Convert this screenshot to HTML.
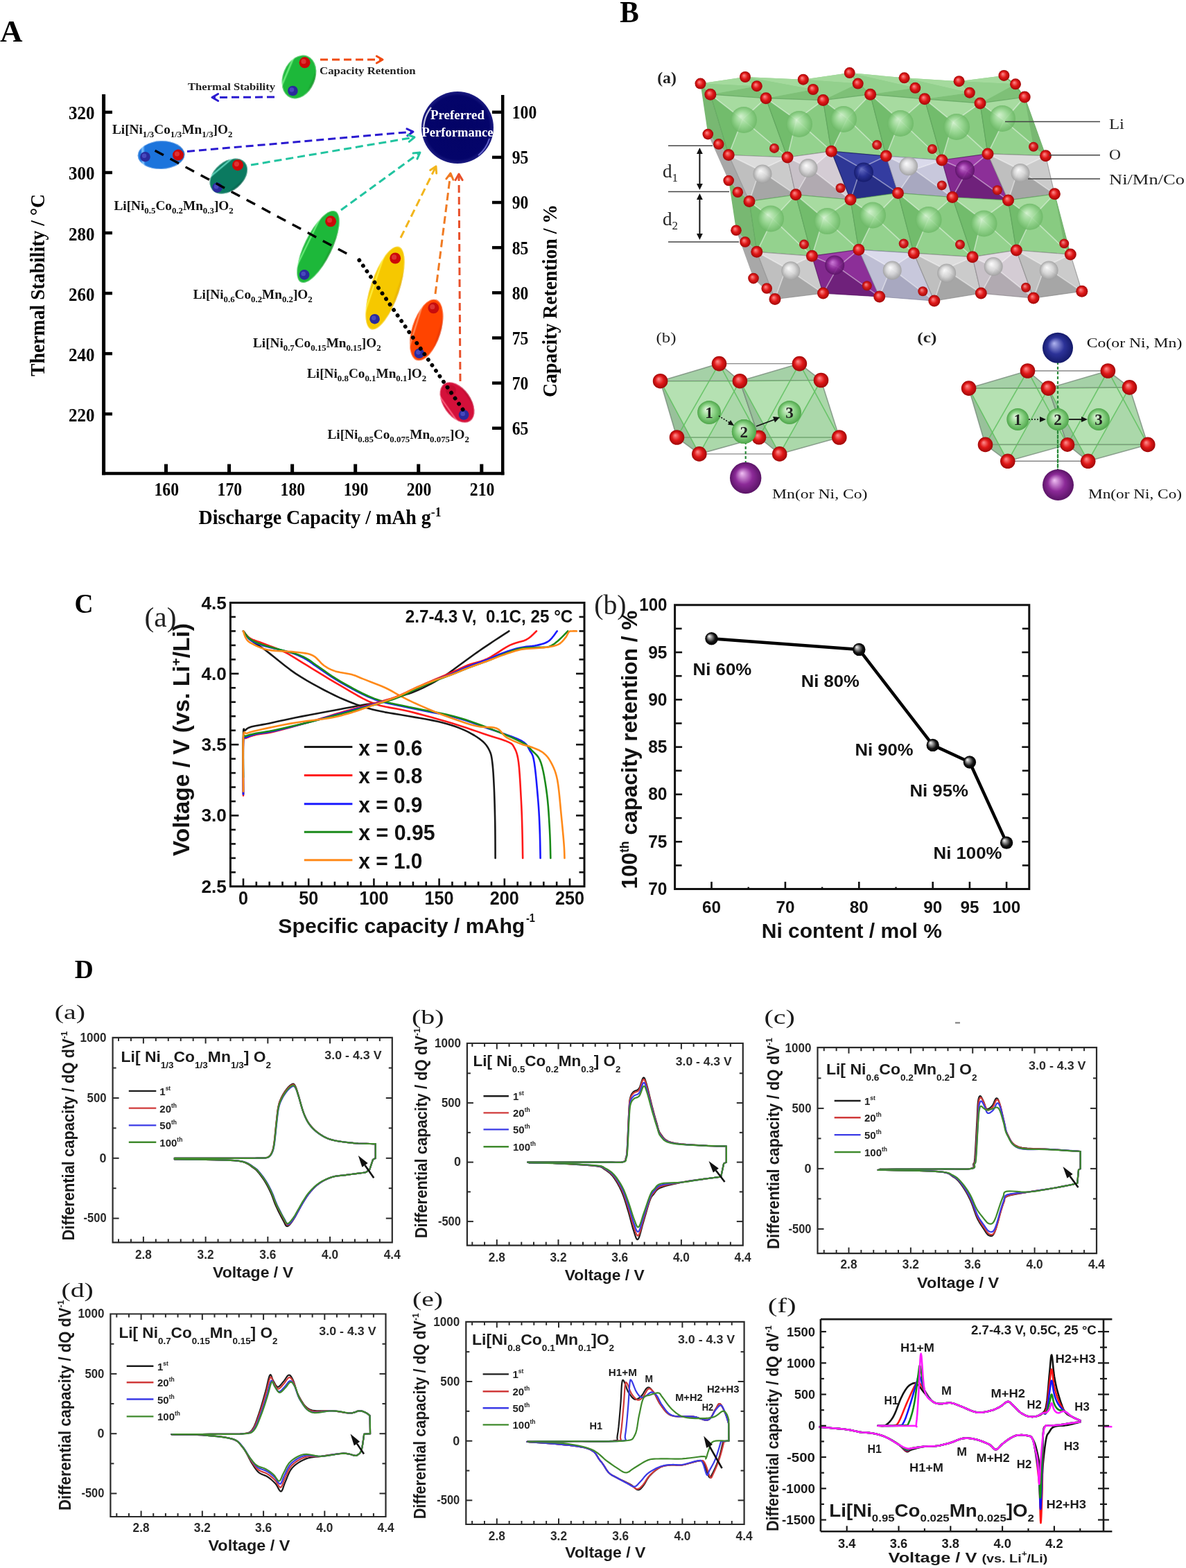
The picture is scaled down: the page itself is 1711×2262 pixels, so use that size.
<!DOCTYPE html>
<html><head><meta charset="utf-8"><title>Figure</title><style>html,body{margin:0;padding:0;background:#fff;}svg{display:block;}</style></head><body>
<svg width="1711" height="2262" viewBox="0 0 1711 2262">
<rect width="1711" height="2262" fill="#fff"/>
<text x="0" y="60" font-family='"Liberation Serif", "Times New Roman", serif' font-size="45" font-weight="bold" text-anchor="start" fill="#000" >A</text>
<defs><linearGradient id="g1" x1="0" y1="0" x2="1" y2="0"><stop offset="0" stop-color="#1c74dc"/><stop offset="0.06" stop-color="#1c74dc"/><stop offset="0.11" stop-color="#7cc0ff"/><stop offset="0.16" stop-color="#1c74dc"/><stop offset="0.88" stop-color="#1c74dc"/><stop offset="1" stop-color="#1058b8"/></linearGradient></defs><ellipse cx="0" cy="0" rx="34" ry="20.5" fill="url(#g1)" transform="translate(232.6,223.6) rotate(-2)" /><ellipse cx="0" cy="0" rx="33.4" ry="19.9" fill="none" transform="translate(232.6,223.6) rotate(-2)" stroke="#ffffff" stroke-opacity="0.35" stroke-width="1.2"/>
<defs><linearGradient id="g2" x1="0" y1="0" x2="1" y2="0"><stop offset="0" stop-color="#0b7a60"/><stop offset="0.06" stop-color="#0b7a60"/><stop offset="0.11" stop-color="#60d8c0"/><stop offset="0.16" stop-color="#0b7a60"/><stop offset="0.88" stop-color="#0b7a60"/><stop offset="1" stop-color="#075c48"/></linearGradient></defs><ellipse cx="0" cy="0" rx="21" ry="31" fill="url(#g2)" transform="translate(329.8,254.1) rotate(50)" /><ellipse cx="0" cy="0" rx="20.4" ry="30.4" fill="none" transform="translate(329.8,254.1) rotate(50)" stroke="#ffffff" stroke-opacity="0.35" stroke-width="1.2"/>
<defs><linearGradient id="g3" x1="0" y1="0" x2="1" y2="0"><stop offset="0" stop-color="#1db83a"/><stop offset="0.06" stop-color="#1db83a"/><stop offset="0.11" stop-color="#70f080"/><stop offset="0.16" stop-color="#1db83a"/><stop offset="0.88" stop-color="#1db83a"/><stop offset="1" stop-color="#189028"/></linearGradient></defs><ellipse cx="0" cy="0" rx="20" ry="57" fill="url(#g3)" transform="translate(459,356) rotate(26)" /><ellipse cx="0" cy="0" rx="19.4" ry="56.4" fill="none" transform="translate(459,356) rotate(26)" stroke="#ffffff" stroke-opacity="0.35" stroke-width="1.2"/>
<defs><linearGradient id="g4" x1="0" y1="0" x2="1" y2="0"><stop offset="0" stop-color="#f6c800"/><stop offset="0.06" stop-color="#f6c800"/><stop offset="0.11" stop-color="#fff040"/><stop offset="0.16" stop-color="#f6c800"/><stop offset="0.88" stop-color="#f6c800"/><stop offset="1" stop-color="#e0a800"/></linearGradient></defs><ellipse cx="0" cy="0" rx="21" ry="63" fill="url(#g4)" transform="translate(555.5,415.5) rotate(18.6)" /><ellipse cx="0" cy="0" rx="20.4" ry="62.4" fill="none" transform="translate(555.5,415.5) rotate(18.6)" stroke="#ffffff" stroke-opacity="0.35" stroke-width="1.2"/>
<defs><linearGradient id="g5" x1="0" y1="0" x2="1" y2="0"><stop offset="0" stop-color="#ff4400"/><stop offset="0.06" stop-color="#ff4400"/><stop offset="0.11" stop-color="#ff9060"/><stop offset="0.16" stop-color="#ff4400"/><stop offset="0.88" stop-color="#ff4400"/><stop offset="1" stop-color="#e03000"/></linearGradient></defs><ellipse cx="0" cy="0" rx="21" ry="46" fill="url(#g5)" transform="translate(615.2,476) rotate(17.4)" /><ellipse cx="0" cy="0" rx="20.4" ry="45.4" fill="none" transform="translate(615.2,476) rotate(17.4)" stroke="#ffffff" stroke-opacity="0.35" stroke-width="1.2"/>
<defs><linearGradient id="g6" x1="0" y1="0" x2="1" y2="0"><stop offset="0" stop-color="#d4103a"/><stop offset="0.06" stop-color="#d4103a"/><stop offset="0.11" stop-color="#ff6080"/><stop offset="0.16" stop-color="#d4103a"/><stop offset="0.88" stop-color="#d4103a"/><stop offset="1" stop-color="#b00828"/></linearGradient></defs><ellipse cx="0" cy="0" rx="20" ry="33" fill="url(#g6)" transform="translate(659.5,580.5) rotate(-35)" /><ellipse cx="0" cy="0" rx="19.4" ry="32.4" fill="none" transform="translate(659.5,580.5) rotate(-35)" stroke="#ffffff" stroke-opacity="0.35" stroke-width="1.2"/>
<defs><linearGradient id="g7" x1="0" y1="0" x2="1" y2="0"><stop offset="0" stop-color="#1db83a"/><stop offset="0.06" stop-color="#1db83a"/><stop offset="0.11" stop-color="#70f080"/><stop offset="0.16" stop-color="#1db83a"/><stop offset="0.88" stop-color="#1db83a"/><stop offset="1" stop-color="#189028"/></linearGradient></defs><ellipse cx="0" cy="0" rx="23.3" ry="32.7" fill="url(#g7)" transform="translate(431.4,111) rotate(22.9)" /><ellipse cx="0" cy="0" rx="22.7" ry="32.1" fill="none" transform="translate(431.4,111) rotate(22.9)" stroke="#ffffff" stroke-opacity="0.35" stroke-width="1.2"/>
<line x1="149.6" y1="136" x2="149.6" y2="685.2" stroke="#000" stroke-width="5" />
<line x1="147.1" y1="683" x2="727.4" y2="683" stroke="#000" stroke-width="4.3" />
<line x1="725.2" y1="137" x2="725.2" y2="685.2" stroke="#000" stroke-width="4.5" />
<line x1="150" y1="597.2" x2="162" y2="597.2" stroke="#000" stroke-width="4.5" />
<text x="136.6" y="607.7" font-family='"Liberation Serif", "Times New Roman", serif' font-size="27.5" font-weight="bold" text-anchor="end" fill="#000" textLength="37.5" lengthAdjust="spacingAndGlyphs">220</text>
<line x1="150" y1="510.14" x2="162" y2="510.14" stroke="#000" stroke-width="4.5" />
<text x="136.6" y="520.64" font-family='"Liberation Serif", "Times New Roman", serif' font-size="27.5" font-weight="bold" text-anchor="end" fill="#000" textLength="37.5" lengthAdjust="spacingAndGlyphs">240</text>
<line x1="150" y1="423.08" x2="162" y2="423.08" stroke="#000" stroke-width="4.5" />
<text x="136.6" y="433.58" font-family='"Liberation Serif", "Times New Roman", serif' font-size="27.5" font-weight="bold" text-anchor="end" fill="#000" textLength="37.5" lengthAdjust="spacingAndGlyphs">260</text>
<line x1="150" y1="336.02" x2="162" y2="336.02" stroke="#000" stroke-width="4.5" />
<text x="136.6" y="346.52" font-family='"Liberation Serif", "Times New Roman", serif' font-size="27.5" font-weight="bold" text-anchor="end" fill="#000" textLength="37.5" lengthAdjust="spacingAndGlyphs">280</text>
<line x1="150" y1="248.96" x2="162" y2="248.96" stroke="#000" stroke-width="4.5" />
<text x="136.6" y="259.46" font-family='"Liberation Serif", "Times New Roman", serif' font-size="27.5" font-weight="bold" text-anchor="end" fill="#000" textLength="37.5" lengthAdjust="spacingAndGlyphs">300</text>
<line x1="150" y1="161.9" x2="162" y2="161.9" stroke="#000" stroke-width="4.5" />
<text x="136.6" y="172.4" font-family='"Liberation Serif", "Times New Roman", serif' font-size="27.5" font-weight="bold" text-anchor="end" fill="#000" textLength="37.5" lengthAdjust="spacingAndGlyphs">320</text>
<line x1="239.5" y1="683" x2="239.5" y2="669.5" stroke="#000" stroke-width="5" />
<text x="240.3" y="715" font-family='"Liberation Serif", "Times New Roman", serif' font-size="27" font-weight="bold" text-anchor="middle" fill="#000" textLength="35.6" lengthAdjust="spacingAndGlyphs">160</text>
<line x1="330.56" y1="683" x2="330.56" y2="669.5" stroke="#000" stroke-width="5" />
<text x="331.36" y="715" font-family='"Liberation Serif", "Times New Roman", serif' font-size="27" font-weight="bold" text-anchor="middle" fill="#000" textLength="35.6" lengthAdjust="spacingAndGlyphs">170</text>
<line x1="421.62" y1="683" x2="421.62" y2="669.5" stroke="#000" stroke-width="5" />
<text x="422.42" y="715" font-family='"Liberation Serif", "Times New Roman", serif' font-size="27" font-weight="bold" text-anchor="middle" fill="#000" textLength="35.6" lengthAdjust="spacingAndGlyphs">180</text>
<line x1="512.68" y1="683" x2="512.68" y2="669.5" stroke="#000" stroke-width="5" />
<text x="513.48" y="715" font-family='"Liberation Serif", "Times New Roman", serif' font-size="27" font-weight="bold" text-anchor="middle" fill="#000" textLength="35.6" lengthAdjust="spacingAndGlyphs">190</text>
<line x1="603.74" y1="683" x2="603.74" y2="669.5" stroke="#000" stroke-width="5" />
<text x="604.54" y="715" font-family='"Liberation Serif", "Times New Roman", serif' font-size="27" font-weight="bold" text-anchor="middle" fill="#000" textLength="35.6" lengthAdjust="spacingAndGlyphs">200</text>
<line x1="694.8" y1="683" x2="694.8" y2="669.5" stroke="#000" stroke-width="5" />
<text x="695.6" y="715" font-family='"Liberation Serif", "Times New Roman", serif' font-size="27" font-weight="bold" text-anchor="middle" fill="#000" textLength="35.6" lengthAdjust="spacingAndGlyphs">210</text>
<line x1="710" y1="617.71" x2="725" y2="617.71" stroke="#000" stroke-width="4.5" />
<text x="738.8" y="627.11" font-family='"Liberation Serif", "Times New Roman", serif' font-size="27" font-weight="bold" text-anchor="start" fill="#000" textLength="23.6" lengthAdjust="spacingAndGlyphs">65</text>
<line x1="710" y1="552.58" x2="725" y2="552.58" stroke="#000" stroke-width="4.5" />
<text x="738.8" y="561.98" font-family='"Liberation Serif", "Times New Roman", serif' font-size="27" font-weight="bold" text-anchor="start" fill="#000" textLength="23.6" lengthAdjust="spacingAndGlyphs">70</text>
<line x1="710" y1="487.45" x2="725" y2="487.45" stroke="#000" stroke-width="4.5" />
<text x="738.8" y="496.85" font-family='"Liberation Serif", "Times New Roman", serif' font-size="27" font-weight="bold" text-anchor="start" fill="#000" textLength="23.6" lengthAdjust="spacingAndGlyphs">75</text>
<line x1="710" y1="422.32" x2="725" y2="422.32" stroke="#000" stroke-width="4.5" />
<text x="738.8" y="431.72" font-family='"Liberation Serif", "Times New Roman", serif' font-size="27" font-weight="bold" text-anchor="start" fill="#000" textLength="23.6" lengthAdjust="spacingAndGlyphs">80</text>
<line x1="710" y1="357.19" x2="725" y2="357.19" stroke="#000" stroke-width="4.5" />
<text x="738.8" y="366.59" font-family='"Liberation Serif", "Times New Roman", serif' font-size="27" font-weight="bold" text-anchor="start" fill="#000" textLength="23.6" lengthAdjust="spacingAndGlyphs">85</text>
<line x1="710" y1="292.06" x2="725" y2="292.06" stroke="#000" stroke-width="4.5" />
<text x="738.8" y="301.46" font-family='"Liberation Serif", "Times New Roman", serif' font-size="27" font-weight="bold" text-anchor="start" fill="#000" textLength="23.6" lengthAdjust="spacingAndGlyphs">90</text>
<line x1="710" y1="226.93" x2="725" y2="226.93" stroke="#000" stroke-width="4.5" />
<text x="738.8" y="236.33" font-family='"Liberation Serif", "Times New Roman", serif' font-size="27" font-weight="bold" text-anchor="start" fill="#000" textLength="23.6" lengthAdjust="spacingAndGlyphs">95</text>
<line x1="710" y1="161.8" x2="725" y2="161.8" stroke="#000" stroke-width="4.5" />
<text x="738.8" y="171.2" font-family='"Liberation Serif", "Times New Roman", serif' font-size="27" font-weight="bold" text-anchor="start" fill="#000" textLength="35.4" lengthAdjust="spacingAndGlyphs">100</text>
<text x="286.6" y="755.7" font-family='"Liberation Serif", "Times New Roman", serif' font-size="30" font-weight="bold" textLength="350" lengthAdjust="spacingAndGlyphs">Discharge Capacity / mAh g<tspan font-size="19" dy="-11">-1</tspan></text>
<text x="0" y="0" font-family='"Liberation Serif", "Times New Roman", serif' font-size="28.5" font-weight="bold" text-anchor="start" fill="#000" transform="translate(63.5,543) rotate(-90)" textLength="263" lengthAdjust="spacingAndGlyphs">Thermal Stability / &#176;C</text>
<text x="0" y="0" font-family='"Liberation Serif", "Times New Roman", serif' font-size="29" font-weight="bold" text-anchor="start" fill="#000" transform="translate(802.5,573) rotate(-90)" textLength="278" lengthAdjust="spacingAndGlyphs">Capacity Retention / %</text>
<circle cx="209.5" cy="226.2" r="7.3" fill="#2a2a9c" /><circle cx="208.04" cy="224.74" r="3.29" fill="#8080ff" opacity="0.35"/>
<circle cx="257" cy="223.6" r="8" fill="#cc0808" /><circle cx="255.4" cy="222" r="3.6" fill="#ff8080" opacity="0.35"/>
<circle cx="343" cy="238.2" r="8" fill="#cc0808" /><circle cx="341.4" cy="236.6" r="3.6" fill="#ff8080" opacity="0.35"/>
<circle cx="313.5" cy="270.6" r="7.3" fill="#2a2a9c" /><circle cx="312.04" cy="269.14" r="3.29" fill="#8080ff" opacity="0.35"/>
<circle cx="477.1" cy="319.3" r="8" fill="#cc0808" /><circle cx="475.5" cy="317.7" r="3.6" fill="#ff8080" opacity="0.35"/>
<circle cx="439.1" cy="396.4" r="7.3" fill="#2a2a9c" /><circle cx="437.64" cy="394.94" r="3.29" fill="#8080ff" opacity="0.35"/>
<circle cx="570.2" cy="372.5" r="8" fill="#cc0808" /><circle cx="568.6" cy="370.9" r="3.6" fill="#ff8080" opacity="0.35"/>
<circle cx="540.6" cy="460.2" r="7.3" fill="#2a2a9c" /><circle cx="539.14" cy="458.74" r="3.29" fill="#8080ff" opacity="0.35"/>
<circle cx="625.4" cy="444.3" r="8" fill="#c80c0c" /><circle cx="623.8" cy="442.7" r="3.6" fill="#ff8080" opacity="0.35"/>
<circle cx="604.9" cy="509.8" r="7.3" fill="#2a2a9c" /><circle cx="603.44" cy="508.34" r="3.29" fill="#8080ff" opacity="0.35"/>
<circle cx="650.5" cy="563" r="7.5" fill="#b8082a" opacity="0.6"/>
<circle cx="669.1" cy="598.5" r="7.3" fill="#2a2a9c" /><circle cx="667.64" cy="597.04" r="3.29" fill="#8080ff" opacity="0.35"/>
<circle cx="439.6" cy="90.3" r="8" fill="#cc0808" /><circle cx="438" cy="88.7" r="3.6" fill="#ff8080" opacity="0.35"/>
<circle cx="422.4" cy="131" r="7.3" fill="#2a2a9c" /><circle cx="420.94" cy="129.54" r="3.29" fill="#8080ff" opacity="0.35"/>
<line x1="223.6" y1="217.2" x2="506" y2="369" stroke="#000" stroke-width="3.4" stroke-dasharray="14,11"/>
<line x1="518.3" y1="375.4" x2="670" y2="594" stroke="#000" stroke-width="5.8" stroke-dasharray="0.1,9.6" stroke-linecap="round"/>
<line x1="270" y1="218.5" x2="596" y2="190" stroke="#2a1ad0" stroke-width="3" stroke-dasharray="11,6"/><polyline points="587.81,195.74 596,190 586.94,185.77" fill="none" stroke="#2a1ad0" stroke-width="3" stroke-linejoin="round" stroke-linecap="round" />
<line x1="362" y1="238" x2="598" y2="198" stroke="#22c4a0" stroke-width="3" stroke-dasharray="11,6"/><polyline points="590.3,204.38 598,198 588.63,194.52" fill="none" stroke="#22c4a0" stroke-width="3" stroke-linejoin="round" stroke-linecap="round" />
<line x1="492" y1="303" x2="606" y2="220" stroke="#22c4a0" stroke-width="3" stroke-dasharray="11,6"/><polyline points="601.94,229.14 606,220 596.06,221.06" fill="none" stroke="#22c4a0" stroke-width="3" stroke-linejoin="round" stroke-linecap="round" />
<line x1="578" y1="343" x2="629" y2="240" stroke="#f2b51c" stroke-width="3" stroke-dasharray="11,6"/><polyline points="629.64,249.98 629,240 620.68,245.54" fill="none" stroke="#f2b51c" stroke-width="3" stroke-linejoin="round" stroke-linecap="round" />
<line x1="628" y1="424" x2="650" y2="250" stroke="#f07a22" stroke-width="3" stroke-dasharray="11,6"/><polyline points="653.87,259.22 650,250 643.95,257.96" fill="none" stroke="#f07a22" stroke-width="3" stroke-linejoin="round" stroke-linecap="round" />
<line x1="664" y1="550" x2="662" y2="251" stroke="#e8502a" stroke-width="3" stroke-dasharray="11,6"/><polyline points="667.06,259.63 662,251 657.06,259.69" fill="none" stroke="#e8502a" stroke-width="3" stroke-linejoin="round" stroke-linecap="round" />
<line x1="462" y1="86" x2="552" y2="86" stroke="#f04a10" stroke-width="3" stroke-dasharray="11,6"/><polyline points="543.34,91 552,86 543.34,81" fill="none" stroke="#f04a10" stroke-width="3" stroke-linejoin="round" stroke-linecap="round" />
<line x1="396" y1="140" x2="306" y2="140.5" stroke="#2a1ad0" stroke-width="3" stroke-dasharray="11,6"/><polyline points="314.63,135.45 306,140.5 314.69,145.45" fill="none" stroke="#2a1ad0" stroke-width="3" stroke-linejoin="round" stroke-linecap="round" />
<text x="461" y="106.5" font-family='"Liberation Serif", "Times New Roman", serif' font-size="15.5" font-weight="bold" text-anchor="start" fill="#222" textLength="138.7" lengthAdjust="spacingAndGlyphs">Capacity Retention</text>
<text x="271" y="129.8" font-family='"Liberation Serif", "Times New Roman", serif' font-size="15.5" font-weight="bold" text-anchor="start" fill="#222" textLength="126" lengthAdjust="spacingAndGlyphs">Thermal Stability</text>
<defs><radialGradient id="pp" cx="50%" cy="50%" r="50%"><stop offset="0" stop-color="#030366"/><stop offset="0.88" stop-color="#04046a"/><stop offset="1" stop-color="#1c1c82"/></radialGradient></defs>
<circle cx="660" cy="184" r="52" fill="url(#pp)" />
<path d="M 612.5 197 A 49 49 0 0 1 622 155" fill="none" stroke="#ffffff" stroke-width="2.2" opacity="0.75" fill="none"/>
<path d="M 690 224 A 49 49 0 0 0 706 200" fill="none" stroke="#8888ee" stroke-width="2" opacity="0.7" fill="none"/>
<text x="660" y="172" font-family='"Liberation Serif", "Times New Roman", serif' font-size="19" font-weight="bold" text-anchor="middle" fill="#fff" textLength="78" lengthAdjust="spacingAndGlyphs">Preferred</text>
<text x="660" y="196.5" font-family='"Liberation Serif", "Times New Roman", serif' font-size="19" font-weight="bold" text-anchor="middle" fill="#fff" textLength="103" lengthAdjust="spacingAndGlyphs">Performance</text>
<text x="162" y="192.7" font-family='"Liberation Serif", "Times New Roman", serif' font-size="19.5" font-weight="bold" fill="#111" textLength="173.4" lengthAdjust="spacingAndGlyphs"><tspan dy="0">Li[Ni</tspan><tspan font-size="13" dy="5">1/3</tspan><tspan dy="-5">Co</tspan><tspan font-size="13" dy="5">1/3</tspan><tspan dy="-5">Mn</tspan><tspan font-size="13" dy="5">1/3</tspan><tspan dy="-5">]O</tspan><tspan font-size="13" dy="5">2</tspan></text>
<text x="164.5" y="303.3" font-family='"Liberation Serif", "Times New Roman", serif' font-size="19.5" font-weight="bold" fill="#111" textLength="172.2" lengthAdjust="spacingAndGlyphs"><tspan dy="0">Li[Ni</tspan><tspan font-size="13" dy="5">0.5</tspan><tspan dy="-5">Co</tspan><tspan font-size="13" dy="5">0.2</tspan><tspan dy="-5">Mn</tspan><tspan font-size="13" dy="5">0.3</tspan><tspan dy="-5">]O</tspan><tspan font-size="13" dy="5">2</tspan></text>
<text x="278.8" y="431.4" font-family='"Liberation Serif", "Times New Roman", serif' font-size="19.5" font-weight="bold" fill="#111" textLength="171.9" lengthAdjust="spacingAndGlyphs"><tspan dy="0">Li[Ni</tspan><tspan font-size="13" dy="5">0.6</tspan><tspan dy="-5">Co</tspan><tspan font-size="13" dy="5">0.2</tspan><tspan dy="-5">Mn</tspan><tspan font-size="13" dy="5">0.2</tspan><tspan dy="-5">]O</tspan><tspan font-size="13" dy="5">2</tspan></text>
<text x="365" y="500.8" font-family='"Liberation Serif", "Times New Roman", serif' font-size="19.5" font-weight="bold" fill="#111" textLength="184.6" lengthAdjust="spacingAndGlyphs"><tspan dy="0">Li[Ni</tspan><tspan font-size="13" dy="5">0.7</tspan><tspan dy="-5">Co</tspan><tspan font-size="13" dy="5">0.15</tspan><tspan dy="-5">Mn</tspan><tspan font-size="13" dy="5">0.15</tspan><tspan dy="-5">]O</tspan><tspan font-size="13" dy="5">2</tspan></text>
<text x="443" y="544.5" font-family='"Liberation Serif", "Times New Roman", serif' font-size="19.5" font-weight="bold" fill="#111" textLength="172.2" lengthAdjust="spacingAndGlyphs"><tspan dy="0">Li[Ni</tspan><tspan font-size="13" dy="5">0.8</tspan><tspan dy="-5">Co</tspan><tspan font-size="13" dy="5">0.1</tspan><tspan dy="-5">Mn</tspan><tspan font-size="13" dy="5">0.1</tspan><tspan dy="-5">]O</tspan><tspan font-size="13" dy="5">2</tspan></text>
<text x="472.5" y="633" font-family='"Liberation Serif", "Times New Roman", serif' font-size="19.5" font-weight="bold" fill="#111" textLength="204.3" lengthAdjust="spacingAndGlyphs"><tspan dy="0">Li[Ni</tspan><tspan font-size="13" dy="5">0.85</tspan><tspan dy="-5">Co</tspan><tspan font-size="13" dy="5">0.075</tspan><tspan dy="-5">Mn</tspan><tspan font-size="13" dy="5">0.075</tspan><tspan dy="-5">]O</tspan><tspan font-size="13" dy="5">2</tspan></text>
<defs><radialGradient id="sO" cx="0.5" cy="0.5" r="0.5" fx="0.38" fy="0.35"><stop offset="0" stop-color="#ff9090"/><stop offset="0.55" stop-color="#e01818"/><stop offset="1" stop-color="#a00808"/></radialGradient><radialGradient id="sOb" cx="0.5" cy="0.5" r="0.5" fx="0.38" fy="0.35"><stop offset="0" stop-color="#f49090"/><stop offset="0.55" stop-color="#d81c1c"/><stop offset="1" stop-color="#a00c0c"/></radialGradient><radialGradient id="sLi" cx="0.5" cy="0.5" r="0.5" fx="0.38" fy="0.35"><stop offset="0" stop-color="#d8f4d4"/><stop offset="0.55" stop-color="#9ad894"/><stop offset="1" stop-color="#6cb866"/></radialGradient><radialGradient id="sTM" cx="0.5" cy="0.5" r="0.5" fx="0.38" fy="0.35"><stop offset="0" stop-color="#ffffff"/><stop offset="0.55" stop-color="#d8d8d8"/><stop offset="1" stop-color="#a0a0a0"/></radialGradient><radialGradient id="sBl" cx="0.5" cy="0.5" r="0.5" fx="0.38" fy="0.35"><stop offset="0" stop-color="#6a72c8"/><stop offset="0.55" stop-color="#2a3296"/><stop offset="1" stop-color="#141a6a"/></radialGradient><radialGradient id="sPu" cx="0.5" cy="0.5" r="0.5" fx="0.38" fy="0.35"><stop offset="0" stop-color="#d080dc"/><stop offset="0.55" stop-color="#8c2a98"/><stop offset="1" stop-color="#5a1466"/></radialGradient><radialGradient id="sBlue2" cx="0.5" cy="0.5" r="0.5" fx="0.38" fy="0.35"><stop offset="0" stop-color="#b0b4f0"/><stop offset="0.55" stop-color="#2c3298"/><stop offset="1" stop-color="#141a6a"/></radialGradient><radialGradient id="sPur2" cx="0.5" cy="0.5" r="0.5" fx="0.38" fy="0.35"><stop offset="0" stop-color="#f0c0f4"/><stop offset="0.55" stop-color="#8c2a98"/><stop offset="1" stop-color="#5a1466"/></radialGradient><radialGradient id="sLi2" cx="0.5" cy="0.5" r="0.5" fx="0.38" fy="0.35"><stop offset="0" stop-color="#e8f8e4"/><stop offset="0.55" stop-color="#8ed488"/><stop offset="1" stop-color="#4ea64a"/></radialGradient></defs>
<text x="894.3" y="31.6" font-family='"Liberation Serif", "Times New Roman", serif' font-size="45" font-weight="bold" text-anchor="start" fill="#000" textLength="27.5" lengthAdjust="spacingAndGlyphs">B</text>
<text x="948.2" y="119.8" font-family='"Liberation Serif", "Times New Roman", serif' font-size="24" font-weight="bold" text-anchor="start" fill="#222" textLength="27.7" lengthAdjust="spacingAndGlyphs">(a)</text>
<polygon points="1010.5,120.6 1075,111 1158.8,114.7 1225.7,105.1 1304.6,112.3 1383.6,117.2 1448.4,108.9 1478.2,140.1 1414,148.9 1334,142.8 1255.6,136.2 1187.5,144.6 1105,141.7 1024.9,136.2" fill="#8ccc86" stroke="none" stroke-width="1" />
<polygon points="1010.5,120.6 1075,111 1091.8,124.2" fill="#a6dca0" stroke="none" stroke-width="1" opacity="0.9"/>
<polygon points="1091.8,124.2 1024.9,136.2 1105,141.7" fill="#7cbf76" stroke="none" stroke-width="1" opacity="0.9"/>
<polygon points="1010.5,120.6 1091.8,124.2 1024.9,136.2" fill="#94d08e" stroke="none" stroke-width="1" opacity="0.9"/>
<polygon points="1075,111 1091.8,124.2 1105,141.7" fill="#6fb269" stroke="none" stroke-width="1" opacity="0.9"/>
<polygon points="1075,111 1158.8,114.7 1173,129" fill="#a6dca0" stroke="none" stroke-width="1" opacity="0.9"/>
<polygon points="1173,129 1105,141.7 1187.5,144.6" fill="#7cbf76" stroke="none" stroke-width="1" opacity="0.9"/>
<polygon points="1075,111 1173,129 1105,141.7" fill="#94d08e" stroke="none" stroke-width="1" opacity="0.9"/>
<polygon points="1158.8,114.7 1173,129 1187.5,144.6" fill="#6fb269" stroke="none" stroke-width="1" opacity="0.9"/>
<polygon points="1158.8,114.7 1225.7,105.1 1237.7,120.6" fill="#a6dca0" stroke="none" stroke-width="1" opacity="0.9"/>
<polygon points="1237.7,120.6 1187.5,144.6 1255.6,136.2" fill="#7cbf76" stroke="none" stroke-width="1" opacity="0.9"/>
<polygon points="1158.8,114.7 1237.7,120.6 1187.5,144.6" fill="#94d08e" stroke="none" stroke-width="1" opacity="0.9"/>
<polygon points="1225.7,105.1 1237.7,120.6 1255.6,136.2" fill="#6fb269" stroke="none" stroke-width="1" opacity="0.9"/>
<polygon points="1225.7,105.1 1304.6,112.3 1320.3,126.8" fill="#a6dca0" stroke="none" stroke-width="1" opacity="0.9"/>
<polygon points="1320.3,126.8 1255.6,136.2 1334,142.8" fill="#7cbf76" stroke="none" stroke-width="1" opacity="0.9"/>
<polygon points="1225.7,105.1 1320.3,126.8 1255.6,136.2" fill="#94d08e" stroke="none" stroke-width="1" opacity="0.9"/>
<polygon points="1304.6,112.3 1320.3,126.8 1334,142.8" fill="#6fb269" stroke="none" stroke-width="1" opacity="0.9"/>
<polygon points="1304.6,112.3 1383.6,117.2 1398.8,133.7" fill="#a6dca0" stroke="none" stroke-width="1" opacity="0.9"/>
<polygon points="1398.8,133.7 1334,142.8 1414,148.9" fill="#7cbf76" stroke="none" stroke-width="1" opacity="0.9"/>
<polygon points="1304.6,112.3 1398.8,133.7 1334,142.8" fill="#94d08e" stroke="none" stroke-width="1" opacity="0.9"/>
<polygon points="1383.6,117.2 1398.8,133.7 1414,148.9" fill="#6fb269" stroke="none" stroke-width="1" opacity="0.9"/>
<polygon points="1383.6,117.2 1448.4,108.9 1465,121.3" fill="#a6dca0" stroke="none" stroke-width="1" opacity="0.9"/>
<polygon points="1465,121.3 1414,148.9 1478.2,140.1" fill="#7cbf76" stroke="none" stroke-width="1" opacity="0.9"/>
<polygon points="1383.6,117.2 1465,121.3 1414,148.9" fill="#94d08e" stroke="none" stroke-width="1" opacity="0.9"/>
<polygon points="1448.4,108.9 1465,121.3 1478.2,140.1" fill="#6fb269" stroke="none" stroke-width="1" opacity="0.9"/>
<polygon points="1010.5,120.6 1024.9,136.2 1051.2,223.5 1021.3,193.6" fill="#78b872" stroke="none" stroke-width="1" />
<polygon points="1021.3,193.6 1051.2,223.5 1081,290.4 1051.2,260.5" fill="#a8a8a8" stroke="none" stroke-width="1" />
<polygon points="1051.2,260.5 1081,290.4 1091.8,363.3 1062,332.2" fill="#78b872" stroke="none" stroke-width="1" />
<polygon points="1062,332.2 1091.8,363.3 1118,431.5 1087,401.6" fill="#a8a8a8" stroke="none" stroke-width="1" />
<polygon points="1024.9,136.2 1105,141.7 1136,227 1051.2,223.5" fill="#94d28e" stroke="none" stroke-width="1" />
<polygon points="1024.9,136.2 1105,141.7 1071.28,172.1" fill="#a8dca2" stroke="none" stroke-width="1" opacity="0.9"/>
<polygon points="1024.9,136.2 1051.2,223.5 1071.28,172.1" fill="#6cb866" stroke="none" stroke-width="1" opacity="0.85"/>
<polygon points="1105,141.7 1136,227 1071.28,172.1" fill="#86ca80" stroke="none" stroke-width="1" opacity="0.9"/>
<polygon points="1051.2,223.5 1136,227 1071.28,172.1" fill="#94d28e" stroke="none" stroke-width="1" opacity="0.9"/>
<line x1="1071.28" y1="172.1" x2="1024.9" y2="136.2" stroke="#ffffff" stroke-width="1.6" opacity="0.45"/>
<line x1="1071.28" y1="172.1" x2="1105" y2="141.7" stroke="#ffffff" stroke-width="1.6" opacity="0.45"/>
<line x1="1071.28" y1="172.1" x2="1051.2" y2="223.5" stroke="#ffffff" stroke-width="1.6" opacity="0.45"/>
<line x1="1071.28" y1="172.1" x2="1136" y2="227" stroke="#ffffff" stroke-width="1.6" opacity="0.45"/>
<polygon points="1024.9,136.2 1105,141.7 1136,227 1051.2,223.5" fill="none" stroke="#5a9e58" stroke-width="1.2" stroke-opacity="0.7"/>
<polygon points="1105,141.7 1187.5,144.6 1199.4,218.2 1136,227" fill="#94d28e" stroke="none" stroke-width="1" />
<polygon points="1105,141.7 1187.5,144.6 1148.97,172.88" fill="#a8dca2" stroke="none" stroke-width="1" opacity="0.9"/>
<polygon points="1105,141.7 1136,227 1148.97,172.88" fill="#6cb866" stroke="none" stroke-width="1" opacity="0.85"/>
<polygon points="1187.5,144.6 1199.4,218.2 1148.97,172.88" fill="#86ca80" stroke="none" stroke-width="1" opacity="0.9"/>
<polygon points="1136,227 1199.4,218.2 1148.97,172.88" fill="#94d28e" stroke="none" stroke-width="1" opacity="0.9"/>
<line x1="1148.97" y1="172.88" x2="1105" y2="141.7" stroke="#ffffff" stroke-width="1.6" opacity="0.45"/>
<line x1="1148.97" y1="172.88" x2="1187.5" y2="144.6" stroke="#ffffff" stroke-width="1.6" opacity="0.45"/>
<line x1="1148.97" y1="172.88" x2="1136" y2="227" stroke="#ffffff" stroke-width="1.6" opacity="0.45"/>
<line x1="1148.97" y1="172.88" x2="1199.4" y2="218.2" stroke="#ffffff" stroke-width="1.6" opacity="0.45"/>
<polygon points="1105,141.7 1187.5,144.6 1199.4,218.2 1136,227" fill="none" stroke="#5a9e58" stroke-width="1.2" stroke-opacity="0.7"/>
<polygon points="1187.5,144.6 1255.6,136.2 1278.3,225.1 1199.4,218.2" fill="#94d28e" stroke="none" stroke-width="1" />
<polygon points="1187.5,144.6 1255.6,136.2 1222.2,171.02" fill="#a8dca2" stroke="none" stroke-width="1" opacity="0.9"/>
<polygon points="1187.5,144.6 1199.4,218.2 1222.2,171.02" fill="#6cb866" stroke="none" stroke-width="1" opacity="0.85"/>
<polygon points="1255.6,136.2 1278.3,225.1 1222.2,171.02" fill="#86ca80" stroke="none" stroke-width="1" opacity="0.9"/>
<polygon points="1199.4,218.2 1278.3,225.1 1222.2,171.02" fill="#94d28e" stroke="none" stroke-width="1" opacity="0.9"/>
<line x1="1222.2" y1="171.02" x2="1187.5" y2="144.6" stroke="#ffffff" stroke-width="1.6" opacity="0.45"/>
<line x1="1222.2" y1="171.02" x2="1255.6" y2="136.2" stroke="#ffffff" stroke-width="1.6" opacity="0.45"/>
<line x1="1222.2" y1="171.02" x2="1199.4" y2="218.2" stroke="#ffffff" stroke-width="1.6" opacity="0.45"/>
<line x1="1222.2" y1="171.02" x2="1278.3" y2="225.1" stroke="#ffffff" stroke-width="1.6" opacity="0.45"/>
<polygon points="1187.5,144.6 1255.6,136.2 1278.3,225.1 1199.4,218.2" fill="none" stroke="#5a9e58" stroke-width="1.2" stroke-opacity="0.7"/>
<polygon points="1255.6,136.2 1334,142.8 1358.8,231 1278.3,225.1" fill="#94d28e" stroke="none" stroke-width="1" />
<polygon points="1255.6,136.2 1334,142.8 1298.67,173.78" fill="#a8dca2" stroke="none" stroke-width="1" opacity="0.9"/>
<polygon points="1255.6,136.2 1278.3,225.1 1298.67,173.78" fill="#6cb866" stroke="none" stroke-width="1" opacity="0.85"/>
<polygon points="1334,142.8 1358.8,231 1298.67,173.78" fill="#86ca80" stroke="none" stroke-width="1" opacity="0.9"/>
<polygon points="1278.3,225.1 1358.8,231 1298.67,173.78" fill="#94d28e" stroke="none" stroke-width="1" opacity="0.9"/>
<line x1="1298.67" y1="173.78" x2="1255.6" y2="136.2" stroke="#ffffff" stroke-width="1.6" opacity="0.45"/>
<line x1="1298.67" y1="173.78" x2="1334" y2="142.8" stroke="#ffffff" stroke-width="1.6" opacity="0.45"/>
<line x1="1298.67" y1="173.78" x2="1278.3" y2="225.1" stroke="#ffffff" stroke-width="1.6" opacity="0.45"/>
<line x1="1298.67" y1="173.78" x2="1358.8" y2="231" stroke="#ffffff" stroke-width="1.6" opacity="0.45"/>
<polygon points="1255.6,136.2 1334,142.8 1358.8,231 1278.3,225.1" fill="none" stroke="#5a9e58" stroke-width="1.2" stroke-opacity="0.7"/>
<polygon points="1334,142.8 1414,148.9 1425,221.9 1358.8,231" fill="#94d28e" stroke="none" stroke-width="1" />
<polygon points="1334,142.8 1414,148.9 1374.95,176.15" fill="#a8dca2" stroke="none" stroke-width="1" opacity="0.9"/>
<polygon points="1334,142.8 1358.8,231 1374.95,176.15" fill="#6cb866" stroke="none" stroke-width="1" opacity="0.85"/>
<polygon points="1414,148.9 1425,221.9 1374.95,176.15" fill="#86ca80" stroke="none" stroke-width="1" opacity="0.9"/>
<polygon points="1358.8,231 1425,221.9 1374.95,176.15" fill="#94d28e" stroke="none" stroke-width="1" opacity="0.9"/>
<line x1="1374.95" y1="176.15" x2="1334" y2="142.8" stroke="#ffffff" stroke-width="1.6" opacity="0.45"/>
<line x1="1374.95" y1="176.15" x2="1414" y2="148.9" stroke="#ffffff" stroke-width="1.6" opacity="0.45"/>
<line x1="1374.95" y1="176.15" x2="1358.8" y2="231" stroke="#ffffff" stroke-width="1.6" opacity="0.45"/>
<line x1="1374.95" y1="176.15" x2="1425" y2="221.9" stroke="#ffffff" stroke-width="1.6" opacity="0.45"/>
<polygon points="1334,142.8 1414,148.9 1425,221.9 1358.8,231" fill="none" stroke="#5a9e58" stroke-width="1.2" stroke-opacity="0.7"/>
<polygon points="1414,148.9 1478.2,140.1 1508.5,224.7 1425,221.9" fill="#94d28e" stroke="none" stroke-width="1" />
<polygon points="1414,148.9 1478.2,140.1 1448.42,173.9" fill="#a8dca2" stroke="none" stroke-width="1" opacity="0.9"/>
<polygon points="1414,148.9 1425,221.9 1448.42,173.9" fill="#6cb866" stroke="none" stroke-width="1" opacity="0.85"/>
<polygon points="1478.2,140.1 1508.5,224.7 1448.42,173.9" fill="#86ca80" stroke="none" stroke-width="1" opacity="0.9"/>
<polygon points="1425,221.9 1508.5,224.7 1448.42,173.9" fill="#94d28e" stroke="none" stroke-width="1" opacity="0.9"/>
<line x1="1448.42" y1="173.9" x2="1414" y2="148.9" stroke="#ffffff" stroke-width="1.6" opacity="0.45"/>
<line x1="1448.42" y1="173.9" x2="1478.2" y2="140.1" stroke="#ffffff" stroke-width="1.6" opacity="0.45"/>
<line x1="1448.42" y1="173.9" x2="1425" y2="221.9" stroke="#ffffff" stroke-width="1.6" opacity="0.45"/>
<line x1="1448.42" y1="173.9" x2="1508.5" y2="224.7" stroke="#ffffff" stroke-width="1.6" opacity="0.45"/>
<polygon points="1414,148.9 1478.2,140.1 1508.5,224.7 1425,221.9" fill="none" stroke="#5a9e58" stroke-width="1.2" stroke-opacity="0.7"/>
<polygon points="1051.2,223.5 1136,227 1148,280.8 1081,290.4" fill="#cbcbcb" stroke="none" stroke-width="1" />
<polygon points="1051.2,223.5 1136,227 1096.05,245.43" fill="#dedede" stroke="none" stroke-width="1" opacity="0.9"/>
<polygon points="1051.2,223.5 1081,290.4 1096.05,245.43" fill="#bdbdbd" stroke="none" stroke-width="1" opacity="0.85"/>
<polygon points="1136,227 1148,280.8 1096.05,245.43" fill="#cbcbcb" stroke="none" stroke-width="1" opacity="0.9"/>
<polygon points="1081,290.4 1148,280.8 1096.05,245.43" fill="#a2a2a2" stroke="none" stroke-width="1" opacity="0.9"/>
<line x1="1096.05" y1="245.43" x2="1051.2" y2="223.5" stroke="#ffffff" stroke-width="1.6" opacity="0.45"/>
<line x1="1096.05" y1="245.43" x2="1136" y2="227" stroke="#ffffff" stroke-width="1.6" opacity="0.45"/>
<line x1="1096.05" y1="245.43" x2="1081" y2="290.4" stroke="#ffffff" stroke-width="1.6" opacity="0.45"/>
<line x1="1096.05" y1="245.43" x2="1148" y2="280.8" stroke="#ffffff" stroke-width="1.6" opacity="0.45"/>
<polygon points="1051.2,223.5 1136,227 1148,280.8 1081,290.4" fill="none" stroke="#8c8c8c" stroke-width="1.2" stroke-opacity="0.7"/>
<polygon points="1136,227 1199.4,218.2 1227,288 1148,280.8" fill="#d4ccd4" stroke="none" stroke-width="1" />
<polygon points="1136,227 1199.4,218.2 1169.6,243.5" fill="#e4dee4" stroke="none" stroke-width="1" opacity="0.9"/>
<polygon points="1136,227 1148,280.8 1169.6,243.5" fill="#c6bec6" stroke="none" stroke-width="1" opacity="0.85"/>
<polygon points="1199.4,218.2 1227,288 1169.6,243.5" fill="#d4ccd4" stroke="none" stroke-width="1" opacity="0.9"/>
<polygon points="1148,280.8 1227,288 1169.6,243.5" fill="#ada6ad" stroke="none" stroke-width="1" opacity="0.9"/>
<line x1="1169.6" y1="243.5" x2="1136" y2="227" stroke="#ffffff" stroke-width="1.6" opacity="0.45"/>
<line x1="1169.6" y1="243.5" x2="1199.4" y2="218.2" stroke="#ffffff" stroke-width="1.6" opacity="0.45"/>
<line x1="1169.6" y1="243.5" x2="1148" y2="280.8" stroke="#ffffff" stroke-width="1.6" opacity="0.45"/>
<line x1="1169.6" y1="243.5" x2="1227" y2="288" stroke="#ffffff" stroke-width="1.6" opacity="0.45"/>
<polygon points="1136,227 1199.4,218.2 1227,288 1148,280.8" fill="none" stroke="#8c868c" stroke-width="1.2" stroke-opacity="0.7"/>
<polygon points="1199.4,218.2 1278.3,225.1 1295.5,278.4 1227,288" fill="#343ca0" stroke="none" stroke-width="1" />
<polygon points="1199.4,218.2 1278.3,225.1 1242.05,242.42" fill="#444cae" stroke="none" stroke-width="1" opacity="0.9"/>
<polygon points="1199.4,218.2 1227,288 1242.05,242.42" fill="#2e3694" stroke="none" stroke-width="1" opacity="0.85"/>
<polygon points="1278.3,225.1 1295.5,278.4 1242.05,242.42" fill="#343ca0" stroke="none" stroke-width="1" opacity="0.9"/>
<polygon points="1227,288 1295.5,278.4 1242.05,242.42" fill="#262c84" stroke="none" stroke-width="1" opacity="0.9"/>
<line x1="1242.05" y1="242.42" x2="1199.4" y2="218.2" stroke="#ffffff" stroke-width="1.6" opacity="0.45"/>
<line x1="1242.05" y1="242.42" x2="1278.3" y2="225.1" stroke="#ffffff" stroke-width="1.6" opacity="0.45"/>
<line x1="1242.05" y1="242.42" x2="1227" y2="288" stroke="#ffffff" stroke-width="1.6" opacity="0.45"/>
<line x1="1242.05" y1="242.42" x2="1295.5" y2="278.4" stroke="#ffffff" stroke-width="1.6" opacity="0.45"/>
<polygon points="1199.4,218.2 1278.3,225.1 1295.5,278.4 1227,288" fill="none" stroke="#1a1e60" stroke-width="1.2" stroke-opacity="0.7"/>
<polygon points="1278.3,225.1 1358.8,231 1374,284.5 1295.5,278.4" fill="#c8c8dc" stroke="none" stroke-width="1" />
<polygon points="1278.3,225.1 1358.8,231 1318.65,244.75" fill="#dcdcec" stroke="none" stroke-width="1" opacity="0.9"/>
<polygon points="1278.3,225.1 1295.5,278.4 1318.65,244.75" fill="#bcbcd2" stroke="none" stroke-width="1" opacity="0.85"/>
<polygon points="1358.8,231 1374,284.5 1318.65,244.75" fill="#c8c8dc" stroke="none" stroke-width="1" opacity="0.9"/>
<polygon points="1295.5,278.4 1374,284.5 1318.65,244.75" fill="#a4a4bc" stroke="none" stroke-width="1" opacity="0.9"/>
<line x1="1318.65" y1="244.75" x2="1278.3" y2="225.1" stroke="#ffffff" stroke-width="1.6" opacity="0.45"/>
<line x1="1318.65" y1="244.75" x2="1358.8" y2="231" stroke="#ffffff" stroke-width="1.6" opacity="0.45"/>
<line x1="1318.65" y1="244.75" x2="1295.5" y2="278.4" stroke="#ffffff" stroke-width="1.6" opacity="0.45"/>
<line x1="1318.65" y1="244.75" x2="1374" y2="284.5" stroke="#ffffff" stroke-width="1.6" opacity="0.45"/>
<polygon points="1278.3,225.1 1358.8,231 1374,284.5 1295.5,278.4" fill="none" stroke="#8888a0" stroke-width="1.2" stroke-opacity="0.7"/>
<polygon points="1358.8,231 1425,221.9 1454.5,288.9 1374,284.5" fill="#8c3098" stroke="none" stroke-width="1" />
<polygon points="1358.8,231 1425,221.9 1395.08,246.57" fill="#a040ac" stroke="none" stroke-width="1" opacity="0.9"/>
<polygon points="1358.8,231 1374,284.5 1395.08,246.57" fill="#80288c" stroke="none" stroke-width="1" opacity="0.85"/>
<polygon points="1425,221.9 1454.5,288.9 1395.08,246.57" fill="#8c3098" stroke="none" stroke-width="1" opacity="0.9"/>
<polygon points="1374,284.5 1454.5,288.9 1395.08,246.57" fill="#6c2078" stroke="none" stroke-width="1" opacity="0.9"/>
<line x1="1395.08" y1="246.57" x2="1358.8" y2="231" stroke="#ffffff" stroke-width="1.6" opacity="0.45"/>
<line x1="1395.08" y1="246.57" x2="1425" y2="221.9" stroke="#ffffff" stroke-width="1.6" opacity="0.45"/>
<line x1="1395.08" y1="246.57" x2="1374" y2="284.5" stroke="#ffffff" stroke-width="1.6" opacity="0.45"/>
<line x1="1395.08" y1="246.57" x2="1454.5" y2="288.9" stroke="#ffffff" stroke-width="1.6" opacity="0.45"/>
<polygon points="1358.8,231 1425,221.9 1454.5,288.9 1374,284.5" fill="none" stroke="#5a1a66" stroke-width="1.2" stroke-opacity="0.7"/>
<polygon points="1425,221.9 1508.5,224.7 1521.4,279.8 1454.5,288.9" fill="#cbcbcb" stroke="none" stroke-width="1" />
<polygon points="1425,221.9 1508.5,224.7 1469.35,243.82" fill="#dedede" stroke="none" stroke-width="1" opacity="0.9"/>
<polygon points="1425,221.9 1454.5,288.9 1469.35,243.82" fill="#bdbdbd" stroke="none" stroke-width="1" opacity="0.85"/>
<polygon points="1508.5,224.7 1521.4,279.8 1469.35,243.82" fill="#cbcbcb" stroke="none" stroke-width="1" opacity="0.9"/>
<polygon points="1454.5,288.9 1521.4,279.8 1469.35,243.82" fill="#a2a2a2" stroke="none" stroke-width="1" opacity="0.9"/>
<line x1="1469.35" y1="243.82" x2="1425" y2="221.9" stroke="#ffffff" stroke-width="1.6" opacity="0.45"/>
<line x1="1469.35" y1="243.82" x2="1508.5" y2="224.7" stroke="#ffffff" stroke-width="1.6" opacity="0.45"/>
<line x1="1469.35" y1="243.82" x2="1454.5" y2="288.9" stroke="#ffffff" stroke-width="1.6" opacity="0.45"/>
<line x1="1469.35" y1="243.82" x2="1521.4" y2="279.8" stroke="#ffffff" stroke-width="1.6" opacity="0.45"/>
<polygon points="1425,221.9 1508.5,224.7 1521.4,279.8 1454.5,288.9" fill="none" stroke="#8c8c8c" stroke-width="1.2" stroke-opacity="0.7"/>
<polygon points="1081,290.4 1148,280.8 1171.4,369.3 1091.8,363.3" fill="#94d28e" stroke="none" stroke-width="1" />
<polygon points="1081,290.4 1148,280.8 1115.05,315.95" fill="#a8dca2" stroke="none" stroke-width="1" opacity="0.9"/>
<polygon points="1081,290.4 1091.8,363.3 1115.05,315.95" fill="#6cb866" stroke="none" stroke-width="1" opacity="0.85"/>
<polygon points="1148,280.8 1171.4,369.3 1115.05,315.95" fill="#86ca80" stroke="none" stroke-width="1" opacity="0.9"/>
<polygon points="1091.8,363.3 1171.4,369.3 1115.05,315.95" fill="#94d28e" stroke="none" stroke-width="1" opacity="0.9"/>
<line x1="1115.05" y1="315.95" x2="1081" y2="290.4" stroke="#ffffff" stroke-width="1.6" opacity="0.45"/>
<line x1="1115.05" y1="315.95" x2="1148" y2="280.8" stroke="#ffffff" stroke-width="1.6" opacity="0.45"/>
<line x1="1115.05" y1="315.95" x2="1091.8" y2="363.3" stroke="#ffffff" stroke-width="1.6" opacity="0.45"/>
<line x1="1115.05" y1="315.95" x2="1171.4" y2="369.3" stroke="#ffffff" stroke-width="1.6" opacity="0.45"/>
<polygon points="1081,290.4 1148,280.8 1171.4,369.3 1091.8,363.3" fill="none" stroke="#5a9e58" stroke-width="1.2" stroke-opacity="0.7"/>
<polygon points="1148,280.8 1227,288 1238.9,360.2 1171.4,369.3" fill="#94d28e" stroke="none" stroke-width="1" />
<polygon points="1148,280.8 1227,288 1188.33,314.57" fill="#a8dca2" stroke="none" stroke-width="1" opacity="0.9"/>
<polygon points="1148,280.8 1171.4,369.3 1188.33,314.57" fill="#6cb866" stroke="none" stroke-width="1" opacity="0.85"/>
<polygon points="1227,288 1238.9,360.2 1188.33,314.57" fill="#86ca80" stroke="none" stroke-width="1" opacity="0.9"/>
<polygon points="1171.4,369.3 1238.9,360.2 1188.33,314.57" fill="#94d28e" stroke="none" stroke-width="1" opacity="0.9"/>
<line x1="1188.33" y1="314.57" x2="1148" y2="280.8" stroke="#ffffff" stroke-width="1.6" opacity="0.45"/>
<line x1="1188.33" y1="314.57" x2="1227" y2="288" stroke="#ffffff" stroke-width="1.6" opacity="0.45"/>
<line x1="1188.33" y1="314.57" x2="1171.4" y2="369.3" stroke="#ffffff" stroke-width="1.6" opacity="0.45"/>
<line x1="1188.33" y1="314.57" x2="1238.9" y2="360.2" stroke="#ffffff" stroke-width="1.6" opacity="0.45"/>
<polygon points="1148,280.8 1227,288 1238.9,360.2 1171.4,369.3" fill="none" stroke="#5a9e58" stroke-width="1.2" stroke-opacity="0.7"/>
<polygon points="1227,288 1295.5,278.4 1318.3,365.2 1238.9,360.2" fill="#94d28e" stroke="none" stroke-width="1" />
<polygon points="1227,288 1295.5,278.4 1261.92,312.95" fill="#a8dca2" stroke="none" stroke-width="1" opacity="0.9"/>
<polygon points="1227,288 1238.9,360.2 1261.92,312.95" fill="#6cb866" stroke="none" stroke-width="1" opacity="0.85"/>
<polygon points="1295.5,278.4 1318.3,365.2 1261.92,312.95" fill="#86ca80" stroke="none" stroke-width="1" opacity="0.9"/>
<polygon points="1238.9,360.2 1318.3,365.2 1261.92,312.95" fill="#94d28e" stroke="none" stroke-width="1" opacity="0.9"/>
<line x1="1261.92" y1="312.95" x2="1227" y2="288" stroke="#ffffff" stroke-width="1.6" opacity="0.45"/>
<line x1="1261.92" y1="312.95" x2="1295.5" y2="278.4" stroke="#ffffff" stroke-width="1.6" opacity="0.45"/>
<line x1="1261.92" y1="312.95" x2="1238.9" y2="360.2" stroke="#ffffff" stroke-width="1.6" opacity="0.45"/>
<line x1="1261.92" y1="312.95" x2="1318.3" y2="365.2" stroke="#ffffff" stroke-width="1.6" opacity="0.45"/>
<polygon points="1227,288 1295.5,278.4 1318.3,365.2 1238.9,360.2" fill="none" stroke="#5a9e58" stroke-width="1.2" stroke-opacity="0.7"/>
<polygon points="1295.5,278.4 1374,284.5 1403,370.7 1318.3,365.2" fill="#94d28e" stroke="none" stroke-width="1" />
<polygon points="1295.5,278.4 1374,284.5 1339.7,314.7" fill="#a8dca2" stroke="none" stroke-width="1" opacity="0.9"/>
<polygon points="1295.5,278.4 1318.3,365.2 1339.7,314.7" fill="#6cb866" stroke="none" stroke-width="1" opacity="0.85"/>
<polygon points="1374,284.5 1403,370.7 1339.7,314.7" fill="#86ca80" stroke="none" stroke-width="1" opacity="0.9"/>
<polygon points="1318.3,365.2 1403,370.7 1339.7,314.7" fill="#94d28e" stroke="none" stroke-width="1" opacity="0.9"/>
<line x1="1339.7" y1="314.7" x2="1295.5" y2="278.4" stroke="#ffffff" stroke-width="1.6" opacity="0.45"/>
<line x1="1339.7" y1="314.7" x2="1374" y2="284.5" stroke="#ffffff" stroke-width="1.6" opacity="0.45"/>
<line x1="1339.7" y1="314.7" x2="1318.3" y2="365.2" stroke="#ffffff" stroke-width="1.6" opacity="0.45"/>
<line x1="1339.7" y1="314.7" x2="1403" y2="370.7" stroke="#ffffff" stroke-width="1.6" opacity="0.45"/>
<polygon points="1295.5,278.4 1374,284.5 1403,370.7 1318.3,365.2" fill="none" stroke="#5a9e58" stroke-width="1.2" stroke-opacity="0.7"/>
<polygon points="1374,284.5 1454.5,288.9 1466.3,361 1403,370.7" fill="#94d28e" stroke="none" stroke-width="1" />
<polygon points="1374,284.5 1454.5,288.9 1416.45,316.27" fill="#a8dca2" stroke="none" stroke-width="1" opacity="0.9"/>
<polygon points="1374,284.5 1403,370.7 1416.45,316.27" fill="#6cb866" stroke="none" stroke-width="1" opacity="0.85"/>
<polygon points="1454.5,288.9 1466.3,361 1416.45,316.27" fill="#86ca80" stroke="none" stroke-width="1" opacity="0.9"/>
<polygon points="1403,370.7 1466.3,361 1416.45,316.27" fill="#94d28e" stroke="none" stroke-width="1" opacity="0.9"/>
<line x1="1416.45" y1="316.27" x2="1374" y2="284.5" stroke="#ffffff" stroke-width="1.6" opacity="0.45"/>
<line x1="1416.45" y1="316.27" x2="1454.5" y2="288.9" stroke="#ffffff" stroke-width="1.6" opacity="0.45"/>
<line x1="1416.45" y1="316.27" x2="1403" y2="370.7" stroke="#ffffff" stroke-width="1.6" opacity="0.45"/>
<line x1="1416.45" y1="316.27" x2="1466.3" y2="361" stroke="#ffffff" stroke-width="1.6" opacity="0.45"/>
<polygon points="1374,284.5 1454.5,288.9 1466.3,361 1403,370.7" fill="none" stroke="#5a9e58" stroke-width="1.2" stroke-opacity="0.7"/>
<polygon points="1454.5,288.9 1521.4,279.8 1544.3,367.1 1466.3,361" fill="#94d28e" stroke="none" stroke-width="1" />
<polygon points="1454.5,288.9 1521.4,279.8 1488.62,314.2" fill="#a8dca2" stroke="none" stroke-width="1" opacity="0.9"/>
<polygon points="1454.5,288.9 1466.3,361 1488.62,314.2" fill="#6cb866" stroke="none" stroke-width="1" opacity="0.85"/>
<polygon points="1521.4,279.8 1544.3,367.1 1488.62,314.2" fill="#86ca80" stroke="none" stroke-width="1" opacity="0.9"/>
<polygon points="1466.3,361 1544.3,367.1 1488.62,314.2" fill="#94d28e" stroke="none" stroke-width="1" opacity="0.9"/>
<line x1="1488.62" y1="314.2" x2="1454.5" y2="288.9" stroke="#ffffff" stroke-width="1.6" opacity="0.45"/>
<line x1="1488.62" y1="314.2" x2="1521.4" y2="279.8" stroke="#ffffff" stroke-width="1.6" opacity="0.45"/>
<line x1="1488.62" y1="314.2" x2="1466.3" y2="361" stroke="#ffffff" stroke-width="1.6" opacity="0.45"/>
<line x1="1488.62" y1="314.2" x2="1544.3" y2="367.1" stroke="#ffffff" stroke-width="1.6" opacity="0.45"/>
<polygon points="1454.5,288.9 1521.4,279.8 1544.3,367.1 1466.3,361" fill="none" stroke="#5a9e58" stroke-width="1.2" stroke-opacity="0.7"/>
<polygon points="1091.8,363.3 1171.4,369.3 1187.5,423.1 1118,431.5" fill="#cbcbcb" stroke="none" stroke-width="1" />
<polygon points="1091.8,363.3 1171.4,369.3 1134.17,386.8" fill="#dedede" stroke="none" stroke-width="1" opacity="0.9"/>
<polygon points="1091.8,363.3 1118,431.5 1134.17,386.8" fill="#bdbdbd" stroke="none" stroke-width="1" opacity="0.85"/>
<polygon points="1171.4,369.3 1187.5,423.1 1134.17,386.8" fill="#cbcbcb" stroke="none" stroke-width="1" opacity="0.9"/>
<polygon points="1118,431.5 1187.5,423.1 1134.17,386.8" fill="#a2a2a2" stroke="none" stroke-width="1" opacity="0.9"/>
<line x1="1134.17" y1="386.8" x2="1091.8" y2="363.3" stroke="#ffffff" stroke-width="1.6" opacity="0.45"/>
<line x1="1134.17" y1="386.8" x2="1171.4" y2="369.3" stroke="#ffffff" stroke-width="1.6" opacity="0.45"/>
<line x1="1134.17" y1="386.8" x2="1118" y2="431.5" stroke="#ffffff" stroke-width="1.6" opacity="0.45"/>
<line x1="1134.17" y1="386.8" x2="1187.5" y2="423.1" stroke="#ffffff" stroke-width="1.6" opacity="0.45"/>
<polygon points="1091.8,363.3 1171.4,369.3 1187.5,423.1 1118,431.5" fill="none" stroke="#8c8c8c" stroke-width="1.2" stroke-opacity="0.7"/>
<polygon points="1171.4,369.3 1238.9,360.2 1268.7,427.9 1187.5,423.1" fill="#8c3098" stroke="none" stroke-width="1" />
<polygon points="1171.4,369.3 1238.9,360.2 1208.62,385.12" fill="#a040ac" stroke="none" stroke-width="1" opacity="0.9"/>
<polygon points="1171.4,369.3 1187.5,423.1 1208.62,385.12" fill="#80288c" stroke="none" stroke-width="1" opacity="0.85"/>
<polygon points="1238.9,360.2 1268.7,427.9 1208.62,385.12" fill="#8c3098" stroke="none" stroke-width="1" opacity="0.9"/>
<polygon points="1187.5,423.1 1268.7,427.9 1208.62,385.12" fill="#6c2078" stroke="none" stroke-width="1" opacity="0.9"/>
<line x1="1208.62" y1="385.12" x2="1171.4" y2="369.3" stroke="#ffffff" stroke-width="1.6" opacity="0.45"/>
<line x1="1208.62" y1="385.12" x2="1238.9" y2="360.2" stroke="#ffffff" stroke-width="1.6" opacity="0.45"/>
<line x1="1208.62" y1="385.12" x2="1187.5" y2="423.1" stroke="#ffffff" stroke-width="1.6" opacity="0.45"/>
<line x1="1208.62" y1="385.12" x2="1268.7" y2="427.9" stroke="#ffffff" stroke-width="1.6" opacity="0.45"/>
<polygon points="1171.4,369.3 1238.9,360.2 1268.7,427.9 1187.5,423.1" fill="none" stroke="#5a1a66" stroke-width="1.2" stroke-opacity="0.7"/>
<polygon points="1238.9,360.2 1318.3,365.2 1347.8,434.1 1268.7,427.9" fill="#c8c8dc" stroke="none" stroke-width="1" />
<polygon points="1238.9,360.2 1318.3,365.2 1285.42,386.85" fill="#dcdcec" stroke="none" stroke-width="1" opacity="0.9"/>
<polygon points="1238.9,360.2 1268.7,427.9 1285.42,386.85" fill="#bcbcd2" stroke="none" stroke-width="1" opacity="0.85"/>
<polygon points="1318.3,365.2 1347.8,434.1 1285.42,386.85" fill="#c8c8dc" stroke="none" stroke-width="1" opacity="0.9"/>
<polygon points="1268.7,427.9 1347.8,434.1 1285.42,386.85" fill="#a4a4bc" stroke="none" stroke-width="1" opacity="0.9"/>
<line x1="1285.42" y1="386.85" x2="1238.9" y2="360.2" stroke="#ffffff" stroke-width="1.6" opacity="0.45"/>
<line x1="1285.42" y1="386.85" x2="1318.3" y2="365.2" stroke="#ffffff" stroke-width="1.6" opacity="0.45"/>
<line x1="1285.42" y1="386.85" x2="1268.7" y2="427.9" stroke="#ffffff" stroke-width="1.6" opacity="0.45"/>
<line x1="1285.42" y1="386.85" x2="1347.8" y2="434.1" stroke="#ffffff" stroke-width="1.6" opacity="0.45"/>
<polygon points="1238.9,360.2 1318.3,365.2 1347.8,434.1 1268.7,427.9" fill="none" stroke="#8888a0" stroke-width="1.2" stroke-opacity="0.7"/>
<polygon points="1318.3,365.2 1403,370.7 1415.3,423.1 1347.8,434.1" fill="#cbcbcb" stroke="none" stroke-width="1" />
<polygon points="1318.3,365.2 1403,370.7 1363.1,388.27" fill="#dedede" stroke="none" stroke-width="1" opacity="0.9"/>
<polygon points="1318.3,365.2 1347.8,434.1 1363.1,388.27" fill="#bdbdbd" stroke="none" stroke-width="1" opacity="0.85"/>
<polygon points="1403,370.7 1415.3,423.1 1363.1,388.27" fill="#cbcbcb" stroke="none" stroke-width="1" opacity="0.9"/>
<polygon points="1347.8,434.1 1415.3,423.1 1363.1,388.27" fill="#a2a2a2" stroke="none" stroke-width="1" opacity="0.9"/>
<line x1="1363.1" y1="388.27" x2="1318.3" y2="365.2" stroke="#ffffff" stroke-width="1.6" opacity="0.45"/>
<line x1="1363.1" y1="388.27" x2="1403" y2="370.7" stroke="#ffffff" stroke-width="1.6" opacity="0.45"/>
<line x1="1363.1" y1="388.27" x2="1347.8" y2="434.1" stroke="#ffffff" stroke-width="1.6" opacity="0.45"/>
<line x1="1363.1" y1="388.27" x2="1415.3" y2="423.1" stroke="#ffffff" stroke-width="1.6" opacity="0.45"/>
<polygon points="1318.3,365.2 1403,370.7 1415.3,423.1 1347.8,434.1" fill="none" stroke="#8c8c8c" stroke-width="1.2" stroke-opacity="0.7"/>
<polygon points="1403,370.7 1466.3,361 1491,430 1415.3,423.1" fill="#d4ccd4" stroke="none" stroke-width="1" />
<polygon points="1403,370.7 1466.3,361 1435.9,386.2" fill="#e4dee4" stroke="none" stroke-width="1" opacity="0.9"/>
<polygon points="1403,370.7 1415.3,423.1 1435.9,386.2" fill="#c6bec6" stroke="none" stroke-width="1" opacity="0.85"/>
<polygon points="1466.3,361 1491,430 1435.9,386.2" fill="#d4ccd4" stroke="none" stroke-width="1" opacity="0.9"/>
<polygon points="1415.3,423.1 1491,430 1435.9,386.2" fill="#ada6ad" stroke="none" stroke-width="1" opacity="0.9"/>
<line x1="1435.9" y1="386.2" x2="1403" y2="370.7" stroke="#ffffff" stroke-width="1.6" opacity="0.45"/>
<line x1="1435.9" y1="386.2" x2="1466.3" y2="361" stroke="#ffffff" stroke-width="1.6" opacity="0.45"/>
<line x1="1435.9" y1="386.2" x2="1415.3" y2="423.1" stroke="#ffffff" stroke-width="1.6" opacity="0.45"/>
<line x1="1435.9" y1="386.2" x2="1491" y2="430" stroke="#ffffff" stroke-width="1.6" opacity="0.45"/>
<polygon points="1403,370.7 1466.3,361 1491,430 1415.3,423.1" fill="none" stroke="#8c868c" stroke-width="1.2" stroke-opacity="0.7"/>
<polygon points="1466.3,361 1544.3,367.1 1560.8,420.3 1491,430" fill="#cbcbcb" stroke="none" stroke-width="1" />
<polygon points="1466.3,361 1544.3,367.1 1507.6,384.6" fill="#dedede" stroke="none" stroke-width="1" opacity="0.9"/>
<polygon points="1466.3,361 1491,430 1507.6,384.6" fill="#bdbdbd" stroke="none" stroke-width="1" opacity="0.85"/>
<polygon points="1544.3,367.1 1560.8,420.3 1507.6,384.6" fill="#cbcbcb" stroke="none" stroke-width="1" opacity="0.9"/>
<polygon points="1491,430 1560.8,420.3 1507.6,384.6" fill="#a2a2a2" stroke="none" stroke-width="1" opacity="0.9"/>
<line x1="1507.6" y1="384.6" x2="1466.3" y2="361" stroke="#ffffff" stroke-width="1.6" opacity="0.45"/>
<line x1="1507.6" y1="384.6" x2="1544.3" y2="367.1" stroke="#ffffff" stroke-width="1.6" opacity="0.45"/>
<line x1="1507.6" y1="384.6" x2="1491" y2="430" stroke="#ffffff" stroke-width="1.6" opacity="0.45"/>
<line x1="1507.6" y1="384.6" x2="1560.8" y2="420.3" stroke="#ffffff" stroke-width="1.6" opacity="0.45"/>
<polygon points="1466.3,361 1544.3,367.1 1560.8,420.3 1491,430" fill="none" stroke="#8c8c8c" stroke-width="1.2" stroke-opacity="0.7"/>
<polygon points="1478.2,140.1 1491,211.7 1508.5,224.7" fill="#78b872" stroke="none" stroke-width="1" />
<polygon points="1521.4,279.8 1535.2,351.4 1544.3,367.1" fill="#78b872" stroke="none" stroke-width="1" />
<circle cx="1073" cy="173" r="19" fill="url(#sLi)" opacity="0.85"/>
<circle cx="1153" cy="179" r="19" fill="url(#sLi)" opacity="0.85"/>
<circle cx="1217" cy="172" r="19" fill="url(#sLi)" opacity="0.85"/>
<circle cx="1299" cy="178" r="19" fill="url(#sLi)" opacity="0.85"/>
<circle cx="1380" cy="183" r="19" fill="url(#sLi)" opacity="0.85"/>
<circle cx="1446" cy="171" r="19" fill="url(#sLi)" opacity="0.85"/>
<circle cx="1100" cy="251" r="13.5" fill="url(#sTM)" opacity="0.9"/>
<circle cx="1166" cy="242.6" r="13.5" fill="url(#sTM)" opacity="0.9"/>
<circle cx="1246" cy="248.6" r="14" fill="url(#sBl)" opacity="0.9"/>
<circle cx="1310.6" cy="239.8" r="13.5" fill="url(#sTM)" opacity="0.9"/>
<circle cx="1392" cy="245.3" r="14" fill="url(#sPu)" opacity="0.9"/>
<circle cx="1472" cy="249.5" r="13.5" fill="url(#sTM)" opacity="0.9"/>
<circle cx="1112" cy="315.5" r="19" fill="url(#sLi)" opacity="0.85"/>
<circle cx="1193.4" cy="319.1" r="19" fill="url(#sLi)" opacity="0.85"/>
<circle cx="1259" cy="310.5" r="19" fill="url(#sLi)" opacity="0.85"/>
<circle cx="1339.6" cy="317" r="19" fill="url(#sLi)" opacity="0.85"/>
<circle cx="1419.5" cy="322.5" r="19" fill="url(#sLi)" opacity="0.85"/>
<circle cx="1485.6" cy="312.8" r="19" fill="url(#sLi)" opacity="0.85"/>
<circle cx="1140.8" cy="390.8" r="13.5" fill="url(#sTM)" opacity="0.9"/>
<circle cx="1204.2" cy="382.4" r="14" fill="url(#sPu)" opacity="0.9"/>
<circle cx="1287.2" cy="390" r="13.5" fill="url(#sTM)" opacity="0.9"/>
<circle cx="1365.7" cy="394.1" r="13.5" fill="url(#sTM)" opacity="0.9"/>
<circle cx="1433.2" cy="384.5" r="13.5" fill="url(#sTM)" opacity="0.9"/>
<circle cx="1513.2" cy="390" r="13.5" fill="url(#sTM)" opacity="0.9"/>
<circle cx="1117" cy="213.9" r="7" fill="url(#sOb)" />
<circle cx="1265.2" cy="209.1" r="7" fill="url(#sOb)" />
<circle cx="1345" cy="215" r="7" fill="url(#sOb)" />
<circle cx="1491" cy="211.7" r="7" fill="url(#sOb)" />
<circle cx="1212.6" cy="271.3" r="7" fill="url(#sOb)" />
<circle cx="1358.8" cy="267.4" r="7" fill="url(#sOb)" />
<circle cx="1438.8" cy="274.3" r="7" fill="url(#sOb)" />
<circle cx="1160" cy="352.6" r="7" fill="url(#sOb)" />
<circle cx="1303.7" cy="351.4" r="7" fill="url(#sOb)" />
<circle cx="1385" cy="352.8" r="7" fill="url(#sOb)" />
<circle cx="1535.2" cy="351.4" r="7" fill="url(#sOb)" />
<circle cx="1250.8" cy="412.3" r="7" fill="url(#sOb)" />
<circle cx="1331.3" cy="420.3" r="7" fill="url(#sOb)" />
<circle cx="1480" cy="414.8" r="7" fill="url(#sOb)" />
<circle cx="1021.3" cy="193.6" r="7.8" fill="url(#sO)" />
<circle cx="1051.2" cy="260.5" r="7.8" fill="url(#sO)" />
<circle cx="1062" cy="332.2" r="7.8" fill="url(#sO)" />
<circle cx="1087" cy="401.6" r="7.8" fill="url(#sO)" />
<circle cx="1036.8" cy="207.9" r="7.8" fill="url(#sO)" />
<circle cx="1064.3" cy="277.2" r="7.8" fill="url(#sO)" />
<circle cx="1075" cy="349" r="7.8" fill="url(#sO)" />
<circle cx="1106.2" cy="416" r="7.8" fill="url(#sO)" />
<circle cx="1010.5" cy="120.6" r="8" fill="url(#sO)" />
<circle cx="1075" cy="111" r="8" fill="url(#sO)" />
<circle cx="1158.8" cy="114.7" r="8" fill="url(#sO)" />
<circle cx="1225.7" cy="105.1" r="8" fill="url(#sO)" />
<circle cx="1304.6" cy="112.3" r="8" fill="url(#sO)" />
<circle cx="1383.6" cy="117.2" r="8" fill="url(#sO)" />
<circle cx="1448.4" cy="108.9" r="8" fill="url(#sO)" />
<circle cx="1091.8" cy="124.2" r="8" fill="url(#sO)" />
<circle cx="1173" cy="129" r="8" fill="url(#sO)" />
<circle cx="1237.7" cy="120.6" r="8" fill="url(#sO)" />
<circle cx="1320.3" cy="126.8" r="8" fill="url(#sO)" />
<circle cx="1398.8" cy="133.7" r="8" fill="url(#sO)" />
<circle cx="1465" cy="121.3" r="8" fill="url(#sO)" />
<circle cx="1024.9" cy="136.2" r="8.5" fill="url(#sO)" />
<circle cx="1105" cy="141.7" r="8.5" fill="url(#sO)" />
<circle cx="1187.5" cy="144.6" r="8.5" fill="url(#sO)" />
<circle cx="1255.6" cy="136.2" r="8.5" fill="url(#sO)" />
<circle cx="1334" cy="142.8" r="8.5" fill="url(#sO)" />
<circle cx="1414" cy="148.9" r="8.5" fill="url(#sO)" />
<circle cx="1478.2" cy="140.1" r="8.5" fill="url(#sO)" />
<circle cx="1051.2" cy="223.5" r="8.5" fill="url(#sO)" />
<circle cx="1136" cy="227" r="8.5" fill="url(#sO)" />
<circle cx="1199.4" cy="218.2" r="8.5" fill="url(#sO)" />
<circle cx="1278.3" cy="225.1" r="8.5" fill="url(#sO)" />
<circle cx="1358.8" cy="231" r="8.5" fill="url(#sO)" />
<circle cx="1425" cy="221.9" r="8.5" fill="url(#sO)" />
<circle cx="1508.5" cy="224.7" r="8.5" fill="url(#sO)" />
<circle cx="1081" cy="290.4" r="8.5" fill="url(#sO)" />
<circle cx="1148" cy="280.8" r="8.5" fill="url(#sO)" />
<circle cx="1227" cy="288" r="8.5" fill="url(#sO)" />
<circle cx="1295.5" cy="278.4" r="8.5" fill="url(#sO)" />
<circle cx="1374" cy="284.5" r="8.5" fill="url(#sO)" />
<circle cx="1454.5" cy="288.9" r="8.5" fill="url(#sO)" />
<circle cx="1521.4" cy="279.8" r="8.5" fill="url(#sO)" />
<circle cx="1091.8" cy="363.3" r="8.5" fill="url(#sO)" />
<circle cx="1171.4" cy="369.3" r="8.5" fill="url(#sO)" />
<circle cx="1238.9" cy="360.2" r="8.5" fill="url(#sO)" />
<circle cx="1318.3" cy="365.2" r="8.5" fill="url(#sO)" />
<circle cx="1403" cy="370.7" r="8.5" fill="url(#sO)" />
<circle cx="1466.3" cy="361" r="8.5" fill="url(#sO)" />
<circle cx="1544.3" cy="367.1" r="8.5" fill="url(#sO)" />
<circle cx="1118" cy="431.5" r="8.5" fill="url(#sO)" />
<circle cx="1187.5" cy="423.1" r="8.5" fill="url(#sO)" />
<circle cx="1268.7" cy="427.9" r="8.5" fill="url(#sO)" />
<circle cx="1347.8" cy="434.1" r="8.5" fill="url(#sO)" />
<circle cx="1415.3" cy="423.1" r="8.5" fill="url(#sO)" />
<circle cx="1491" cy="430" r="8.5" fill="url(#sO)" />
<circle cx="1560.8" cy="420.3" r="8.5" fill="url(#sO)" />
<line x1="964" y1="210.3" x2="1028" y2="210.3" stroke="#444" stroke-width="1.5" />
<line x1="964" y1="276.5" x2="1052" y2="276.5" stroke="#444" stroke-width="1.5" />
<line x1="964" y1="349" x2="1066" y2="349" stroke="#444" stroke-width="1.5" />
<line x1="1009.4" y1="219" x2="1009.4" y2="268" stroke="#111" stroke-width="2" />
<polygon points="1009.4,213 1005,222 1013.8,222" fill="#111" stroke="none" stroke-width="1" />
<polygon points="1009.4,274 1005,265 1013.8,265" fill="#111" stroke="none" stroke-width="1" />
<line x1="1009.4" y1="285" x2="1009.4" y2="340" stroke="#111" stroke-width="2" />
<polygon points="1009.4,279 1005,288 1013.8,288" fill="#111" stroke="none" stroke-width="1" />
<polygon points="1009.4,346 1005,337 1013.8,337" fill="#111" stroke="none" stroke-width="1" />
<text x="956" y="255.8" font-family='"Liberation Serif", "Times New Roman", serif' font-size="27" fill="#222">d<tspan font-size="17" dy="6">1</tspan></text>
<text x="956" y="325" font-family='"Liberation Serif", "Times New Roman", serif' font-size="27" fill="#222">d<tspan font-size="17" dy="6">2</tspan></text>
<line x1="1450" y1="175.5" x2="1587" y2="175.5" stroke="#444" stroke-width="1.5" />
<line x1="1513.6" y1="223.8" x2="1587" y2="223.8" stroke="#444" stroke-width="1.5" />
<line x1="1483" y1="258" x2="1587" y2="258" stroke="#444" stroke-width="1.5" />
<text x="1600" y="185.7" font-family='"Liberation Serif", "Times New Roman", serif' font-size="22" font-weight="normal" text-anchor="start" fill="#222" textLength="22" lengthAdjust="spacingAndGlyphs">Li</text>
<text x="1600" y="230" font-family='"Liberation Serif", "Times New Roman", serif' font-size="22" font-weight="normal" text-anchor="start" fill="#222" textLength="17" lengthAdjust="spacingAndGlyphs">O</text>
<text x="1600" y="265.5" font-family='"Liberation Serif", "Times New Roman", serif' font-size="22" font-weight="normal" text-anchor="start" fill="#222" textLength="109" lengthAdjust="spacingAndGlyphs">Ni/Mn/Co</text>
<text x="946.6" y="493.5" font-family='"Liberation Serif", "Times New Roman", serif' font-size="20" font-weight="normal" text-anchor="start" fill="#222" textLength="29" lengthAdjust="spacingAndGlyphs">(b)</text>
<polygon points="952.6,549.7 1037.5,524.6 1067.4,549.7 1094.9,631 1008.8,654.9 976.5,631" fill="#a8dca4" stroke="none" stroke-width="1" opacity="0.85"/>
<polygon points="952.6,549.7 976.5,631 1008.8,654.9" fill="#7fa887" stroke="none" stroke-width="1" opacity="0.55"/>
<polygon points="952.6,549.7 1037.5,524.6 1067.4,549.7" fill="#8fb896" stroke="none" stroke-width="1" opacity="0.4"/>
<polygon points="1067.4,549.7 1094.9,631 1008.8,654.9" fill="#9fcf9f" stroke="none" stroke-width="1" opacity="0.45"/>
<line x1="952.6" y1="549.7" x2="1037.5" y2="524.6" stroke="#7a8e7e" stroke-width="1.6" opacity="0.8"/>
<line x1="1037.5" y1="524.6" x2="1067.4" y2="549.7" stroke="#7a8e7e" stroke-width="1.6" opacity="0.8"/>
<line x1="1067.4" y1="549.7" x2="1094.9" y2="631" stroke="#7a8e7e" stroke-width="1.6" opacity="0.8"/>
<line x1="1094.9" y1="631" x2="1008.8" y2="654.9" stroke="#7a8e7e" stroke-width="1.6" opacity="0.8"/>
<line x1="1008.8" y1="654.9" x2="976.5" y2="631" stroke="#7a8e7e" stroke-width="1.6" opacity="0.8"/>
<line x1="976.5" y1="631" x2="952.6" y2="549.7" stroke="#7a8e7e" stroke-width="1.6" opacity="0.8"/>
<line x1="952.6" y1="549.7" x2="1067.4" y2="549.7" stroke="#5cbf5c" stroke-width="1.6" opacity="0.8"/>
<line x1="976.5" y1="631" x2="1094.9" y2="631" stroke="#5cbf5c" stroke-width="1.6" opacity="0.8"/>
<line x1="952.6" y1="549.7" x2="1008.8" y2="654.9" stroke="#5cbf5c" stroke-width="1.6" opacity="0.8"/>
<line x1="1067.4" y1="549.7" x2="1008.8" y2="654.9" stroke="#5cbf5c" stroke-width="1.6" opacity="0.8"/>
<line x1="1037.5" y1="524.6" x2="976.5" y2="631" stroke="#5cbf5c" stroke-width="1.6" opacity="0.8"/>
<line x1="1037.5" y1="524.6" x2="1094.9" y2="631" stroke="#5cbf5c" stroke-width="1.6" opacity="0.8"/>
<polygon points="1067.4,549.7 1153.4,524.6 1184.5,548.5 1210.8,631 1124.7,654.9 1094.9,631" fill="#a8dca4" stroke="none" stroke-width="1" opacity="0.85"/>
<polygon points="1067.4,549.7 1094.9,631 1124.7,654.9" fill="#7fa887" stroke="none" stroke-width="1" opacity="0.55"/>
<polygon points="1067.4,549.7 1153.4,524.6 1184.5,548.5" fill="#8fb896" stroke="none" stroke-width="1" opacity="0.4"/>
<polygon points="1184.5,548.5 1210.8,631 1124.7,654.9" fill="#9fcf9f" stroke="none" stroke-width="1" opacity="0.45"/>
<line x1="1067.4" y1="549.7" x2="1153.4" y2="524.6" stroke="#7a8e7e" stroke-width="1.6" opacity="0.8"/>
<line x1="1153.4" y1="524.6" x2="1184.5" y2="548.5" stroke="#7a8e7e" stroke-width="1.6" opacity="0.8"/>
<line x1="1184.5" y1="548.5" x2="1210.8" y2="631" stroke="#7a8e7e" stroke-width="1.6" opacity="0.8"/>
<line x1="1210.8" y1="631" x2="1124.7" y2="654.9" stroke="#7a8e7e" stroke-width="1.6" opacity="0.8"/>
<line x1="1124.7" y1="654.9" x2="1094.9" y2="631" stroke="#7a8e7e" stroke-width="1.6" opacity="0.8"/>
<line x1="1094.9" y1="631" x2="1067.4" y2="549.7" stroke="#7a8e7e" stroke-width="1.6" opacity="0.8"/>
<line x1="1067.4" y1="549.7" x2="1184.5" y2="548.5" stroke="#5cbf5c" stroke-width="1.6" opacity="0.8"/>
<line x1="1094.9" y1="631" x2="1210.8" y2="631" stroke="#5cbf5c" stroke-width="1.6" opacity="0.8"/>
<line x1="1067.4" y1="549.7" x2="1124.7" y2="654.9" stroke="#5cbf5c" stroke-width="1.6" opacity="0.8"/>
<line x1="1184.5" y1="548.5" x2="1124.7" y2="654.9" stroke="#5cbf5c" stroke-width="1.6" opacity="0.8"/>
<line x1="1153.4" y1="524.6" x2="1094.9" y2="631" stroke="#5cbf5c" stroke-width="1.6" opacity="0.8"/>
<line x1="1153.4" y1="524.6" x2="1210.8" y2="631" stroke="#5cbf5c" stroke-width="1.6" opacity="0.8"/>
<line x1="1037.5" y1="524.6" x2="1153.4" y2="524.6" stroke="#888" stroke-width="1.4" />
<line x1="1008.8" y1="654.9" x2="1124.7" y2="654.9" stroke="#888" stroke-width="1.4" />
<line x1="952.6" y1="549.7" x2="1184.5" y2="548.5" stroke="#888" stroke-width="1.2" opacity="0.7"/>
<line x1="976.5" y1="631" x2="1210.8" y2="631" stroke="#888" stroke-width="1.2" opacity="0.7"/>
<circle cx="1094.9" cy="631" r="10.5" fill="url(#sO)" />
<line x1="1075.7" y1="637" x2="1075.7" y2="672" stroke="#2a8a3a" stroke-width="2.2" stroke-dasharray="4,3"/>
<circle cx="1023.1" cy="595.1" r="17" fill="url(#sLi2)" />
<circle cx="1139" cy="595.1" r="17" fill="url(#sLi2)" />
<circle cx="1073.3" cy="622.6" r="17.5" fill="url(#sLi2)" />
<circle cx="1075.7" cy="689.5" r="22.7" fill="url(#sPur2)" />
<circle cx="1037.5" cy="524.6" r="10.8" fill="url(#sO)" />
<circle cx="1153.4" cy="524.6" r="10.8" fill="url(#sO)" />
<circle cx="952.6" cy="549.7" r="10.8" fill="url(#sO)" />
<circle cx="1067.4" cy="549.7" r="10.8" fill="url(#sO)" />
<circle cx="1184.5" cy="548.5" r="10.8" fill="url(#sO)" />
<circle cx="976.5" cy="631" r="10.8" fill="url(#sO)" />
<circle cx="1210.8" cy="631" r="10.8" fill="url(#sO)" />
<circle cx="1008.8" cy="654.9" r="10.8" fill="url(#sO)" />
<circle cx="1124.7" cy="654.9" r="10.8" fill="url(#sO)" />
<circle cx="1073.3" cy="622.6" r="17.5" fill="url(#sLi2)" />
<text x="1023.1" y="603.1" font-family='"Liberation Serif", "Times New Roman", serif' font-size="23" font-weight="bold" text-anchor="middle" fill="#222" >1</text>
<text x="1073.3" y="630.6" font-family='"Liberation Serif", "Times New Roman", serif' font-size="23" font-weight="bold" text-anchor="middle" fill="#222" >2</text>
<text x="1139" y="603.1" font-family='"Liberation Serif", "Times New Roman", serif' font-size="23" font-weight="bold" text-anchor="middle" fill="#222" >3</text>
<line x1="1037" y1="600" x2="1056" y2="612" stroke="#111" stroke-width="1.6" stroke-dasharray="2,2"/>
<polygon points="1059,614 1050,612.5 1054,606" fill="#111" stroke="none" stroke-width="1" />
<line x1="1091" y1="615" x2="1118" y2="605" stroke="#111" stroke-width="1.8" />
<polygon points="1125,602 1115,601 1118,609.5" fill="#111" stroke="none" stroke-width="1" />
<text x="1114" y="719.4" font-family='"Liberation Serif", "Times New Roman", serif' font-size="19.5" font-weight="normal" text-anchor="start" fill="#111" textLength="137.5" lengthAdjust="spacingAndGlyphs">Mn(or Ni, Co)</text>
<text x="1323.3" y="494.4" font-family='"Liberation Serif", "Times New Roman", serif' font-size="20" font-weight="bold" text-anchor="start" fill="#222" textLength="28" lengthAdjust="spacingAndGlyphs">(c)</text>
<polygon points="1397.6,560.1 1482.5,535 1512.4,560.1 1539.9,641.4 1453.8,665.3 1421.5,641.4" fill="#a8dca4" stroke="none" stroke-width="1" opacity="0.85"/>
<polygon points="1397.6,560.1 1421.5,641.4 1453.8,665.3" fill="#7fa887" stroke="none" stroke-width="1" opacity="0.55"/>
<polygon points="1397.6,560.1 1482.5,535 1512.4,560.1" fill="#8fb896" stroke="none" stroke-width="1" opacity="0.4"/>
<polygon points="1512.4,560.1 1539.9,641.4 1453.8,665.3" fill="#9fcf9f" stroke="none" stroke-width="1" opacity="0.45"/>
<line x1="1397.6" y1="560.1" x2="1482.5" y2="535" stroke="#7a8e7e" stroke-width="1.6" opacity="0.8"/>
<line x1="1482.5" y1="535" x2="1512.4" y2="560.1" stroke="#7a8e7e" stroke-width="1.6" opacity="0.8"/>
<line x1="1512.4" y1="560.1" x2="1539.9" y2="641.4" stroke="#7a8e7e" stroke-width="1.6" opacity="0.8"/>
<line x1="1539.9" y1="641.4" x2="1453.8" y2="665.3" stroke="#7a8e7e" stroke-width="1.6" opacity="0.8"/>
<line x1="1453.8" y1="665.3" x2="1421.5" y2="641.4" stroke="#7a8e7e" stroke-width="1.6" opacity="0.8"/>
<line x1="1421.5" y1="641.4" x2="1397.6" y2="560.1" stroke="#7a8e7e" stroke-width="1.6" opacity="0.8"/>
<line x1="1397.6" y1="560.1" x2="1512.4" y2="560.1" stroke="#5cbf5c" stroke-width="1.6" opacity="0.8"/>
<line x1="1421.5" y1="641.4" x2="1539.9" y2="641.4" stroke="#5cbf5c" stroke-width="1.6" opacity="0.8"/>
<line x1="1397.6" y1="560.1" x2="1453.8" y2="665.3" stroke="#5cbf5c" stroke-width="1.6" opacity="0.8"/>
<line x1="1512.4" y1="560.1" x2="1453.8" y2="665.3" stroke="#5cbf5c" stroke-width="1.6" opacity="0.8"/>
<line x1="1482.5" y1="535" x2="1421.5" y2="641.4" stroke="#5cbf5c" stroke-width="1.6" opacity="0.8"/>
<line x1="1482.5" y1="535" x2="1539.9" y2="641.4" stroke="#5cbf5c" stroke-width="1.6" opacity="0.8"/>
<polygon points="1512.4,560.1 1598.4,535 1629.5,558.9 1655.8,641.4 1569.7,665.3 1539.9,641.4" fill="#a8dca4" stroke="none" stroke-width="1" opacity="0.85"/>
<polygon points="1512.4,560.1 1539.9,641.4 1569.7,665.3" fill="#7fa887" stroke="none" stroke-width="1" opacity="0.55"/>
<polygon points="1512.4,560.1 1598.4,535 1629.5,558.9" fill="#8fb896" stroke="none" stroke-width="1" opacity="0.4"/>
<polygon points="1629.5,558.9 1655.8,641.4 1569.7,665.3" fill="#9fcf9f" stroke="none" stroke-width="1" opacity="0.45"/>
<line x1="1512.4" y1="560.1" x2="1598.4" y2="535" stroke="#7a8e7e" stroke-width="1.6" opacity="0.8"/>
<line x1="1598.4" y1="535" x2="1629.5" y2="558.9" stroke="#7a8e7e" stroke-width="1.6" opacity="0.8"/>
<line x1="1629.5" y1="558.9" x2="1655.8" y2="641.4" stroke="#7a8e7e" stroke-width="1.6" opacity="0.8"/>
<line x1="1655.8" y1="641.4" x2="1569.7" y2="665.3" stroke="#7a8e7e" stroke-width="1.6" opacity="0.8"/>
<line x1="1569.7" y1="665.3" x2="1539.9" y2="641.4" stroke="#7a8e7e" stroke-width="1.6" opacity="0.8"/>
<line x1="1539.9" y1="641.4" x2="1512.4" y2="560.1" stroke="#7a8e7e" stroke-width="1.6" opacity="0.8"/>
<line x1="1512.4" y1="560.1" x2="1629.5" y2="558.9" stroke="#5cbf5c" stroke-width="1.6" opacity="0.8"/>
<line x1="1539.9" y1="641.4" x2="1655.8" y2="641.4" stroke="#5cbf5c" stroke-width="1.6" opacity="0.8"/>
<line x1="1512.4" y1="560.1" x2="1569.7" y2="665.3" stroke="#5cbf5c" stroke-width="1.6" opacity="0.8"/>
<line x1="1629.5" y1="558.9" x2="1569.7" y2="665.3" stroke="#5cbf5c" stroke-width="1.6" opacity="0.8"/>
<line x1="1598.4" y1="535" x2="1539.9" y2="641.4" stroke="#5cbf5c" stroke-width="1.6" opacity="0.8"/>
<line x1="1598.4" y1="535" x2="1655.8" y2="641.4" stroke="#5cbf5c" stroke-width="1.6" opacity="0.8"/>
<line x1="1482.5" y1="535" x2="1598.4" y2="535" stroke="#888" stroke-width="1.4" />
<line x1="1453.8" y1="665.3" x2="1569.7" y2="665.3" stroke="#888" stroke-width="1.4" />
<line x1="1397.6" y1="560.1" x2="1629.5" y2="558.9" stroke="#888" stroke-width="1.2" opacity="0.7"/>
<line x1="1421.5" y1="641.4" x2="1655.8" y2="641.4" stroke="#888" stroke-width="1.2" opacity="0.7"/>
<circle cx="1539.9" cy="641.4" r="10.5" fill="url(#sO)" />
<line x1="1526" y1="522" x2="1526" y2="680" stroke="#2a8a3a" stroke-width="2.2" stroke-dasharray="4,3"/>
<circle cx="1468.3" cy="605" r="16" fill="url(#sLi2)" />
<circle cx="1526" cy="605" r="16" fill="url(#sLi2)" />
<circle cx="1585" cy="605" r="16" fill="url(#sLi2)" />
<line x1="1526" y1="622" x2="1526" y2="680" stroke="#2a8a3a" stroke-width="2.2" stroke-dasharray="4,3"/>
<circle cx="1526" cy="501.8" r="22" fill="url(#sBlue2)" />
<circle cx="1526.5" cy="699.5" r="22.5" fill="url(#sPur2)" />
<circle cx="1482.5" cy="535" r="10.8" fill="url(#sO)" />
<circle cx="1598.4" cy="535" r="10.8" fill="url(#sO)" />
<circle cx="1397.6" cy="560.1" r="10.8" fill="url(#sO)" />
<circle cx="1512.4" cy="560.1" r="10.8" fill="url(#sO)" />
<circle cx="1629.5" cy="558.9" r="10.8" fill="url(#sO)" />
<circle cx="1421.5" cy="641.4" r="10.8" fill="url(#sO)" />
<circle cx="1655.8" cy="641.4" r="10.8" fill="url(#sO)" />
<circle cx="1453.8" cy="665.3" r="10.8" fill="url(#sO)" />
<circle cx="1569.7" cy="665.3" r="10.8" fill="url(#sO)" />
<text x="1468.3" y="613" font-family='"Liberation Serif", "Times New Roman", serif' font-size="23" font-weight="bold" text-anchor="middle" fill="#222" >1</text>
<text x="1526" y="613" font-family='"Liberation Serif", "Times New Roman", serif' font-size="23" font-weight="bold" text-anchor="middle" fill="#222" >2</text>
<text x="1585" y="613" font-family='"Liberation Serif", "Times New Roman", serif' font-size="23" font-weight="bold" text-anchor="middle" fill="#222" >3</text>
<line x1="1484" y1="605" x2="1503" y2="605" stroke="#111" stroke-width="1.6" stroke-dasharray="2,2"/>
<polygon points="1509,605 1500,601 1500,609" fill="#111" stroke="none" stroke-width="1" />
<line x1="1542" y1="605" x2="1563" y2="605" stroke="#111" stroke-width="1.8" />
<polygon points="1569,605 1560,601 1560,609" fill="#111" stroke="none" stroke-width="1" />
<text x="1567.8" y="500.5" font-family='"Liberation Serif", "Times New Roman", serif' font-size="19.5" font-weight="normal" text-anchor="start" fill="#111" textLength="137.5" lengthAdjust="spacingAndGlyphs">Co(or Ni, Mn)</text>
<text x="1570" y="719.2" font-family='"Liberation Serif", "Times New Roman", serif' font-size="19.5" font-weight="normal" text-anchor="start" fill="#111" textLength="135" lengthAdjust="spacingAndGlyphs">Mn(or Ni, Co)</text>
<text x="107.5" y="884.3" font-family='"Liberation Serif", "Times New Roman", serif' font-size="39" font-weight="bold" text-anchor="start" fill="#000" textLength="27" lengthAdjust="spacingAndGlyphs">C</text>
<text x="208.5" y="903.5" font-family='"Liberation Serif", "Times New Roman", serif' font-size="41" font-weight="normal" text-anchor="start" fill="#222" textLength="46" lengthAdjust="spacingAndGlyphs">(a)</text>
<path d="M351,910.43 L352.12,911.87 L353.58,913.84 L355.36,916.19 L357.42,918.73 L359.74,921.3 L362.3,923.73 L364.95,925.84 L367.66,927.71 L370.64,929.62 L374.07,931.8 L378.13,934.53 L383.03,938.06 L388.93,942.63 L395.71,948.1 L403.14,954.11 L410.95,960.3 L418.9,966.33 L426.74,971.83 L434.65,976.9 L442.88,981.87 L451.25,986.66 L459.57,991.23 L467.67,995.51 L475.34,999.45 L482.63,1003.04 L489.66,1006.31 L496.47,1009.3 L503.06,1012.03 L509.45,1014.54 L515.66,1016.85 L521.51,1018.88 L526.94,1020.6 L532.17,1022.09 L537.42,1023.44 L542.9,1024.74 L548.82,1026.06 L555.17,1027.35 L561.78,1028.52 L568.61,1029.64 L575.66,1030.76 L582.88,1031.93 L590.27,1033.22 L598.07,1034.61 L606.37,1036.06 L614.85,1037.57 L623.21,1039.13 L631.13,1040.75 L638.31,1042.43 L644.71,1044.15 L650.58,1045.91 L656.01,1047.72 L661.11,1049.61 L665.97,1051.6 L670.71,1053.68 L675.36,1055.92 L679.84,1058.29 L684.09,1060.75 L688.05,1063.25 L691.65,1065.76 L694.83,1068.22 L697.54,1070.6 L699.81,1072.95 L701.73,1075.3 L703.37,1077.69 L704.81,1080.16 L706.13,1082.75 L707.26,1085.27 L708.11,1087.66 L708.76,1090.14 L709.29,1092.9 L709.77,1096.17 L710.28,1100.14 L710.8,1104.82 L711.26,1110.02 L711.67,1115.73 L712.04,1121.91 L712.39,1128.52 L712.73,1135.55 L713.05,1143.16 L713.34,1151.43 L713.61,1160.14 L713.85,1169.07 L714.06,1178 L714.24,1186.71 L714.37,1195.83 L714.46,1205.66 L714.52,1215.49 L714.56,1224.61 L714.58,1232.3 L714.61,1237.87" fill="none" stroke="#1a1a1a" stroke-width="2.6" stroke-linejoin="round" stroke-linecap="round"/>
<path d="M351,910.43 L351.93,911.58 L353.13,913.2 L354.59,915.1 L356.3,917.1 L358.25,919.02 L360.42,920.66 L362.74,921.97 L365.22,923.07 L367.93,924.08 L370.96,925.13 L374.4,926.34 L378.32,927.83 L382.88,929.57 L388.05,931.46 L393.63,933.52 L399.4,935.74 L405.16,938.14 L410.72,940.72 L415.92,943.44 L420.88,946.29 L425.83,949.31 L431.01,952.57 L436.63,956.1 L442.94,959.96 L450.07,964.29 L457.88,969.1 L466.14,974.18 L474.62,979.35 L483.1,984.43 L491.36,989.22 L499.4,993.89 L507.42,998.61 L515.44,1003.24 L523.48,1007.62 L531.59,1011.59 L539.78,1015.01 L547.92,1017.65 L555.95,1019.59 L564.05,1021.13 L572.36,1022.56 L581.04,1024.18 L590.27,1026.26 L600.34,1028.87 L611.19,1031.77 L622.41,1034.86 L633.61,1038.01 L644.39,1041.12 L654.32,1044.07 L663.55,1046.93 L672.4,1049.82 L680.82,1052.66 L688.75,1055.39 L696.14,1057.94 L702.93,1060.23 L709.12,1062.23 L714.77,1063.98 L719.86,1065.54 L724.42,1066.99 L728.45,1068.41 L731.94,1069.85 L734.73,1071.14 L736.76,1072.17 L738.26,1073.17 L739.44,1074.33 L740.53,1075.89 L741.74,1078.04 L743.04,1080.53 L744.23,1083.12 L745.32,1086.11 L746.33,1089.76 L747.27,1094.34 L748.15,1100.14 L748.95,1107.67 L749.68,1116.82 L750.34,1126.9 L750.92,1137.24 L751.45,1147.17 L751.92,1156.01 L752.31,1163.7 L752.61,1170.76 L752.86,1177.41 L753.06,1183.85 L753.24,1190.29 L753.42,1196.94 L753.6,1204.24 L753.76,1212.1 L753.89,1219.96 L754.01,1227.26 L754.1,1233.42 L754.18,1237.87" fill="none" stroke="#ff1a1a" stroke-width="2.6" stroke-linejoin="round" stroke-linecap="round"/>
<path d="M351,910.43 L351.93,911.81 L353.13,913.77 L354.59,916.06 L356.3,918.46 L358.25,920.76 L360.42,922.71 L362.74,924.31 L365.22,925.74 L367.93,927.06 L370.96,928.32 L374.4,929.58 L378.32,930.89 L383.07,932.3 L388.65,933.74 L394.64,935.19 L400.6,936.59 L406.1,937.91 L410.72,939.08 L414.34,940.05 L417.27,940.85 L419.74,941.55 L421.99,942.25 L424.25,943.03 L426.74,943.99 L429.43,945.11 L432.12,946.3 L434.83,947.59 L437.53,948.96 L440.24,950.42 L442.94,951.97 L445.45,953.55 L447.75,955.12 L450.04,956.78 L452.55,958.63 L455.51,960.75 L459.14,963.23 L463.4,966.14 L468.09,969.41 L473.24,972.95 L478.83,976.68 L484.87,980.49 L491.36,984.31 L498.47,988.32 L506.22,992.63 L514.43,997.04 L522.88,1001.32 L531.4,1005.26 L539.78,1008.66 L547.92,1011.4 L555.95,1013.61 L564.05,1015.49 L572.36,1017.22 L581.04,1018.98 L590.27,1020.94 L600.34,1023.07 L611.19,1025.19 L622.41,1027.35 L633.61,1029.56 L644.39,1031.85 L654.32,1034.24 L663.32,1036.75 L671.68,1039.36 L679.6,1042.05 L687.31,1044.79 L695.02,1047.59 L702.93,1050.41 L711.42,1053.32 L720.4,1056.35 L729.37,1059.42 L737.84,1062.46 L745.33,1065.42 L751.35,1068.22 L755.64,1070.79 L758.55,1073.19 L760.48,1075.51 L761.82,1077.81 L762.97,1080.2 L764.35,1082.75 L765.81,1085.03 L767,1086.91 L768.01,1088.86 L768.92,1091.39 L769.81,1094.98 L770.76,1100.14 L771.78,1107.4 L772.82,1116.47 L773.84,1126.6 L774.8,1137.07 L775.67,1147.12 L776.41,1156.01 L777,1163.7 L777.46,1170.76 L777.83,1177.41 L778.14,1183.85 L778.41,1190.29 L778.67,1196.94 L778.91,1204.24 L779.11,1212.1 L779.28,1219.96 L779.41,1227.26 L779.52,1233.42 L779.61,1237.87" fill="none" stroke="#1a1aff" stroke-width="2.6" stroke-linejoin="round" stroke-linecap="round"/>
<path d="M351,910.43 L351.93,911.69 L353.13,913.46 L354.59,915.55 L356.3,917.74 L358.25,919.86 L360.42,921.69 L362.74,923.22 L365.22,924.6 L367.93,925.91 L370.96,927.18 L374.4,928.48 L378.32,929.87 L383.07,931.41 L388.65,933.06 L394.64,934.73 L400.6,936.35 L406.1,937.83 L410.72,939.08 L414.34,940.02 L417.27,940.71 L419.74,941.26 L421.99,941.77 L424.25,942.37 L426.74,943.17 L429.43,944.14 L432.12,945.18 L434.83,946.31 L437.53,947.53 L440.24,948.87 L442.94,950.34 L445.45,951.86 L447.75,953.41 L450.04,955.07 L452.55,956.93 L455.51,959.08 L459.14,961.59 L463.4,964.55 L468.09,967.88 L473.24,971.51 L478.83,975.31 L484.87,979.2 L491.36,983.08 L498.47,987.14 L506.22,991.49 L514.43,995.94 L522.88,1000.25 L531.4,1004.22 L539.78,1007.64 L547.92,1010.38 L555.95,1012.6 L564.05,1014.48 L572.36,1016.2 L581.04,1017.95 L590.27,1019.92 L600.34,1022.04 L611.19,1024.16 L622.41,1026.31 L633.61,1028.52 L644.39,1030.81 L654.32,1033.22 L663.32,1035.72 L671.68,1038.3 L679.6,1040.96 L687.31,1043.72 L695.02,1046.59 L702.93,1049.59 L711.39,1052.86 L720.28,1056.4 L729.18,1060.05 L737.62,1063.66 L745.16,1067.05 L751.35,1070.06 L755.93,1072.57 L759.2,1074.69 L761.57,1076.59 L763.45,1078.46 L765.24,1080.45 L767.36,1082.75 L769.76,1085.05 L772.08,1087.15 L774.32,1089.38 L776.46,1092.08 L778.48,1095.55 L780.36,1100.14 L782.11,1106.05 L783.75,1113.06 L785.26,1120.85 L786.65,1129.11 L787.91,1137.52 L789.03,1145.78 L789.99,1154.1 L790.8,1162.8 L791.47,1171.65 L792.04,1180.44 L792.53,1188.94 L792.99,1196.94 L793.37,1204.83 L793.67,1212.86 L793.89,1220.6 L794.06,1227.64 L794.19,1233.54 L794.31,1237.87" fill="none" stroke="#1a8a1a" stroke-width="2.6" stroke-linejoin="round" stroke-linecap="round"/>
<path d="M351,910.43 L351.37,911.58 L351.84,913.2 L352.41,915.1 L353.09,917.1 L353.88,919.02 L354.77,920.66 L355.61,922.01 L356.39,923.19 L357.26,924.28 L358.42,925.37 L360.04,926.52 L362.3,927.83 L365.18,929.36 L368.51,931.08 L372.31,932.88 L376.57,934.62 L381.27,936.18 L386.42,937.44 L392.39,938.34 L399.26,938.95 L406.58,939.39 L413.9,939.76 L420.77,940.16 L426.74,940.72 L431.78,941.31 L436.26,941.82 L440.29,942.37 L443.99,943.08 L447.47,944.06 L450.85,945.43 L454.04,947.35 L456.9,949.78 L459.55,952.47 L462.09,955.22 L464.62,957.79 L467.24,959.96 L469.84,961.72 L472.31,963.28 L474.77,964.65 L477.33,965.89 L480.12,967.04 L483.26,968.14 L486.9,969.13 L490.98,969.97 L495.29,970.71 L499.61,971.43 L503.71,972.19 L507.37,973.05 L510.37,973.95 L512.82,974.82 L515.06,975.73 L517.41,976.74 L520.2,977.94 L523.76,979.4 L528.31,981.16 L533.62,983.2 L539.38,985.42 L545.24,987.73 L550.88,990.05 L555.98,992.29 L560.54,994.5 L564.83,996.77 L568.91,999.04 L572.81,1001.27 L576.59,1003.4 L580.28,1005.39 L583.63,1007.12 L586.53,1008.61 L589.3,1010.01 L592.27,1011.44 L595.75,1013.06 L600.06,1015.01 L605.25,1017.32 L611.07,1019.91 L617.4,1022.68 L624.12,1025.54 L631.13,1028.4 L638.31,1031.17 L646.01,1034.02 L654.41,1037.05 L663.08,1040.08 L671.64,1042.92 L679.65,1045.4 L686.73,1047.34 L692.88,1048.49 L698.43,1048.96 L703.45,1049.07 L708,1049.13 L712.14,1049.47 L715.93,1050.41 L719.12,1052.05 L721.62,1054.16 L723.7,1056.55 L725.67,1059.03 L727.82,1061.41 L730.44,1063.51 L733.61,1065.37 L737.12,1067.15 L740.8,1068.83 L744.5,1070.4 L748.07,1071.84 L751.35,1073.13 L754.3,1074.18 L757.04,1075 L759.64,1075.68 L762.18,1076.35 L764.73,1077.1 L767.36,1078.04 L770.13,1079.12 L772.99,1080.24 L775.85,1081.45 L778.65,1082.79 L781.31,1084.3 L783.75,1086.02 L785.96,1087.89 L787.98,1089.86 L789.87,1092.01 L791.65,1094.39 L793.36,1097.08 L795.06,1100.14 L796.74,1103.4 L798.37,1106.75 L799.93,1110.41 L801.42,1114.59 L802.82,1119.49 L804.1,1125.31 L805.26,1132.45 L806.31,1140.82 L807.26,1149.91 L808.14,1159.22 L808.96,1168.24 L809.75,1176.47 L810.52,1184.13 L811.25,1191.63 L811.93,1198.86 L812.55,1205.66 L813.08,1211.89 L813.52,1217.4 L813.85,1222.24 L814.08,1226.5 L814.23,1230.2 L814.32,1233.32 L814.39,1235.88 L814.46,1237.87" fill="none" stroke="#ff8a1a" stroke-width="2.6" stroke-linejoin="round" stroke-linecap="round"/>
<path d="M351,1145.78 L350.97,1135.5 L350.9,1120.54 L350.82,1103.18 L350.79,1085.75 L350.84,1070.53 L351,1059.82 L351.24,1054.17 L351.52,1051.83 L351.88,1051.7 L352.36,1052.7 L353,1053.73 L353.83,1053.68 L354.7,1052.77 L355.57,1051.9 L356.59,1051.06 L357.94,1050.24 L359.79,1049.41 L362.3,1048.57 L365.53,1047.75 L369.35,1046.98 L373.67,1046.2 L378.39,1045.39 L383.42,1044.48 L388.68,1043.45 L393.99,1042.31 L399.39,1041.1 L405.11,1039.81 L411.36,1038.41 L418.37,1036.9 L426.36,1035.27 L435.98,1033.39 L447.19,1031.25 L459.15,1029 L471.05,1026.78 L482.06,1024.73 L491.36,1022.99 L498.78,1021.59 L504.96,1020.41 L510.26,1019.41 L515.01,1018.52 L519.59,1017.68 L524.33,1016.85 L529.11,1016.09 L533.61,1015.48 L537.93,1014.93 L542.16,1014.35 L546.38,1013.65 L550.7,1012.76 L555.19,1011.6 L559.78,1010.25 L564.36,1008.79 L568.85,1007.3 L573.12,1005.86 L577.08,1004.57 L580.61,1003.47 L583.78,1002.52 L586.74,1001.63 L589.64,1000.7 L592.65,999.67 L595.92,998.43 L599.45,997.01 L603.11,995.47 L606.87,993.82 L610.71,992.06 L614.61,990.19 L618.53,988.2 L622.52,986.07 L626.62,983.8 L630.77,981.42 L634.93,978.95 L639.03,976.42 L643.02,973.87 L646.9,971.26 L650.7,968.57 L654.44,965.81 L658.16,963.03 L661.88,960.25 L665.63,957.5 L669.4,954.76 L673.16,952 L676.93,949.25 L680.7,946.51 L684.47,943.8 L688.24,941.13 L691.99,938.51 L695.74,935.94 L699.48,933.39 L703.24,930.86 L707.02,928.33 L710.84,925.78 L714.99,923.04 L719.5,920.09 L724.03,917.15 L728.25,914.41 L731.82,912.1 L734.39,910.43" fill="none" stroke="#1a1a1a" stroke-width="2.6" stroke-linejoin="round" stroke-linecap="round"/>
<path d="M351,1147.82 L350.96,1138.52 L350.86,1124.97 L350.76,1109.26 L350.72,1093.48 L350.78,1079.71 L351,1070.06 L351.28,1065 L351.56,1062.97 L351.94,1062.96 L352.54,1063.96 L353.44,1064.95 L354.77,1064.94 L356.52,1064.08 L358.61,1063.2 L361.01,1062.32 L363.7,1061.45 L366.65,1060.62 L369.84,1059.82 L373.09,1059.19 L376.4,1058.73 L379.97,1058.29 L384,1057.74 L388.72,1056.93 L394.33,1055.73 L401.09,1054.06 L408.88,1052.03 L417.35,1049.73 L426.15,1047.3 L434.92,1044.82 L443.32,1042.43 L451.55,1040.01 L459.96,1037.47 L468.34,1034.9 L476.5,1032.38 L484.23,1030.02 L491.36,1027.9 L497.85,1026.05 L503.85,1024.38 L509.43,1022.87 L514.66,1021.48 L519.61,1020.17 L524.33,1018.89 L528.65,1017.73 L532.49,1016.71 L536.04,1015.77 L539.5,1014.85 L543.07,1013.86 L546.94,1012.76 L551.11,1011.56 L555.45,1010.33 L559.89,1009.05 L564.38,1007.68 L568.87,1006.19 L573.31,1004.57 L577.69,1002.76 L582.03,1000.78 L586.38,998.69 L590.76,996.53 L595.18,994.38 L599.69,992.29 L604.33,990.22 L609.11,988.12 L613.94,986.02 L618.74,983.95 L623.43,981.94 L627.95,980.01 L632.27,978.19 L636.46,976.45 L640.55,974.77 L644.56,973.11 L648.51,971.46 L652.44,969.78 L656.26,968.06 L659.92,966.33 L663.53,964.6 L667.19,962.88 L671,961.19 L675.05,959.55 L679.34,958.07 L683.78,956.78 L688.38,955.52 L693.11,954.13 L697.96,952.45 L702.93,950.34 L708.17,947.56 L713.7,944.2 L719.37,940.55 L724.98,936.92 L730.36,933.6 L735.34,930.89 L739.95,928.93 L744.34,927.48 L748.51,926.35 L752.43,925.32 L756.08,924.18 L759.45,922.71 L762.59,920.76 L765.54,918.46 L768.21,916.06 L770.55,913.77 L772.49,911.81 L773.96,910.43" fill="none" stroke="#ff1a1a" stroke-width="2.6" stroke-linejoin="round" stroke-linecap="round"/>
<path d="M351,1145.78 L350.96,1136.46 L350.86,1122.89 L350.76,1107.15 L350.72,1091.36 L350.78,1077.61 L351,1068.01 L351.28,1063.08 L351.56,1061.23 L351.94,1061.42 L352.54,1062.63 L353.44,1063.81 L354.77,1063.92 L356.52,1063.11 L358.61,1062.25 L361.01,1061.36 L363.7,1060.47 L366.65,1059.61 L369.84,1058.8 L373.09,1058.15 L376.4,1057.66 L379.97,1057.2 L384,1056.64 L388.72,1055.85 L394.33,1054.71 L401.09,1053.15 L408.88,1051.26 L417.35,1049.14 L426.15,1046.9 L434.92,1044.63 L443.32,1042.43 L451.55,1040.22 L459.96,1037.92 L468.34,1035.59 L476.5,1033.3 L484.23,1031.12 L491.36,1029.13 L497.85,1027.32 L503.85,1025.64 L509.43,1024.07 L514.66,1022.61 L519.61,1021.23 L524.33,1019.92 L528.65,1018.74 L532.49,1017.72 L536.04,1016.78 L539.5,1015.86 L543.07,1014.88 L546.94,1013.78 L551.11,1012.58 L555.45,1011.35 L559.89,1010.07 L564.38,1008.7 L568.87,1007.22 L573.31,1005.59 L577.69,1003.78 L582.03,1001.8 L586.38,999.71 L590.76,997.56 L595.18,995.41 L599.69,993.31 L604.33,991.23 L609.11,989.11 L613.94,986.98 L618.74,984.9 L623.43,982.9 L627.95,981.03 L632.27,979.33 L636.46,977.78 L640.55,976.3 L644.56,974.86 L648.51,973.38 L652.44,971.83 L656.25,970.18 L659.91,968.49 L663.51,966.77 L667.16,965.04 L670.97,963.31 L675.05,961.59 L679.47,959.89 L684.19,958.18 L689.06,956.48 L693.96,954.77 L698.75,953.07 L703.31,951.36 L707.62,949.62 L711.79,947.83 L715.85,946.04 L719.85,944.3 L723.82,942.64 L727.8,941.13 L731.78,939.74 L735.72,938.43 L739.63,937.21 L743.53,936.09 L747.44,935.08 L751.35,934.17 L755.35,933.44 L759.45,932.91 L763.55,932.48 L767.55,932.06 L771.37,931.56 L774.9,930.89 L778.14,930.13 L781.17,929.36 L784,928.52 L786.68,927.51 L789.22,926.29 L791.67,924.76 L794.09,922.68 L796.48,920.06 L798.74,917.21 L800.77,914.45 L802.47,912.08 L803.73,910.43" fill="none" stroke="#1a1aff" stroke-width="2.6" stroke-linejoin="round" stroke-linecap="round"/>
<path d="M351,1121.22 L350.96,1114.62 L350.86,1105 L350.76,1093.85 L350.72,1082.64 L350.78,1072.85 L351,1065.96 L351.28,1062.32 L351.56,1060.81 L351.94,1060.72 L352.54,1061.34 L353.44,1061.96 L354.77,1061.87 L356.52,1061.19 L358.61,1060.51 L361.01,1059.82 L363.7,1059.14 L366.65,1058.46 L369.84,1057.78 L373.09,1057.18 L376.4,1056.68 L379.97,1056.18 L384,1055.58 L388.72,1054.78 L394.33,1053.68 L401.09,1052.24 L408.88,1050.5 L417.35,1048.57 L426.15,1046.52 L434.92,1044.45 L443.32,1042.43 L451.55,1040.41 L459.96,1038.3 L468.34,1036.16 L476.5,1034.05 L484.23,1032.03 L491.36,1030.15 L497.85,1028.4 L503.85,1026.74 L509.43,1025.16 L514.66,1023.67 L519.61,1022.26 L524.33,1020.94 L528.65,1019.76 L532.49,1018.74 L536.04,1017.81 L539.5,1016.89 L543.07,1015.91 L546.94,1014.8 L551.11,1013.6 L555.45,1012.38 L559.89,1011.09 L564.38,1009.72 L568.87,1008.24 L573.31,1006.62 L577.69,1004.81 L582.03,1002.83 L586.38,1000.73 L590.76,998.58 L595.18,996.43 L599.69,994.34 L604.33,992.25 L609.11,990.13 L613.94,988.01 L618.74,985.92 L623.43,983.93 L627.95,982.06 L632.27,980.34 L636.46,978.76 L640.55,977.26 L644.56,975.8 L648.51,974.35 L652.44,972.85 L656.25,971.33 L659.91,969.82 L663.51,968.31 L667.16,966.78 L670.97,965.23 L675.05,963.64 L679.47,961.99 L684.19,960.3 L689.06,958.59 L693.96,956.86 L698.75,955.12 L703.31,953.41 L707.62,951.67 L711.79,949.9 L715.85,948.14 L719.85,946.4 L723.82,944.74 L727.8,943.17 L731.78,941.66 L735.72,940.16 L739.63,938.74 L743.53,937.43 L747.44,936.3 L751.35,935.4 L755.35,934.79 L759.45,934.43 L763.55,934.26 L767.55,934.18 L771.37,934.11 L774.9,933.96 L778.13,933.85 L781.13,933.86 L783.94,933.88 L786.61,933.8 L789.17,933.52 L791.67,932.94 L794.03,932.06 L796.22,930.97 L798.31,929.68 L800.36,928.2 L802.46,926.56 L804.67,924.76 L807.17,922.56 L809.93,919.9 L812.73,917.08 L815.36,914.37 L817.58,912.06 L819.17,910.43" fill="none" stroke="#1a8a1a" stroke-width="2.6" stroke-linejoin="round" stroke-linecap="round"/>
<path d="M351,1141.68 L350.93,1132.39 L350.79,1118.87 L350.65,1103.18 L350.58,1087.41 L350.67,1073.63 L351,1063.92 L351.43,1058.74 L351.87,1056.55 L352.47,1056.35 L353.37,1057.14 L354.72,1057.95 L356.65,1057.78 L359.03,1056.84 L361.7,1055.98 L364.81,1055.13 L368.52,1054.23 L372.97,1053.22 L378.32,1052.05 L384.84,1050.63 L392.47,1049.02 L400.84,1047.29 L409.59,1045.55 L418.35,1043.9 L426.74,1042.43 L435.02,1041.18 L443.54,1040.07 L452.06,1039.05 L460.36,1038.06 L468.2,1037.02 L475.34,1035.88 L481.64,1034.67 L487.25,1033.44 L492.39,1032.17 L497.31,1030.84 L502.23,1029.42 L507.37,1027.9 L512.7,1026.24 L518.02,1024.46 L523.34,1022.59 L528.67,1020.68 L534.02,1018.75 L539.4,1016.85 L544.88,1014.98 L550.45,1013.12 L556.05,1011.25 L561.59,1009.34 L566.99,1007.4 L572.18,1005.39 L577.11,1003.28 L581.84,1001.07 L586.43,998.83 L590.95,996.58 L595.47,994.39 L600.06,992.29 L604.75,990.27 L609.48,988.29 L614.22,986.36 L618.9,984.49 L623.5,982.71 L627.95,981.03 L632.25,979.5 L636.43,978.12 L640.52,976.81 L644.54,975.54 L648.51,974.24 L652.44,972.85 L656.25,971.38 L659.91,969.89 L663.51,968.37 L667.16,966.82 L670.97,965.24 L675.05,963.64 L679.47,961.98 L684.19,960.27 L689.06,958.52 L693.96,956.78 L698.75,955.06 L703.31,953.41 L707.62,951.79 L711.79,950.19 L715.85,948.61 L719.85,947.08 L723.82,945.6 L727.8,944.2 L731.78,942.83 L735.72,941.47 L739.63,940.17 L743.53,938.97 L747.44,937.91 L751.35,937.03 L755.33,936.4 L759.37,935.97 L763.42,935.69 L767.4,935.48 L771.25,935.27 L774.9,934.99 L778.38,934.67 L781.74,934.38 L784.97,934.09 L788.05,933.78 L790.98,933.4 L793.74,932.94 L796.31,932.44 L798.71,931.92 L800.95,931.34 L803.05,930.67 L805.04,929.85 L806.93,928.85 L808.72,927.6 L810.4,926.12 L811.97,924.5 L813.42,922.82 L814.75,921.17 L815.97,919.64 L817.03,918.13 L817.91,916.57 L818.68,915.03 L819.39,913.61 L820.1,912.39 L820.87,911.45 L821.67,910.86 L822.45,910.54 L823.24,910.43 L824.04,910.43 L824.88,910.46 L825.77,910.43 L826.8,910.37 L827.97,910.35 L829.18,910.37 L830.32,910.39 L831.29,910.42 L831.99,910.43" fill="none" stroke="#ff8a1a" stroke-width="2.6" stroke-linejoin="round" stroke-linecap="round"/>
<polygon points="332.4,869.5 843,869.5 843,1278.8 332.4,1278.8" fill="none" stroke="#111" stroke-width="3" />
<line x1="332.4" y1="1258.34" x2="339.9" y2="1258.34" stroke="#111" stroke-width="2.6" />
<line x1="843" y1="1258.34" x2="835.5" y2="1258.34" stroke="#111" stroke-width="2.6" />
<line x1="332.4" y1="1237.87" x2="339.9" y2="1237.87" stroke="#111" stroke-width="2.6" />
<line x1="843" y1="1237.87" x2="835.5" y2="1237.87" stroke="#111" stroke-width="2.6" />
<line x1="332.4" y1="1217.4" x2="339.9" y2="1217.4" stroke="#111" stroke-width="2.6" />
<line x1="843" y1="1217.4" x2="835.5" y2="1217.4" stroke="#111" stroke-width="2.6" />
<line x1="332.4" y1="1196.94" x2="339.9" y2="1196.94" stroke="#111" stroke-width="2.6" />
<line x1="843" y1="1196.94" x2="835.5" y2="1196.94" stroke="#111" stroke-width="2.6" />
<line x1="332.4" y1="1176.47" x2="344.4" y2="1176.47" stroke="#111" stroke-width="2.6" />
<line x1="843" y1="1176.47" x2="831" y2="1176.47" stroke="#111" stroke-width="2.6" />
<line x1="332.4" y1="1156.01" x2="339.9" y2="1156.01" stroke="#111" stroke-width="2.6" />
<line x1="843" y1="1156.01" x2="835.5" y2="1156.01" stroke="#111" stroke-width="2.6" />
<line x1="332.4" y1="1135.55" x2="339.9" y2="1135.55" stroke="#111" stroke-width="2.6" />
<line x1="843" y1="1135.55" x2="835.5" y2="1135.55" stroke="#111" stroke-width="2.6" />
<line x1="332.4" y1="1115.08" x2="339.9" y2="1115.08" stroke="#111" stroke-width="2.6" />
<line x1="843" y1="1115.08" x2="835.5" y2="1115.08" stroke="#111" stroke-width="2.6" />
<line x1="332.4" y1="1094.62" x2="339.9" y2="1094.62" stroke="#111" stroke-width="2.6" />
<line x1="843" y1="1094.62" x2="835.5" y2="1094.62" stroke="#111" stroke-width="2.6" />
<line x1="332.4" y1="1074.15" x2="344.4" y2="1074.15" stroke="#111" stroke-width="2.6" />
<line x1="843" y1="1074.15" x2="831" y2="1074.15" stroke="#111" stroke-width="2.6" />
<line x1="332.4" y1="1053.68" x2="339.9" y2="1053.68" stroke="#111" stroke-width="2.6" />
<line x1="843" y1="1053.68" x2="835.5" y2="1053.68" stroke="#111" stroke-width="2.6" />
<line x1="332.4" y1="1033.22" x2="339.9" y2="1033.22" stroke="#111" stroke-width="2.6" />
<line x1="843" y1="1033.22" x2="835.5" y2="1033.22" stroke="#111" stroke-width="2.6" />
<line x1="332.4" y1="1012.76" x2="339.9" y2="1012.76" stroke="#111" stroke-width="2.6" />
<line x1="843" y1="1012.76" x2="835.5" y2="1012.76" stroke="#111" stroke-width="2.6" />
<line x1="332.4" y1="992.29" x2="339.9" y2="992.29" stroke="#111" stroke-width="2.6" />
<line x1="843" y1="992.29" x2="835.5" y2="992.29" stroke="#111" stroke-width="2.6" />
<line x1="332.4" y1="971.83" x2="344.4" y2="971.83" stroke="#111" stroke-width="2.6" />
<line x1="843" y1="971.83" x2="831" y2="971.83" stroke="#111" stroke-width="2.6" />
<line x1="332.4" y1="951.36" x2="339.9" y2="951.36" stroke="#111" stroke-width="2.6" />
<line x1="843" y1="951.36" x2="835.5" y2="951.36" stroke="#111" stroke-width="2.6" />
<line x1="332.4" y1="930.89" x2="339.9" y2="930.89" stroke="#111" stroke-width="2.6" />
<line x1="843" y1="930.89" x2="835.5" y2="930.89" stroke="#111" stroke-width="2.6" />
<line x1="332.4" y1="910.43" x2="339.9" y2="910.43" stroke="#111" stroke-width="2.6" />
<line x1="843" y1="910.43" x2="835.5" y2="910.43" stroke="#111" stroke-width="2.6" />
<line x1="332.4" y1="889.96" x2="339.9" y2="889.96" stroke="#111" stroke-width="2.6" />
<line x1="843" y1="889.96" x2="835.5" y2="889.96" stroke="#111" stroke-width="2.6" />
<line x1="351" y1="1278.8" x2="351" y2="1267.3" stroke="#111" stroke-width="2.6" />
<line x1="369.84" y1="1278.8" x2="369.84" y2="1271.8" stroke="#111" stroke-width="2.6" />
<line x1="388.68" y1="1278.8" x2="388.68" y2="1271.8" stroke="#111" stroke-width="2.6" />
<line x1="407.52" y1="1278.8" x2="407.52" y2="1271.8" stroke="#111" stroke-width="2.6" />
<line x1="426.36" y1="1278.8" x2="426.36" y2="1271.8" stroke="#111" stroke-width="2.6" />
<line x1="445.2" y1="1278.8" x2="445.2" y2="1267.3" stroke="#111" stroke-width="2.6" />
<line x1="464.04" y1="1278.8" x2="464.04" y2="1271.8" stroke="#111" stroke-width="2.6" />
<line x1="482.88" y1="1278.8" x2="482.88" y2="1271.8" stroke="#111" stroke-width="2.6" />
<line x1="501.72" y1="1278.8" x2="501.72" y2="1271.8" stroke="#111" stroke-width="2.6" />
<line x1="520.56" y1="1278.8" x2="520.56" y2="1271.8" stroke="#111" stroke-width="2.6" />
<line x1="539.4" y1="1278.8" x2="539.4" y2="1267.3" stroke="#111" stroke-width="2.6" />
<line x1="558.24" y1="1278.8" x2="558.24" y2="1271.8" stroke="#111" stroke-width="2.6" />
<line x1="577.08" y1="1278.8" x2="577.08" y2="1271.8" stroke="#111" stroke-width="2.6" />
<line x1="595.92" y1="1278.8" x2="595.92" y2="1271.8" stroke="#111" stroke-width="2.6" />
<line x1="614.76" y1="1278.8" x2="614.76" y2="1271.8" stroke="#111" stroke-width="2.6" />
<line x1="633.6" y1="1278.8" x2="633.6" y2="1267.3" stroke="#111" stroke-width="2.6" />
<line x1="652.44" y1="1278.8" x2="652.44" y2="1271.8" stroke="#111" stroke-width="2.6" />
<line x1="671.28" y1="1278.8" x2="671.28" y2="1271.8" stroke="#111" stroke-width="2.6" />
<line x1="690.12" y1="1278.8" x2="690.12" y2="1271.8" stroke="#111" stroke-width="2.6" />
<line x1="708.96" y1="1278.8" x2="708.96" y2="1271.8" stroke="#111" stroke-width="2.6" />
<line x1="727.8" y1="1278.8" x2="727.8" y2="1267.3" stroke="#111" stroke-width="2.6" />
<line x1="746.64" y1="1278.8" x2="746.64" y2="1271.8" stroke="#111" stroke-width="2.6" />
<line x1="765.48" y1="1278.8" x2="765.48" y2="1271.8" stroke="#111" stroke-width="2.6" />
<line x1="784.32" y1="1278.8" x2="784.32" y2="1271.8" stroke="#111" stroke-width="2.6" />
<line x1="803.16" y1="1278.8" x2="803.16" y2="1271.8" stroke="#111" stroke-width="2.6" />
<line x1="822" y1="1278.8" x2="822" y2="1267.3" stroke="#111" stroke-width="2.6" />
<text x="326.8" y="1287.8" font-family='"Liberation Sans", Arial, sans-serif' font-size="26.5" font-weight="bold" text-anchor="end" fill="#111" textLength="36.4" lengthAdjust="spacingAndGlyphs">2.5</text>
<text x="326.8" y="1185.47" font-family='"Liberation Sans", Arial, sans-serif' font-size="26.5" font-weight="bold" text-anchor="end" fill="#111" textLength="36.4" lengthAdjust="spacingAndGlyphs">3.0</text>
<text x="326.8" y="1083.15" font-family='"Liberation Sans", Arial, sans-serif' font-size="26.5" font-weight="bold" text-anchor="end" fill="#111" textLength="36.4" lengthAdjust="spacingAndGlyphs">3.5</text>
<text x="326.8" y="980.83" font-family='"Liberation Sans", Arial, sans-serif' font-size="26.5" font-weight="bold" text-anchor="end" fill="#111" textLength="36.4" lengthAdjust="spacingAndGlyphs">4.0</text>
<text x="326.8" y="878.5" font-family='"Liberation Sans", Arial, sans-serif' font-size="26.5" font-weight="bold" text-anchor="end" fill="#111" textLength="36.4" lengthAdjust="spacingAndGlyphs">4.5</text>
<text x="351" y="1304.5" font-family='"Liberation Sans", Arial, sans-serif' font-size="28" font-weight="bold" text-anchor="middle" fill="#111" textLength="14" lengthAdjust="spacingAndGlyphs">0</text>
<text x="445.2" y="1304.5" font-family='"Liberation Sans", Arial, sans-serif' font-size="28" font-weight="bold" text-anchor="middle" fill="#111" textLength="28" lengthAdjust="spacingAndGlyphs">50</text>
<text x="539.4" y="1304.5" font-family='"Liberation Sans", Arial, sans-serif' font-size="28" font-weight="bold" text-anchor="middle" fill="#111" textLength="42" lengthAdjust="spacingAndGlyphs">100</text>
<text x="633.6" y="1304.5" font-family='"Liberation Sans", Arial, sans-serif' font-size="28" font-weight="bold" text-anchor="middle" fill="#111" textLength="42" lengthAdjust="spacingAndGlyphs">150</text>
<text x="727.8" y="1304.5" font-family='"Liberation Sans", Arial, sans-serif' font-size="28" font-weight="bold" text-anchor="middle" fill="#111" textLength="42" lengthAdjust="spacingAndGlyphs">200</text>
<text x="822" y="1304.5" font-family='"Liberation Sans", Arial, sans-serif' font-size="28" font-weight="bold" text-anchor="middle" fill="#111" textLength="42" lengthAdjust="spacingAndGlyphs">250</text>
<text x="401.3" y="1345.5" font-family='"Liberation Sans", Arial, sans-serif' font-size="29.5" font-weight="bold" fill="#111" textLength="356" lengthAdjust="spacingAndGlyphs">Specific capacity / mAhg</text>
<text x="759" y="1330" font-family='"Liberation Sans", Arial, sans-serif' font-size="17" font-weight="bold" text-anchor="start" fill="#111" textLength="13" lengthAdjust="spacingAndGlyphs">-1</text>
<text transform="translate(272.5,1235) rotate(-90)" font-family='"Liberation Sans", Arial, sans-serif' font-size="33" font-weight="bold" fill="#111" textLength="336" lengthAdjust="spacingAndGlyphs">Voltage / V (vs. Li<tspan font-size="19" dy="-13">+</tspan><tspan dy="13">/Li)</tspan></text>
<text x="584.8" y="897.5" font-family='"Liberation Sans", Arial, sans-serif' font-size="25.8" font-weight="bold" text-anchor="start" fill="#111" textLength="241.5" lengthAdjust="spacingAndGlyphs" xml:space="preserve">2.7-4.3 V,  0.1C, 25 &#176;C</text>
<line x1="438.8" y1="1077.6" x2="508.4" y2="1077.6" stroke="#1a1a1a" stroke-width="3" />
<text x="517.2" y="1089.6" font-family='"Liberation Sans", Arial, sans-serif' font-size="30.5" font-weight="bold" text-anchor="start" fill="#111" textLength="92.3" lengthAdjust="spacingAndGlyphs" xml:space="preserve">x = 0.6</text>
<line x1="438.8" y1="1118.4" x2="508.4" y2="1118.4" stroke="#ff1a1a" stroke-width="3" />
<text x="517.2" y="1130.4" font-family='"Liberation Sans", Arial, sans-serif' font-size="30.5" font-weight="bold" text-anchor="start" fill="#111" textLength="92.3" lengthAdjust="spacingAndGlyphs" xml:space="preserve">x = 0.8</text>
<line x1="438.8" y1="1159.8" x2="508.4" y2="1159.8" stroke="#1a1aff" stroke-width="3" />
<text x="517.2" y="1171.8" font-family='"Liberation Sans", Arial, sans-serif' font-size="30.5" font-weight="bold" text-anchor="start" fill="#111" textLength="92.3" lengthAdjust="spacingAndGlyphs" xml:space="preserve">x = 0.9</text>
<line x1="438.8" y1="1200.3" x2="508.4" y2="1200.3" stroke="#1a8a1a" stroke-width="3" />
<text x="517.2" y="1212.3" font-family='"Liberation Sans", Arial, sans-serif' font-size="30.5" font-weight="bold" text-anchor="start" fill="#111" textLength="110.5" lengthAdjust="spacingAndGlyphs" xml:space="preserve">x = 0.95</text>
<line x1="438.8" y1="1240.7" x2="508.4" y2="1240.7" stroke="#ff8a1a" stroke-width="3" />
<text x="517.2" y="1252.7" font-family='"Liberation Sans", Arial, sans-serif' font-size="30.5" font-weight="bold" text-anchor="start" fill="#111" textLength="92.3" lengthAdjust="spacingAndGlyphs" xml:space="preserve">x = 1.0</text>
<text x="857.2" y="886" font-family='"Liberation Serif", "Times New Roman", serif' font-size="41" font-weight="normal" text-anchor="start" fill="#222" textLength="46.4" lengthAdjust="spacingAndGlyphs">(b)</text>
<polygon points="973.6,872.7 1484.8,872.7 1484.8,1282.6 973.6,1282.6" fill="none" stroke="#111" stroke-width="3" />
<line x1="973.6" y1="1248.43" x2="983.6" y2="1248.43" stroke="#111" stroke-width="2.6" />
<line x1="1484.8" y1="1248.43" x2="1474.8" y2="1248.43" stroke="#111" stroke-width="2.6" />
<line x1="973.6" y1="1214.28" x2="984.1" y2="1214.28" stroke="#111" stroke-width="2.6" />
<line x1="1484.8" y1="1214.28" x2="1474.3" y2="1214.28" stroke="#111" stroke-width="2.6" />
<line x1="973.6" y1="1180.12" x2="983.6" y2="1180.12" stroke="#111" stroke-width="2.6" />
<line x1="1484.8" y1="1180.12" x2="1474.8" y2="1180.12" stroke="#111" stroke-width="2.6" />
<line x1="973.6" y1="1145.96" x2="984.1" y2="1145.96" stroke="#111" stroke-width="2.6" />
<line x1="1484.8" y1="1145.96" x2="1474.3" y2="1145.96" stroke="#111" stroke-width="2.6" />
<line x1="973.6" y1="1111.8" x2="983.6" y2="1111.8" stroke="#111" stroke-width="2.6" />
<line x1="1484.8" y1="1111.8" x2="1474.8" y2="1111.8" stroke="#111" stroke-width="2.6" />
<line x1="973.6" y1="1077.64" x2="984.1" y2="1077.64" stroke="#111" stroke-width="2.6" />
<line x1="1484.8" y1="1077.64" x2="1474.3" y2="1077.64" stroke="#111" stroke-width="2.6" />
<line x1="973.6" y1="1043.49" x2="983.6" y2="1043.49" stroke="#111" stroke-width="2.6" />
<line x1="1484.8" y1="1043.49" x2="1474.8" y2="1043.49" stroke="#111" stroke-width="2.6" />
<line x1="973.6" y1="1009.33" x2="984.1" y2="1009.33" stroke="#111" stroke-width="2.6" />
<line x1="1484.8" y1="1009.33" x2="1474.3" y2="1009.33" stroke="#111" stroke-width="2.6" />
<line x1="973.6" y1="975.17" x2="983.6" y2="975.17" stroke="#111" stroke-width="2.6" />
<line x1="1484.8" y1="975.17" x2="1474.8" y2="975.17" stroke="#111" stroke-width="2.6" />
<line x1="973.6" y1="941.02" x2="984.1" y2="941.02" stroke="#111" stroke-width="2.6" />
<line x1="1484.8" y1="941.02" x2="1474.3" y2="941.02" stroke="#111" stroke-width="2.6" />
<line x1="973.6" y1="906.86" x2="983.6" y2="906.86" stroke="#111" stroke-width="2.6" />
<line x1="1484.8" y1="906.86" x2="1474.8" y2="906.86" stroke="#111" stroke-width="2.6" />
<line x1="1026.5" y1="1282.6" x2="1026.5" y2="1272" stroke="#111" stroke-width="2.6" />
<line x1="1132.9" y1="1282.6" x2="1132.9" y2="1272" stroke="#111" stroke-width="2.6" />
<line x1="1239.3" y1="1282.6" x2="1239.3" y2="1272" stroke="#111" stroke-width="2.6" />
<line x1="1345.7" y1="1282.6" x2="1345.7" y2="1272" stroke="#111" stroke-width="2.6" />
<line x1="1398.9" y1="1282.6" x2="1398.9" y2="1272" stroke="#111" stroke-width="2.6" />
<line x1="1452.1" y1="1282.6" x2="1452.1" y2="1272" stroke="#111" stroke-width="2.6" />
<line x1="1079.7" y1="1282.6" x2="1079.7" y2="1279.6" stroke="#111" stroke-width="2.4" />
<line x1="1186.1" y1="1282.6" x2="1186.1" y2="1279.6" stroke="#111" stroke-width="2.4" />
<line x1="1292.5" y1="1282.6" x2="1292.5" y2="1279.6" stroke="#111" stroke-width="2.4" />
<text x="962.5" y="1291.09" font-family='"Liberation Sans", Arial, sans-serif' font-size="26.5" font-weight="bold" text-anchor="end" fill="#111" textLength="27.3" lengthAdjust="spacingAndGlyphs">70</text>
<text x="962.5" y="1222.78" font-family='"Liberation Sans", Arial, sans-serif' font-size="26.5" font-weight="bold" text-anchor="end" fill="#111" textLength="27.3" lengthAdjust="spacingAndGlyphs">75</text>
<text x="962.5" y="1154.46" font-family='"Liberation Sans", Arial, sans-serif' font-size="26.5" font-weight="bold" text-anchor="end" fill="#111" textLength="27.3" lengthAdjust="spacingAndGlyphs">80</text>
<text x="962.5" y="1086.14" font-family='"Liberation Sans", Arial, sans-serif' font-size="26.5" font-weight="bold" text-anchor="end" fill="#111" textLength="27.3" lengthAdjust="spacingAndGlyphs">85</text>
<text x="962.5" y="1017.83" font-family='"Liberation Sans", Arial, sans-serif' font-size="26.5" font-weight="bold" text-anchor="end" fill="#111" textLength="27.3" lengthAdjust="spacingAndGlyphs">90</text>
<text x="962.5" y="949.52" font-family='"Liberation Sans", Arial, sans-serif' font-size="26.5" font-weight="bold" text-anchor="end" fill="#111" textLength="27.3" lengthAdjust="spacingAndGlyphs">95</text>
<text x="962.5" y="881.2" font-family='"Liberation Sans", Arial, sans-serif' font-size="26.5" font-weight="bold" text-anchor="end" fill="#111" textLength="40.2" lengthAdjust="spacingAndGlyphs">100</text>
<text x="1026.5" y="1316.8" font-family='"Liberation Sans", Arial, sans-serif' font-size="24" font-weight="bold" text-anchor="middle" fill="#111" textLength="27" lengthAdjust="spacingAndGlyphs">60</text>
<text x="1132.9" y="1316.8" font-family='"Liberation Sans", Arial, sans-serif' font-size="24" font-weight="bold" text-anchor="middle" fill="#111" textLength="27" lengthAdjust="spacingAndGlyphs">70</text>
<text x="1239.3" y="1316.8" font-family='"Liberation Sans", Arial, sans-serif' font-size="24" font-weight="bold" text-anchor="middle" fill="#111" textLength="27" lengthAdjust="spacingAndGlyphs">80</text>
<text x="1345.7" y="1316.8" font-family='"Liberation Sans", Arial, sans-serif' font-size="24" font-weight="bold" text-anchor="middle" fill="#111" textLength="27" lengthAdjust="spacingAndGlyphs">90</text>
<text x="1398.9" y="1316.8" font-family='"Liberation Sans", Arial, sans-serif' font-size="24" font-weight="bold" text-anchor="middle" fill="#111" textLength="27" lengthAdjust="spacingAndGlyphs">95</text>
<text x="1452.1" y="1316.8" font-family='"Liberation Sans", Arial, sans-serif' font-size="24" font-weight="bold" text-anchor="middle" fill="#111" textLength="40.5" lengthAdjust="spacingAndGlyphs">100</text>
<text x="1098.7" y="1352.6" font-family='"Liberation Sans", Arial, sans-serif' font-size="30" font-weight="bold" text-anchor="start" fill="#111" textLength="260.3" lengthAdjust="spacingAndGlyphs">Ni content / mol %</text>
<text transform="translate(919.3,1282.6) rotate(-90)" font-family='"Liberation Sans", Arial, sans-serif' font-size="32" font-weight="bold" fill="#111" textLength="402" lengthAdjust="spacingAndGlyphs">100<tspan font-size="18" dy="-12">th</tspan><tspan dy="12"> capacity retention / %</tspan></text>
<polyline points="1026.5,921.2 1239.3,936.92 1345.7,1074.91 1398.9,1099.51 1452.1,1215.64" fill="none" stroke="#000" stroke-width="4.5" stroke-linejoin="round" stroke-linecap="round" />
<defs><radialGradient id="mk" cx="0.5" cy="0.5" r="0.5" fx="0.3" fy="0.3"><stop offset="0" stop-color="#ffffff"/><stop offset="0.35" stop-color="#888"/><stop offset="0.7" stop-color="#111"/><stop offset="1" stop-color="#000"/></radialGradient></defs>
<circle cx="1026.5" cy="921.2" r="9.2" fill="url(#mk)" />
<circle cx="1239.3" cy="936.92" r="9.2" fill="url(#mk)" />
<circle cx="1345.7" cy="1074.91" r="9.2" fill="url(#mk)" />
<circle cx="1398.9" cy="1099.51" r="9.2" fill="url(#mk)" />
<circle cx="1452.1" cy="1215.64" r="9.2" fill="url(#mk)" />
<text x="999.6" y="973.8" font-family='"Liberation Sans", Arial, sans-serif' font-size="24.5" font-weight="bold" text-anchor="start" fill="#111" textLength="84.7" lengthAdjust="spacingAndGlyphs">Ni 60%</text>
<text x="1155.8" y="990.5" font-family='"Liberation Sans", Arial, sans-serif' font-size="24.5" font-weight="bold" text-anchor="start" fill="#111" textLength="84" lengthAdjust="spacingAndGlyphs">Ni 80%</text>
<text x="1233.5" y="1089.5" font-family='"Liberation Sans", Arial, sans-serif' font-size="24.5" font-weight="bold" text-anchor="start" fill="#111" textLength="84" lengthAdjust="spacingAndGlyphs">Ni 90%</text>
<text x="1312.4" y="1148.6" font-family='"Liberation Sans", Arial, sans-serif' font-size="24.5" font-weight="bold" text-anchor="start" fill="#111" textLength="84.6" lengthAdjust="spacingAndGlyphs">Ni 95%</text>
<text x="1346.5" y="1238.7" font-family='"Liberation Sans", Arial, sans-serif' font-size="24.5" font-weight="bold" text-anchor="start" fill="#111" textLength="99" lengthAdjust="spacingAndGlyphs">Ni 100%</text>
<text x="107.8" y="1411.3" font-family='"Liberation Serif", "Times New Roman", serif' font-size="37" font-weight="bold" text-anchor="start" fill="#000" textLength="27" lengthAdjust="spacingAndGlyphs">D</text>
<text x="78.7" y="1470" font-family='"Liberation Serif", "Times New Roman", serif' font-size="30" font-weight="normal" text-anchor="start" fill="#1a1a1a" textLength="44.3" lengthAdjust="spacingAndGlyphs">(a)</text>
<path d="M541.78,1670.8 L537.97,1672.88 L533.26,1687.12 L532.67,1687.57 L531.86,1688.21 L530.9,1688.96 L529.87,1689.73 L528.83,1690.42 L527.87,1690.94 L527.19,1691.25 L526.77,1691.41 L526.35,1691.5 L525.66,1691.58 L524.46,1691.72 L522.49,1691.98 L519.52,1692.38 L515.7,1692.87 L511.37,1693.42 L506.85,1694 L502.45,1694.57 L498.49,1695.1 L494.97,1695.53 L491.62,1695.87 L488.4,1696.2 L485.25,1696.61 L482.12,1697.2 L478.98,1698.06 L475.76,1699.18 L472.52,1700.5 L469.3,1702 L466.17,1703.65 L463.17,1705.41 L460.36,1707.26 L457.74,1709.25 L455.25,1711.43 L452.9,1713.72 L450.69,1716.06 L448.61,1718.39 L446.68,1720.62 L444.92,1722.77 L443.35,1724.88 L441.91,1726.97 L440.56,1729.06 L439.25,1731.16 L437.93,1733.3 L436.63,1735.45 L435.4,1737.6 L434.2,1739.77 L433.01,1741.97 L431.8,1744.2 L430.53,1746.49 L429.19,1748.92 L427.81,1751.49 L426.41,1754.11 L424.99,1756.65 L423.6,1759.01 L422.23,1761.07 L420.87,1762.97 L419.49,1764.81 L418.13,1766.48 L416.81,1767.82 L415.55,1768.73 L414.38,1769.06 L413.37,1768.8 L412.52,1768.06 L411.74,1766.88 L410.92,1765.29 L409.96,1763.34 L408.77,1761.07 L407.26,1758.3 L405.51,1754.96 L403.61,1751.25 L401.69,1747.4 L399.86,1743.6 L398.23,1740.07 L396.83,1736.76 L395.57,1733.51 L394.4,1730.32 L393.26,1727.19 L392.09,1724.13 L390.83,1721.14 L389.48,1718.21 L388.1,1715.34 L386.69,1712.53 L385.25,1709.8 L383.79,1707.17 L382.3,1704.65 L380.75,1702.2 L379.13,1699.81 L377.48,1697.51 L375.86,1695.35 L374.31,1693.38 L372.88,1691.63 L371.71,1690.21 L370.79,1689.11 L369.94,1688.18 L368.99,1687.31 L367.79,1686.36 L366.15,1685.21 L364.18,1683.76 L362.02,1682.1 L359.59,1680.37 L356.83,1678.69 L353.66,1677.19 L350,1676.01 L346.12,1675.17 L342.13,1674.59 L337.72,1674.2 L332.61,1673.91 L326.48,1673.67 L319.05,1673.4 L309.16,1673.13 L296.82,1672.9 L283.47,1672.72 L270.55,1672.57 L259.5,1672.46 L251.76,1672.36" fill="none" stroke="#1c1c1c" stroke-width="2.2" stroke-linejoin="round" stroke-linecap="round" opacity="1"/>
<path d="M541.78,1670.8 L537.97,1672.88 L533.26,1687.12 L532.67,1687.57 L531.86,1688.21 L530.9,1688.96 L529.87,1689.73 L528.83,1690.42 L527.87,1690.94 L527.19,1691.25 L526.77,1691.41 L526.35,1691.5 L525.66,1691.58 L524.46,1691.72 L522.49,1691.98 L519.52,1692.38 L515.7,1692.87 L511.37,1693.42 L506.85,1694 L502.45,1694.57 L498.49,1695.1 L494.96,1695.54 L491.6,1695.88 L488.37,1696.22 L485.21,1696.64 L482.1,1697.22 L478.98,1698.06 L475.81,1699.14 L472.64,1700.42 L469.5,1701.86 L466.45,1703.44 L463.53,1705.12 L460.81,1706.89 L458.26,1708.79 L455.86,1710.86 L453.6,1713.04 L451.47,1715.26 L449.46,1717.48 L447.57,1719.63 L445.84,1721.71 L444.28,1723.77 L442.84,1725.82 L441.48,1727.88 L440.15,1729.95 L438.83,1732.05 L437.53,1734.16 L436.29,1736.27 L435.1,1738.39 L433.91,1740.55 L432.69,1742.74 L431.42,1744.98 L430.09,1747.35 L428.71,1749.88 L427.3,1752.44 L425.89,1754.93 L424.49,1757.24 L423.13,1759.27 L421.76,1761.13 L420.39,1762.93 L419.03,1764.56 L417.71,1765.88 L416.45,1766.77 L415.27,1767.09 L414.27,1766.84 L413.42,1766.12 L412.64,1764.96 L411.82,1763.4 L410.86,1761.49 L409.67,1759.27 L408.16,1756.55 L406.4,1753.27 L404.51,1749.64 L402.59,1745.86 L400.76,1742.14 L399.13,1738.68 L397.72,1735.44 L396.47,1732.26 L395.3,1729.13 L394.16,1726.07 L392.99,1723.07 L391.72,1720.14 L390.38,1717.27 L389,1714.45 L387.59,1711.69 L386.15,1709.02 L384.69,1706.44 L383.2,1703.97 L381.65,1701.58 L380.03,1699.23 L378.38,1696.98 L376.75,1694.86 L375.2,1692.93 L373.78,1691.22 L372.61,1689.82 L371.69,1688.74 L370.85,1687.83 L369.9,1686.98 L368.7,1686.05 L367.05,1684.92 L365.06,1683.5 L362.89,1681.88 L360.44,1680.19 L357.66,1678.54 L354.44,1677.08 L350.72,1675.92 L346.74,1675.11 L342.62,1674.55 L338.07,1674.17 L332.81,1673.89 L326.57,1673.66 L319.05,1673.4 L309.12,1673.13 L296.77,1672.91 L283.43,1672.73 L270.52,1672.58 L259.49,1672.46 L251.76,1672.36" fill="none" stroke="#d03a3a" stroke-width="2.2" stroke-linejoin="round" stroke-linecap="round" opacity="1"/>
<path d="M541.78,1670.8 L537.97,1672.88 L533.26,1687.12 L532.67,1687.57 L531.86,1688.21 L530.9,1688.96 L529.87,1689.73 L528.83,1690.42 L527.87,1690.94 L527.19,1691.25 L526.77,1691.41 L526.35,1691.5 L525.66,1691.58 L524.46,1691.72 L522.49,1691.98 L519.52,1692.38 L515.7,1692.87 L511.37,1693.42 L506.85,1694 L502.45,1694.57 L498.49,1695.1 L494.96,1695.54 L491.59,1695.89 L488.35,1696.23 L485.2,1696.66 L482.09,1697.24 L478.98,1698.06 L475.84,1699.12 L472.7,1700.38 L469.6,1701.79 L466.59,1703.33 L463.72,1704.98 L461.03,1706.71 L458.53,1708.56 L456.17,1710.57 L453.95,1712.69 L451.86,1714.86 L449.89,1717.02 L448.02,1719.13 L446.3,1721.18 L444.74,1723.22 L443.3,1725.25 L441.93,1727.29 L440.61,1729.34 L439.27,1731.42 L437.97,1733.51 L436.74,1735.6 L435.55,1737.7 L434.36,1739.83 L433.14,1742 L431.87,1744.22 L430.54,1746.57 L429.16,1749.07 L427.75,1751.61 L426.34,1754.07 L424.94,1756.36 L423.57,1758.36 L422.21,1760.2 L420.84,1761.99 L419.48,1763.61 L418.16,1764.91 L416.9,1765.79 L415.72,1766.11 L414.72,1765.86 L413.87,1765.14 L413.09,1763.99 L412.27,1762.46 L411.31,1760.57 L410.12,1758.36 L408.61,1755.68 L406.85,1752.43 L404.96,1748.84 L403.04,1745.1 L401.21,1741.41 L399.57,1737.99 L398.17,1734.79 L396.92,1731.63 L395.75,1728.54 L394.61,1725.5 L393.43,1722.53 L392.17,1719.63 L390.83,1716.79 L389.45,1714 L388.04,1711.28 L386.6,1708.63 L385.13,1706.08 L383.65,1703.64 L382.1,1701.26 L380.47,1698.94 L378.83,1696.71 L377.2,1694.62 L375.65,1692.7 L374.23,1691.01 L373.06,1689.63 L372.14,1688.55 L371.3,1687.66 L370.36,1686.81 L369.15,1685.9 L367.5,1684.78 L365.5,1683.37 L363.32,1681.77 L360.87,1680.1 L358.07,1678.47 L354.83,1677.02 L351.08,1675.88 L347.05,1675.08 L342.87,1674.53 L338.24,1674.15 L332.92,1673.89 L326.61,1673.66 L319.05,1673.4 L309.1,1673.14 L296.74,1672.91 L283.4,1672.73 L270.51,1672.58 L259.49,1672.46 L251.76,1672.36" fill="none" stroke="#3a3ae6" stroke-width="2.2" stroke-linejoin="round" stroke-linecap="round" opacity="1"/>
<path d="M541.78,1670.8 L537.97,1672.88 L533.26,1687.12 L532.67,1687.57 L531.86,1688.21 L530.9,1688.96 L529.87,1689.73 L528.83,1690.42 L527.87,1690.94 L527.19,1691.25 L526.77,1691.41 L526.35,1691.5 L525.66,1691.58 L524.46,1691.72 L522.49,1691.98 L519.52,1692.38 L515.7,1692.87 L511.37,1693.42 L506.85,1694 L502.45,1694.57 L498.49,1695.1 L494.97,1695.54 L491.61,1695.9 L488.38,1696.25 L485.23,1696.67 L482.11,1697.25 L478.98,1698.06 L475.79,1699.11 L472.58,1700.34 L469.4,1701.72 L466.31,1703.23 L463.35,1704.84 L460.58,1706.53 L458,1708.33 L455.56,1710.29 L453.25,1712.35 L451.08,1714.46 L449.04,1716.57 L447.13,1718.63 L445.38,1720.65 L443.81,1722.66 L442.37,1724.68 L441.02,1726.7 L439.7,1728.74 L438.38,1730.8 L437.08,1732.86 L435.84,1734.93 L434.65,1737.01 L433.46,1739.12 L432.25,1741.27 L430.98,1743.46 L429.64,1745.79 L428.26,1748.26 L426.85,1750.77 L425.44,1753.21 L424.04,1755.48 L422.68,1757.46 L421.32,1759.28 L419.94,1761.05 L418.58,1762.65 L417.26,1763.94 L416,1764.81 L414.83,1765.13 L413.82,1764.88 L412.97,1764.17 L412.19,1763.03 L411.37,1761.51 L410.41,1759.64 L409.22,1757.46 L407.71,1754.8 L405.95,1751.59 L404.06,1748.03 L402.14,1744.33 L400.31,1740.69 L398.68,1737.3 L397.27,1734.13 L396.02,1731.01 L394.85,1727.94 L393.71,1724.94 L392.54,1722 L391.27,1719.13 L389.93,1716.32 L388.55,1713.56 L387.14,1710.86 L385.7,1708.24 L384.24,1705.72 L382.75,1703.3 L381.2,1700.95 L379.58,1698.65 L377.93,1696.44 L376.3,1694.37 L374.76,1692.48 L373.33,1690.8 L372.16,1689.43 L371.24,1688.37 L370.39,1687.48 L369.45,1686.65 L368.24,1685.74 L366.6,1684.63 L364.62,1683.25 L362.45,1681.66 L360.02,1680 L357.24,1678.4 L354.05,1676.97 L350.36,1675.84 L346.43,1675.05 L342.37,1674.51 L337.9,1674.14 L332.71,1673.88 L326.53,1673.66 L319.05,1673.4 L309.14,1673.14 L296.79,1672.91 L283.45,1672.73 L270.54,1672.58 L259.5,1672.46 L251.76,1672.36" fill="none" stroke="#3f8a2c" stroke-width="2.2" stroke-linejoin="round" stroke-linecap="round" opacity="1"/>
<path d="M251.76,1670.8 L262.17,1670.8 L277.1,1670.81 L294.52,1670.81 L312.4,1670.81 L328.73,1670.81 L341.48,1670.8 L350.59,1670.79 L357.68,1670.79 L363.21,1670.79 L367.65,1670.77 L371.46,1670.72 L375.12,1670.63 L378.36,1670.54 L380.73,1670.49 L382.48,1670.41 L383.85,1670.24 L385.05,1669.93 L386.34,1669.41 L387.63,1668.72 L388.71,1667.9 L389.63,1666.94 L390.45,1665.81 L391.21,1664.5 L391.95,1662.99 L392.64,1661.41 L393.24,1659.81 L393.77,1658.03 L394.27,1655.9 L394.78,1653.27 L395.31,1649.97 L395.88,1645.72 L396.45,1640.59 L397.02,1634.95 L397.59,1629.18 L398.14,1623.65 L398.68,1618.72 L399.17,1614.33 L399.61,1610.18 L400.04,1606.25 L400.49,1602.58 L400.99,1599.15 L401.59,1595.98 L402.26,1593.15 L402.98,1590.68 L403.75,1588.46 L404.59,1586.39 L405.51,1584.35 L406.53,1582.26 L407.67,1580.08 L408.93,1577.89 L410.27,1575.73 L411.65,1573.68 L413.04,1571.79 L414.38,1570.11 L415.73,1568.59 L417.14,1567.17 L418.54,1565.91 L419.89,1564.87 L421.14,1564.11 L422.23,1563.69 L423.12,1563.61 L423.85,1563.83 L424.47,1564.33 L425.04,1565.09 L425.62,1566.1 L426.27,1567.33 L426.93,1568.76 L427.55,1570.38 L428.19,1572.25 L428.87,1574.41 L429.63,1576.92 L430.53,1579.83 L431.56,1583.37 L432.71,1587.54 L433.95,1592.05 L435.25,1596.63 L436.58,1600.98 L437.93,1604.83 L439.25,1608.17 L440.56,1611.23 L441.91,1614.07 L443.35,1616.74 L444.92,1619.31 L446.68,1621.84 L448.61,1624.33 L450.69,1626.72 L452.9,1629.02 L455.25,1631.2 L457.74,1633.27 L460.36,1635.21 L463.02,1637.04 L465.69,1638.75 L468.5,1640.35 L471.57,1641.83 L475.02,1643.19 L478.98,1644.41 L483.59,1645.5 L488.8,1646.44 L494.38,1647.27 L500.13,1647.97 L505.84,1648.58 L511.28,1649.1 L516.82,1649.5 L522.71,1649.76 L528.55,1649.91 L533.94,1650.01 L538.48,1650.07 L541.78,1650.14 L541.78,1670.8" fill="none" stroke="#1c1c1c" stroke-width="2.2" stroke-linejoin="round" stroke-linecap="round" opacity="1"/>
<path d="M251.76,1670.8 L262.17,1670.8 L277.1,1670.81 L294.52,1670.81 L312.4,1670.81 L328.73,1670.81 L341.48,1670.8 L350.59,1670.79 L357.68,1670.79 L363.21,1670.79 L367.65,1670.77 L371.46,1670.72 L375.12,1670.63 L378.36,1670.55 L380.73,1670.49 L382.48,1670.41 L383.85,1670.25 L385.05,1669.94 L386.34,1669.43 L387.63,1668.74 L388.71,1667.93 L389.63,1666.98 L390.45,1665.86 L391.21,1664.56 L391.95,1663.07 L392.64,1661.5 L393.24,1659.92 L393.77,1658.16 L394.27,1656.05 L394.78,1653.44 L395.31,1650.18 L395.88,1645.97 L396.45,1640.89 L397.02,1635.31 L397.59,1629.6 L398.14,1624.12 L398.68,1619.24 L399.17,1614.9 L399.61,1610.78 L400.04,1606.9 L400.49,1603.26 L400.99,1599.86 L401.59,1596.73 L402.26,1593.93 L402.98,1591.48 L403.75,1589.28 L404.59,1587.23 L405.51,1585.22 L406.53,1583.15 L407.67,1580.99 L408.93,1578.81 L410.27,1576.68 L411.65,1574.65 L413.04,1572.78 L414.38,1571.12 L415.73,1569.62 L417.14,1568.21 L418.54,1566.96 L419.89,1565.93 L421.14,1565.18 L422.23,1564.76 L423.12,1564.68 L423.85,1564.9 L424.47,1565.39 L425.04,1566.15 L425.62,1567.14 L426.27,1568.37 L426.93,1569.78 L427.55,1571.39 L428.19,1573.23 L428.87,1575.38 L429.63,1577.86 L430.53,1580.74 L431.56,1584.24 L432.71,1588.37 L433.95,1592.84 L435.25,1597.37 L436.58,1601.68 L437.93,1605.49 L439.25,1608.8 L440.56,1611.83 L441.91,1614.64 L443.35,1617.29 L444.92,1619.84 L446.68,1622.33 L448.61,1624.78 L450.69,1627.12 L452.9,1629.35 L455.25,1631.48 L457.74,1633.49 L460.36,1635.39 L463.02,1637.18 L465.69,1638.86 L468.5,1640.42 L471.57,1641.88 L475.02,1643.21 L478.98,1644.41 L483.59,1645.49 L488.8,1646.43 L494.38,1647.26 L500.13,1647.97 L505.84,1648.58 L511.28,1649.1 L516.82,1649.5 L522.71,1649.76 L528.55,1649.91 L533.94,1650.01 L538.48,1650.07 L541.78,1650.14 L541.78,1670.8" fill="none" stroke="#d03a3a" stroke-width="2.2" stroke-linejoin="round" stroke-linecap="round" opacity="1"/>
<path d="M251.76,1670.8 L262.17,1670.8 L277.11,1670.81 L294.53,1670.81 L312.43,1670.81 L328.78,1670.81 L341.55,1670.8 L350.72,1670.79 L357.87,1670.79 L363.48,1670.79 L367.99,1670.77 L371.87,1670.72 L375.57,1670.63 L378.83,1670.55 L381.21,1670.5 L382.96,1670.42 L384.31,1670.26 L385.51,1669.95 L386.79,1669.45 L388.07,1668.78 L389.16,1667.99 L390.08,1667.05 L390.9,1665.96 L391.66,1664.69 L392.4,1663.22 L393.09,1661.69 L393.68,1660.14 L394.22,1658.41 L394.72,1656.35 L395.23,1653.8 L395.76,1650.59 L396.33,1646.47 L396.9,1641.49 L397.47,1636.03 L398.04,1630.43 L398.59,1625.06 L399.13,1620.28 L399.61,1616.03 L400.06,1611.99 L400.48,1608.19 L400.94,1604.62 L401.44,1601.3 L402.04,1598.22 L402.71,1595.48 L403.43,1593.08 L404.2,1590.93 L405.04,1588.92 L405.96,1586.95 L406.98,1584.92 L408.12,1582.8 L409.38,1580.67 L410.72,1578.58 L412.1,1576.59 L413.48,1574.76 L414.83,1573.13 L416.18,1571.66 L417.58,1570.28 L418.99,1569.06 L420.34,1568.05 L421.59,1567.31 L422.68,1566.9 L423.57,1566.83 L424.3,1567.04 L424.92,1567.52 L425.49,1568.26 L426.07,1569.24 L426.71,1570.44 L427.37,1571.82 L428,1573.39 L428.63,1575.21 L429.31,1577.31 L430.08,1579.74 L430.98,1582.56 L432.01,1585.99 L433.16,1590.03 L434.4,1594.41 L435.69,1598.85 L437.03,1603.08 L438.38,1606.81 L439.7,1610.06 L441.02,1613.04 L442.37,1615.8 L443.81,1618.4 L445.38,1620.89 L447.13,1623.31 L449.04,1625.66 L451.08,1627.9 L453.25,1630.02 L455.56,1632.03 L458,1633.94 L460.58,1635.75 L463.2,1637.45 L465.83,1639.06 L468.6,1640.56 L471.63,1641.96 L475.05,1643.24 L478.98,1644.41 L483.58,1645.47 L488.78,1646.41 L494.37,1647.23 L500.13,1647.96 L505.83,1648.58 L511.28,1649.1 L516.82,1649.5 L522.71,1649.76 L528.55,1649.91 L533.94,1650.01 L538.48,1650.07 L541.78,1650.14 L541.78,1670.8" fill="none" stroke="#3a3ae6" stroke-width="2.2" stroke-linejoin="round" stroke-linecap="round" opacity="1"/>
<path d="M251.76,1670.8 L262.17,1670.8 L277.1,1670.81 L294.52,1670.81 L312.42,1670.81 L328.76,1670.81 L341.52,1670.8 L350.65,1670.79 L357.77,1670.79 L363.34,1670.79 L367.82,1670.77 L371.67,1670.72 L375.35,1670.63 L378.59,1670.55 L380.97,1670.5 L382.72,1670.42 L384.08,1670.25 L385.28,1669.94 L386.56,1669.44 L387.85,1668.76 L388.93,1667.96 L389.86,1667.01 L390.68,1665.91 L391.43,1664.63 L392.17,1663.14 L392.86,1661.6 L393.46,1660.03 L393.99,1658.28 L394.5,1656.2 L395,1653.62 L395.54,1650.38 L396.1,1646.22 L396.67,1641.19 L397.25,1635.67 L397.81,1630.01 L398.37,1624.59 L398.9,1619.76 L399.39,1615.46 L399.83,1611.39 L400.26,1607.54 L400.71,1603.94 L401.22,1600.58 L401.82,1597.47 L402.49,1594.71 L403.2,1592.28 L403.98,1590.11 L404.82,1588.07 L405.74,1586.08 L406.75,1584.03 L407.89,1581.9 L409.15,1579.74 L410.49,1577.63 L411.88,1575.62 L413.26,1573.77 L414.6,1572.13 L415.95,1570.64 L417.36,1569.25 L418.77,1568.01 L420.12,1566.99 L421.36,1566.24 L422.45,1565.83 L423.34,1565.76 L424.07,1565.97 L424.7,1566.46 L425.27,1567.2 L425.85,1568.19 L426.49,1569.4 L427.15,1570.8 L427.78,1572.39 L428.41,1574.22 L429.09,1576.34 L429.86,1578.8 L430.75,1581.65 L431.79,1585.12 L432.94,1589.2 L434.17,1593.63 L435.47,1598.11 L436.81,1602.38 L438.15,1606.15 L439.48,1609.43 L440.79,1612.43 L442.14,1615.22 L443.58,1617.85 L445.15,1620.36 L446.9,1622.82 L448.83,1625.22 L450.88,1627.51 L453.08,1629.69 L455.4,1631.75 L457.87,1633.71 L460.47,1635.57 L463.11,1637.32 L465.76,1638.96 L468.55,1640.49 L471.6,1641.92 L475.04,1643.22 L478.98,1644.41 L483.58,1645.48 L488.79,1646.42 L494.38,1647.24 L500.13,1647.96 L505.84,1648.58 L511.28,1649.1 L516.82,1649.5 L522.71,1649.76 L528.55,1649.91 L533.94,1650.01 L538.48,1650.07 L541.78,1650.14 L541.78,1670.8" fill="none" stroke="#3f8a2c" stroke-width="2.2" stroke-linejoin="round" stroke-linecap="round" opacity="1"/>
<polygon points="162.6,1496.9 565.8,1496.9 565.8,1792.4 162.6,1792.4" fill="none" stroke="#2a2a2a" stroke-width="2.2" />
<line x1="171.01" y1="1792.4" x2="171.01" y2="1787.4" stroke="#2a2a2a" stroke-width="2" />
<line x1="171.01" y1="1496.9" x2="171.01" y2="1501.9" stroke="#2a2a2a" stroke-width="2" />
<line x1="188.96" y1="1792.4" x2="188.96" y2="1787.4" stroke="#2a2a2a" stroke-width="2" />
<line x1="188.96" y1="1496.9" x2="188.96" y2="1501.9" stroke="#2a2a2a" stroke-width="2" />
<line x1="206.9" y1="1792.4" x2="206.9" y2="1783.9" stroke="#2a2a2a" stroke-width="2" />
<line x1="206.9" y1="1496.9" x2="206.9" y2="1505.4" stroke="#2a2a2a" stroke-width="2" />
<line x1="224.84" y1="1792.4" x2="224.84" y2="1787.4" stroke="#2a2a2a" stroke-width="2" />
<line x1="224.84" y1="1496.9" x2="224.84" y2="1501.9" stroke="#2a2a2a" stroke-width="2" />
<line x1="242.79" y1="1792.4" x2="242.79" y2="1787.4" stroke="#2a2a2a" stroke-width="2" />
<line x1="242.79" y1="1496.9" x2="242.79" y2="1501.9" stroke="#2a2a2a" stroke-width="2" />
<line x1="260.73" y1="1792.4" x2="260.73" y2="1787.4" stroke="#2a2a2a" stroke-width="2" />
<line x1="260.73" y1="1496.9" x2="260.73" y2="1501.9" stroke="#2a2a2a" stroke-width="2" />
<line x1="278.68" y1="1792.4" x2="278.68" y2="1787.4" stroke="#2a2a2a" stroke-width="2" />
<line x1="278.68" y1="1496.9" x2="278.68" y2="1501.9" stroke="#2a2a2a" stroke-width="2" />
<line x1="296.62" y1="1792.4" x2="296.62" y2="1783.9" stroke="#2a2a2a" stroke-width="2" />
<line x1="296.62" y1="1496.9" x2="296.62" y2="1505.4" stroke="#2a2a2a" stroke-width="2" />
<line x1="314.56" y1="1792.4" x2="314.56" y2="1787.4" stroke="#2a2a2a" stroke-width="2" />
<line x1="314.56" y1="1496.9" x2="314.56" y2="1501.9" stroke="#2a2a2a" stroke-width="2" />
<line x1="332.51" y1="1792.4" x2="332.51" y2="1787.4" stroke="#2a2a2a" stroke-width="2" />
<line x1="332.51" y1="1496.9" x2="332.51" y2="1501.9" stroke="#2a2a2a" stroke-width="2" />
<line x1="350.45" y1="1792.4" x2="350.45" y2="1787.4" stroke="#2a2a2a" stroke-width="2" />
<line x1="350.45" y1="1496.9" x2="350.45" y2="1501.9" stroke="#2a2a2a" stroke-width="2" />
<line x1="368.4" y1="1792.4" x2="368.4" y2="1787.4" stroke="#2a2a2a" stroke-width="2" />
<line x1="368.4" y1="1496.9" x2="368.4" y2="1501.9" stroke="#2a2a2a" stroke-width="2" />
<line x1="386.34" y1="1792.4" x2="386.34" y2="1783.9" stroke="#2a2a2a" stroke-width="2" />
<line x1="386.34" y1="1496.9" x2="386.34" y2="1505.4" stroke="#2a2a2a" stroke-width="2" />
<line x1="404.28" y1="1792.4" x2="404.28" y2="1787.4" stroke="#2a2a2a" stroke-width="2" />
<line x1="404.28" y1="1496.9" x2="404.28" y2="1501.9" stroke="#2a2a2a" stroke-width="2" />
<line x1="422.23" y1="1792.4" x2="422.23" y2="1787.4" stroke="#2a2a2a" stroke-width="2" />
<line x1="422.23" y1="1496.9" x2="422.23" y2="1501.9" stroke="#2a2a2a" stroke-width="2" />
<line x1="440.17" y1="1792.4" x2="440.17" y2="1787.4" stroke="#2a2a2a" stroke-width="2" />
<line x1="440.17" y1="1496.9" x2="440.17" y2="1501.9" stroke="#2a2a2a" stroke-width="2" />
<line x1="458.12" y1="1792.4" x2="458.12" y2="1787.4" stroke="#2a2a2a" stroke-width="2" />
<line x1="458.12" y1="1496.9" x2="458.12" y2="1501.9" stroke="#2a2a2a" stroke-width="2" />
<line x1="476.06" y1="1792.4" x2="476.06" y2="1783.9" stroke="#2a2a2a" stroke-width="2" />
<line x1="476.06" y1="1496.9" x2="476.06" y2="1505.4" stroke="#2a2a2a" stroke-width="2" />
<line x1="494" y1="1792.4" x2="494" y2="1787.4" stroke="#2a2a2a" stroke-width="2" />
<line x1="494" y1="1496.9" x2="494" y2="1501.9" stroke="#2a2a2a" stroke-width="2" />
<line x1="511.95" y1="1792.4" x2="511.95" y2="1787.4" stroke="#2a2a2a" stroke-width="2" />
<line x1="511.95" y1="1496.9" x2="511.95" y2="1501.9" stroke="#2a2a2a" stroke-width="2" />
<line x1="529.89" y1="1792.4" x2="529.89" y2="1787.4" stroke="#2a2a2a" stroke-width="2" />
<line x1="529.89" y1="1496.9" x2="529.89" y2="1501.9" stroke="#2a2a2a" stroke-width="2" />
<line x1="547.84" y1="1792.4" x2="547.84" y2="1787.4" stroke="#2a2a2a" stroke-width="2" />
<line x1="547.84" y1="1496.9" x2="547.84" y2="1501.9" stroke="#2a2a2a" stroke-width="2" />
<line x1="162.6" y1="1757.6" x2="171.6" y2="1757.6" stroke="#2a2a2a" stroke-width="2" />
<line x1="565.8" y1="1757.6" x2="556.8" y2="1757.6" stroke="#2a2a2a" stroke-width="2" />
<line x1="162.6" y1="1714.2" x2="167.6" y2="1714.2" stroke="#2a2a2a" stroke-width="2" />
<line x1="565.8" y1="1714.2" x2="560.8" y2="1714.2" stroke="#2a2a2a" stroke-width="2" />
<line x1="162.6" y1="1670.8" x2="171.6" y2="1670.8" stroke="#2a2a2a" stroke-width="2" />
<line x1="565.8" y1="1670.8" x2="556.8" y2="1670.8" stroke="#2a2a2a" stroke-width="2" />
<line x1="162.6" y1="1627.4" x2="167.6" y2="1627.4" stroke="#2a2a2a" stroke-width="2" />
<line x1="565.8" y1="1627.4" x2="560.8" y2="1627.4" stroke="#2a2a2a" stroke-width="2" />
<line x1="162.6" y1="1584" x2="171.6" y2="1584" stroke="#2a2a2a" stroke-width="2" />
<line x1="565.8" y1="1584" x2="556.8" y2="1584" stroke="#2a2a2a" stroke-width="2" />
<line x1="162.6" y1="1540.6" x2="167.6" y2="1540.6" stroke="#2a2a2a" stroke-width="2" />
<line x1="565.8" y1="1540.6" x2="560.8" y2="1540.6" stroke="#2a2a2a" stroke-width="2" />
<text x="153.6" y="1503" font-family='"Liberation Sans", Arial, sans-serif' font-size="18" font-weight="bold" text-anchor="end" fill="#2a2a2a" textLength="38" lengthAdjust="spacingAndGlyphs">1000</text>
<text x="153.6" y="1589.8" font-family='"Liberation Sans", Arial, sans-serif' font-size="18" font-weight="bold" text-anchor="end" fill="#2a2a2a" textLength="28" lengthAdjust="spacingAndGlyphs">500</text>
<text x="153.6" y="1676.6" font-family='"Liberation Sans", Arial, sans-serif' font-size="18" font-weight="bold" text-anchor="end" fill="#2a2a2a" textLength="10" lengthAdjust="spacingAndGlyphs">0</text>
<text x="153.6" y="1763.4" font-family='"Liberation Sans", Arial, sans-serif' font-size="18" font-weight="bold" text-anchor="end" fill="#2a2a2a" textLength="33" lengthAdjust="spacingAndGlyphs">-500</text>
<text x="206.9" y="1815.6" font-family='"Liberation Sans", Arial, sans-serif' font-size="18.5" font-weight="bold" text-anchor="middle" fill="#2a2a2a" textLength="24" lengthAdjust="spacingAndGlyphs">2.8</text>
<text x="296.62" y="1815.6" font-family='"Liberation Sans", Arial, sans-serif' font-size="18.5" font-weight="bold" text-anchor="middle" fill="#2a2a2a" textLength="24" lengthAdjust="spacingAndGlyphs">3.2</text>
<text x="386.34" y="1815.6" font-family='"Liberation Sans", Arial, sans-serif' font-size="18.5" font-weight="bold" text-anchor="middle" fill="#2a2a2a" textLength="24" lengthAdjust="spacingAndGlyphs">3.6</text>
<text x="476.06" y="1815.6" font-family='"Liberation Sans", Arial, sans-serif' font-size="18.5" font-weight="bold" text-anchor="middle" fill="#2a2a2a" textLength="24" lengthAdjust="spacingAndGlyphs">4.0</text>
<text x="565.78" y="1815.6" font-family='"Liberation Sans", Arial, sans-serif' font-size="18.5" font-weight="bold" text-anchor="middle" fill="#2a2a2a" textLength="24" lengthAdjust="spacingAndGlyphs">4.4</text>
<text x="174.6" y="1531.6" font-family='"Liberation Sans", Arial, sans-serif' font-size="22" font-weight="bold" fill="#1a1a1a" textLength="216.4" lengthAdjust="spacingAndGlyphs" xml:space="preserve"><tspan dy="0">Li[ Ni</tspan><tspan font-size="13" dy="9">1/3</tspan><tspan dy="-9">Co</tspan><tspan font-size="13" dy="9">1/3</tspan><tspan dy="-9">Mn</tspan><tspan font-size="13" dy="9">1/3</tspan><tspan dy="-9">] O</tspan><tspan font-size="13" dy="9">2</tspan></text>
<text x="468.3" y="1528.2" font-family='"Liberation Sans", Arial, sans-serif' font-size="16.5" font-weight="bold" text-anchor="start" fill="#2a2a2a" textLength="82.3" lengthAdjust="spacingAndGlyphs" xml:space="preserve">3.0 - 4.3 V</text>
<line x1="185.8" y1="1573.9" x2="225.3" y2="1573.9" stroke="#1c1c1c" stroke-width="2.4" />
<text x="230.3" y="1579.9" font-family='"Liberation Sans", Arial, sans-serif' font-size="15" font-weight="bold" fill="#222">1<tspan font-size="8.5" dy="-7">st</tspan></text>
<line x1="185.8" y1="1598.6" x2="225.3" y2="1598.6" stroke="#d03a3a" stroke-width="2.4" />
<text x="230.3" y="1604.6" font-family='"Liberation Sans", Arial, sans-serif' font-size="15" font-weight="bold" fill="#222">20<tspan font-size="8.5" dy="-7">th</tspan></text>
<line x1="185.8" y1="1623.4" x2="225.3" y2="1623.4" stroke="#3a3ae6" stroke-width="2.4" />
<text x="230.3" y="1629.4" font-family='"Liberation Sans", Arial, sans-serif' font-size="15" font-weight="bold" fill="#222">50<tspan font-size="8.5" dy="-7">th</tspan></text>
<line x1="185.8" y1="1647.8" x2="225.3" y2="1647.8" stroke="#3f8a2c" stroke-width="2.4" />
<text x="230.3" y="1653.8" font-family='"Liberation Sans", Arial, sans-serif' font-size="15" font-weight="bold" fill="#222">100<tspan font-size="8.5" dy="-7">th</tspan></text>
<line x1="539.3" y1="1699.2" x2="526.54" y2="1680.94" stroke="#111" stroke-width="2.6" /><polygon points="516.8,1667 522.44,1683.8 530.64,1678.07" fill="#111" stroke="none" stroke-width="1" />
<text x="307" y="1843.4" font-family='"Liberation Sans", Arial, sans-serif' font-size="22.5" font-weight="bold" text-anchor="start" fill="#1a1a1a" textLength="116" lengthAdjust="spacingAndGlyphs">Voltage / V</text>
<text transform="translate(106.9,1789.5) rotate(-90)" font-family='"Liberation Sans", Arial, sans-serif' font-size="23.5" font-weight="bold" fill="#1a1a1a" textLength="301.8" lengthAdjust="spacingAndGlyphs">Differential capacity / dQ dV<tspan font-size="13" dy="-10">-1</tspan></text>
<text x="594" y="1477" font-family='"Liberation Serif", "Times New Roman", serif' font-size="30" font-weight="normal" text-anchor="start" fill="#1a1a1a" textLength="46.6" lengthAdjust="spacingAndGlyphs">(b)</text>
<path d="M1047.87,1676.6 L1044.1,1678.65 L1040.11,1697.63 L1037.48,1697.97 L1033.91,1698.42 L1029.65,1698.97 L1024.95,1699.58 L1020.07,1700.22 L1015.28,1700.88 L1010.43,1701.53 L1005.32,1702.2 L1000.03,1702.9 L994.65,1703.67 L989.28,1704.53 L984.01,1705.5 L978.58,1706.6 L972.86,1707.82 L967.16,1709.13 L961.74,1710.51 L956.92,1711.93 L952.96,1713.37 L950.03,1714.85 L947.91,1716.39 L946.38,1717.98 L945.2,1719.59 L944.15,1721.19 L942.98,1722.77 L941.85,1724.07 L940.95,1725.05 L940.17,1726.03 L939.4,1727.31 L938.53,1729.2 L937.44,1732 L936.09,1736 L934.56,1740.99 L932.92,1746.59 L931.26,1752.41 L929.63,1758.05 L928.13,1763.13 L926.73,1768.06 L925.37,1773.24 L924.05,1778.25 L922.78,1782.65 L921.55,1786.02 L920.37,1787.92 L919.26,1788.18 L918.24,1787.09 L917.26,1784.97 L916.28,1782.12 L915.26,1778.84 L914.16,1775.44 L912.97,1771.69 L911.74,1767.29 L910.47,1762.47 L909.16,1757.44 L907.8,1752.4 L906.4,1747.56 L904.97,1742.83 L903.52,1738 L902.03,1733.17 L900.47,1728.42 L898.83,1723.84 L897.08,1719.52 L895.2,1715.39 L893.18,1711.36 L891.08,1707.5 L888.94,1703.88 L886.78,1700.57 L884.66,1697.63 L882.57,1695.12 L880.45,1692.99 L878.33,1691.17 L876.21,1689.58 L874.11,1688.17 L872.02,1686.86 L870.45,1685.73 L869.49,1684.84 L868.53,1684.12 L867,1683.5 L864.29,1682.9 L859.83,1682.24 L853.07,1681.51 L844.39,1680.77 L834.54,1680.04 L824.27,1679.37 L814.34,1678.78 L805.5,1678.31 L797.28,1677.98 L788.99,1677.77 L781.04,1677.64 L773.84,1677.56 L767.81,1677.51 L763.37,1677.45" fill="none" stroke="#1c1c1c" stroke-width="2.2" stroke-linejoin="round" stroke-linecap="round" opacity="1"/>
<path d="M1047.87,1676.6 L1044.1,1678.65 L1040.11,1697.63 L1037.48,1697.97 L1033.91,1698.42 L1029.65,1698.97 L1024.95,1699.58 L1020.07,1700.22 L1015.28,1700.88 L1010.43,1701.56 L1005.3,1702.27 L1000,1703.02 L994.62,1703.8 L989.26,1704.63 L984.01,1705.5 L978.63,1706.39 L973,1707.3 L967.38,1708.24 L962.06,1709.25 L957.31,1710.34 L953.41,1711.53 L950.5,1712.85 L948.39,1714.3 L946.85,1715.82 L945.66,1717.39 L944.6,1718.95 L943.43,1720.46 L942.29,1721.69 L941.39,1722.63 L940.62,1723.56 L939.85,1724.78 L938.98,1726.57 L937.88,1729.23 L936.53,1733.03 L935,1737.77 L933.37,1743.09 L931.7,1748.62 L930.08,1753.98 L928.57,1758.8 L927.17,1763.48 L925.81,1768.41 L924.5,1773.17 L923.22,1777.35 L922,1780.55 L920.81,1782.35 L919.7,1782.6 L918.68,1781.57 L917.71,1779.55 L916.73,1776.84 L915.71,1773.73 L914.6,1770.5 L913.42,1766.93 L912.19,1762.76 L910.91,1758.18 L909.6,1753.4 L908.24,1748.61 L906.84,1744.02 L905.41,1739.52 L903.97,1734.93 L902.47,1730.34 L900.92,1725.83 L899.28,1721.48 L897.53,1717.37 L895.64,1713.45 L893.63,1709.62 L891.53,1705.95 L889.38,1702.51 L887.23,1699.37 L885.11,1696.58 L883.01,1694.2 L880.9,1692.17 L878.78,1690.44 L876.66,1688.93 L874.55,1687.59 L872.47,1686.35 L870.9,1685.27 L869.93,1684.43 L868.98,1683.76 L867.45,1683.17 L864.73,1682.6 L860.24,1681.98 L853.43,1681.3 L844.67,1680.6 L834.74,1679.93 L824.39,1679.3 L814.39,1678.75 L805.5,1678.31 L797.26,1677.99 L788.96,1677.78 L781.01,1677.65 L773.82,1677.57 L767.81,1677.52 L763.37,1677.45" fill="none" stroke="#d03a3a" stroke-width="2.2" stroke-linejoin="round" stroke-linecap="round" opacity="1"/>
<path d="M1047.87,1676.6 L1044.1,1678.65 L1040.11,1697.63 L1037.48,1697.97 L1033.91,1698.42 L1029.65,1698.97 L1024.95,1699.58 L1020.07,1700.22 L1015.28,1700.88 L1010.43,1701.58 L1005.3,1702.34 L999.99,1703.13 L994.6,1703.94 L989.24,1704.74 L984.01,1705.5 L978.66,1706.17 L973.06,1706.77 L967.49,1707.35 L962.21,1707.99 L957.5,1708.75 L953.63,1709.69 L950.73,1710.85 L948.63,1712.2 L947.09,1713.66 L945.89,1715.18 L944.82,1716.7 L943.65,1718.15 L942.51,1719.32 L941.61,1720.2 L940.84,1721.09 L940.07,1722.24 L939.2,1723.94 L938.11,1726.46 L936.75,1730.06 L935.22,1734.55 L933.59,1739.59 L931.92,1744.83 L930.3,1749.91 L928.79,1754.47 L927.39,1758.91 L926.03,1763.58 L924.72,1768.08 L923.45,1772.05 L922.22,1775.08 L921.03,1776.79 L919.93,1777.02 L918.9,1776.04 L917.93,1774.13 L916.95,1771.57 L915.93,1768.62 L914.82,1765.55 L913.64,1762.18 L912.41,1758.22 L911.14,1753.89 L909.82,1749.35 L908.46,1744.82 L907.06,1740.47 L905.64,1736.21 L904.19,1731.86 L902.7,1727.51 L901.14,1723.24 L899.5,1719.12 L897.75,1715.23 L895.86,1711.51 L893.85,1707.88 L891.75,1704.41 L889.6,1701.15 L887.45,1698.17 L885.33,1695.53 L883.23,1693.27 L881.12,1691.35 L879,1689.71 L876.88,1688.28 L874.78,1687.01 L872.69,1685.83 L871.12,1684.82 L870.16,1684.03 L869.21,1683.39 L867.67,1682.84 L864.95,1682.31 L860.44,1681.73 L853.6,1681.09 L844.81,1680.44 L834.84,1679.81 L824.45,1679.23 L814.41,1678.72 L805.5,1678.31 L797.25,1678.01 L788.95,1677.8 L781,1677.67 L773.82,1677.58 L767.8,1677.52 L763.37,1677.45" fill="none" stroke="#3a3ae6" stroke-width="2.2" stroke-linejoin="round" stroke-linecap="round" opacity="1"/>
<path d="M1047.87,1676.6 L1044.1,1678.65 L1040.11,1697.63 L1037.48,1697.97 L1033.91,1698.42 L1029.65,1698.97 L1024.95,1699.58 L1020.07,1700.22 L1015.28,1700.88 L1010.42,1701.6 L1005.29,1702.42 L999.97,1703.27 L994.59,1704.1 L989.23,1704.87 L984.01,1705.5 L978.68,1705.91 L973.13,1706.14 L967.6,1706.29 L962.37,1706.48 L957.7,1706.84 L953.85,1707.48 L950.97,1708.46 L948.87,1709.68 L947.32,1711.07 L946.12,1712.54 L945.04,1714.01 L943.87,1715.38 L942.74,1716.47 L941.84,1717.3 L941.06,1718.12 L940.29,1719.2 L939.42,1720.78 L938.33,1723.14 L936.98,1726.49 L935.45,1730.69 L933.81,1735.39 L932.14,1740.28 L930.52,1745.02 L929.01,1749.28 L927.61,1753.42 L926.26,1757.78 L924.94,1761.99 L923.67,1765.68 L922.44,1768.51 L921.25,1770.11 L920.15,1770.32 L919.13,1769.41 L918.15,1767.63 L917.17,1765.24 L916.15,1762.48 L915.04,1759.62 L913.86,1756.47 L912.63,1752.78 L911.36,1748.73 L910.04,1744.5 L908.68,1740.27 L907.28,1736.21 L905.86,1732.23 L904.41,1728.18 L902.92,1724.12 L901.36,1720.13 L899.72,1716.28 L897.97,1712.65 L896.08,1709.18 L894.07,1705.8 L891.97,1702.55 L889.82,1699.51 L887.67,1696.73 L885.55,1694.27 L883.45,1692.16 L881.34,1690.37 L879.22,1688.83 L877.11,1687.5 L875,1686.31 L872.91,1685.22 L871.34,1684.27 L870.38,1683.54 L869.43,1682.95 L867.89,1682.44 L865.16,1681.95 L860.64,1681.42 L853.78,1680.83 L844.96,1680.25 L834.94,1679.68 L824.5,1679.15 L814.43,1678.69 L805.5,1678.31 L797.24,1678.03 L788.93,1677.83 L780.99,1677.69 L773.81,1677.59 L767.8,1677.52 L763.37,1677.45" fill="none" stroke="#3f8a2c" stroke-width="2.2" stroke-linejoin="round" stroke-linecap="round" opacity="1"/>
<path d="M761.15,1676.6 L774.19,1676.6 L793.02,1676.61 L814.92,1676.62 L837.2,1676.63 L857.14,1676.62 L872.02,1676.6 L881.59,1676.63 L887.96,1676.74 L891.98,1676.84 L894.53,1676.84 L896.46,1676.68 L898.63,1676.26 L900.69,1675.61 L901.85,1674.81 L902.4,1673.84 L902.61,1672.69 L902.74,1671.33 L903.07,1669.76 L903.51,1668.39 L903.83,1667.32 L904.07,1666.04 L904.29,1664.07 L904.53,1660.92 L904.84,1656.08 L905.24,1648.69 L905.69,1638.97 L906.16,1628.07 L906.63,1617.12 L907.09,1607.26 L907.5,1599.65 L907.85,1594.44 L908.12,1590.75 L908.38,1588.15 L908.66,1586.23 L909.02,1584.56 L909.5,1582.72 L910.09,1580.85 L910.74,1579.31 L911.47,1578.02 L912.28,1576.9 L913.17,1575.87 L914.16,1574.86 L915.29,1574.02 L916.57,1573.48 L917.94,1573.03 L919.33,1572.47 L920.68,1571.6 L921.92,1570.24 L923.06,1567.99 L924.16,1564.94 L925.22,1561.58 L926.23,1558.42 L927.2,1555.95 L928.13,1554.68 L928.96,1554.55 L929.68,1555.16 L930.36,1556.46 L931.06,1558.41 L931.85,1560.97 L932.78,1564.08 L933.91,1568.08 L935.17,1573.08 L936.53,1578.67 L937.91,1584.48 L939.27,1590.12 L940.55,1595.2 L941.76,1599.83 L942.95,1604.34 L944.12,1608.67 L945.26,1612.79 L946.36,1616.63 L947.42,1620.17 L948.31,1623.32 L949,1626.12 L949.65,1628.65 L950.43,1631 L951.48,1633.27 L952.96,1635.56 L954.61,1637.9 L956.24,1640.23 L958.15,1642.47 L960.63,1644.57 L963.97,1646.45 L968.49,1648.04 L974.64,1649.31 L982.29,1650.3 L990.81,1651.08 L999.57,1651.69 L1007.94,1652.2 L1015.28,1652.66 L1021.91,1653.03 L1028.4,1653.26 L1034.5,1653.38 L1039.95,1653.43 L1044.49,1653.47 L1047.87,1653.51 L1047.87,1676.6" fill="none" stroke="#1c1c1c" stroke-width="2.2" stroke-linejoin="round" stroke-linecap="round" opacity="1"/>
<path d="M761.15,1676.6 L774.19,1676.6 L793.02,1676.61 L814.92,1676.62 L837.2,1676.62 L857.14,1676.62 L872.02,1676.6 L881.59,1676.63 L887.96,1676.74 L891.98,1676.83 L894.53,1676.84 L896.46,1676.67 L898.63,1676.26 L900.69,1675.63 L901.85,1674.85 L902.4,1673.9 L902.61,1672.76 L902.74,1671.44 L903.07,1669.9 L903.51,1668.55 L903.83,1667.5 L904.07,1666.25 L904.29,1664.32 L904.53,1661.23 L904.84,1656.49 L905.24,1649.25 L905.69,1639.73 L906.16,1629.04 L906.63,1618.31 L907.09,1608.65 L907.5,1601.19 L907.85,1596.08 L908.12,1592.46 L908.38,1589.92 L908.66,1588.04 L909.02,1586.4 L909.5,1584.6 L910.09,1582.76 L910.74,1581.25 L911.47,1579.99 L912.28,1578.89 L913.17,1577.89 L914.16,1576.89 L915.29,1576.08 L916.57,1575.54 L917.94,1575.1 L919.33,1574.55 L920.68,1573.7 L921.92,1572.37 L923.06,1570.16 L924.16,1567.17 L925.22,1563.88 L926.23,1560.78 L927.2,1558.37 L928.13,1557.12 L928.96,1556.99 L929.68,1557.59 L930.36,1558.86 L931.06,1560.78 L931.85,1563.28 L932.78,1566.33 L933.91,1570.25 L935.17,1575.15 L936.53,1580.63 L937.91,1586.32 L939.27,1591.85 L940.55,1596.83 L941.76,1601.37 L942.95,1605.78 L944.12,1610.03 L945.26,1614.06 L946.36,1617.83 L947.42,1621.3 L948.31,1624.39 L949,1627.14 L949.65,1629.63 L950.43,1631.94 L951.48,1634.16 L952.96,1636.38 L954.61,1638.64 L956.24,1640.86 L958.15,1643 L960.63,1644.99 L963.97,1646.77 L968.49,1648.28 L974.64,1649.49 L982.29,1650.43 L990.81,1651.16 L999.57,1651.74 L1007.94,1652.22 L1015.28,1652.66 L1021.91,1653.02 L1028.4,1653.24 L1034.5,1653.36 L1039.95,1653.42 L1044.49,1653.46 L1047.87,1653.51 L1047.87,1676.6" fill="none" stroke="#d03a3a" stroke-width="2.2" stroke-linejoin="round" stroke-linecap="round" opacity="1"/>
<path d="M761.15,1676.6 L774.21,1676.6 L793.08,1676.61 L815.04,1676.62 L837.36,1676.62 L857.33,1676.62 L872.25,1676.6 L881.83,1676.63 L888.2,1676.73 L892.22,1676.82 L894.76,1676.83 L896.68,1676.67 L898.86,1676.28 L900.91,1675.67 L902.08,1674.92 L902.63,1674.01 L902.83,1672.92 L902.96,1671.65 L903.29,1670.17 L903.73,1668.88 L904.05,1667.87 L904.29,1666.67 L904.51,1664.82 L904.75,1661.86 L905.07,1657.31 L905.47,1650.37 L905.91,1641.23 L906.38,1630.98 L906.86,1620.69 L907.31,1611.42 L907.73,1604.27 L908.07,1599.37 L908.34,1595.9 L908.6,1593.46 L908.88,1591.65 L909.24,1590.08 L909.72,1588.35 L910.31,1586.59 L910.96,1585.14 L911.69,1583.93 L912.5,1582.88 L913.39,1581.92 L914.38,1580.96 L915.51,1580.18 L916.79,1579.67 L918.16,1579.24 L919.55,1578.72 L920.9,1577.9 L922.14,1576.62 L923.28,1574.51 L924.38,1571.64 L925.44,1568.48 L926.45,1565.51 L927.42,1563.19 L928.35,1561.99 L929.18,1561.87 L929.9,1562.44 L930.58,1563.67 L931.28,1565.5 L932.07,1567.91 L933.01,1570.83 L934.13,1574.59 L935.4,1579.29 L936.75,1584.55 L938.13,1590.01 L939.49,1595.31 L940.77,1600.09 L941.98,1604.44 L943.17,1608.67 L944.34,1612.75 L945.48,1616.61 L946.58,1620.23 L947.64,1623.56 L948.53,1626.53 L949.22,1629.18 L949.88,1631.58 L950.66,1633.81 L951.71,1635.93 L953.19,1638.02 L954.82,1640.11 L956.43,1642.13 L958.31,1644.05 L960.76,1645.82 L964.09,1647.41 L968.58,1648.76 L974.71,1649.84 L982.35,1650.68 L990.85,1651.33 L999.59,1651.84 L1007.95,1652.26 L1015.28,1652.66 L1021.9,1652.99 L1028.39,1653.2 L1034.49,1653.33 L1039.94,1653.41 L1044.49,1653.46 L1047.87,1653.51 L1047.87,1676.6" fill="none" stroke="#3a3ae6" stroke-width="2.2" stroke-linejoin="round" stroke-linecap="round" opacity="1"/>
<path d="M761.15,1676.6 L774.24,1676.6 L793.15,1676.61 L815.15,1676.62 L837.51,1676.62 L857.53,1676.62 L872.47,1676.6 L882.06,1676.63 L888.43,1676.73 L892.45,1676.81 L894.99,1676.82 L896.91,1676.67 L899.08,1676.29 L901.13,1675.71 L902.3,1674.99 L902.85,1674.12 L903.05,1673.08 L903.18,1671.86 L903.51,1670.44 L903.95,1669.21 L904.27,1668.24 L904.51,1667.1 L904.73,1665.33 L904.97,1662.49 L905.29,1658.13 L905.69,1651.48 L906.13,1642.74 L906.6,1632.92 L907.08,1623.07 L907.53,1614.2 L907.95,1607.34 L908.29,1602.65 L908.56,1599.33 L908.82,1597 L909.11,1595.27 L909.47,1593.76 L909.94,1592.11 L910.53,1590.42 L911.18,1589.04 L911.91,1587.88 L912.72,1586.87 L913.61,1585.95 L914.6,1585.03 L915.73,1584.28 L917.02,1583.79 L918.38,1583.38 L919.78,1582.88 L921.12,1582.1 L922.36,1580.87 L923.5,1578.85 L924.6,1576.1 L925.66,1573.08 L926.67,1570.24 L927.64,1568.02 L928.57,1566.87 L929.4,1566.75 L930.12,1567.3 L930.8,1568.48 L931.5,1570.23 L932.29,1572.53 L933.23,1575.33 L934.35,1578.94 L935.62,1583.43 L936.97,1588.46 L938.35,1593.69 L939.71,1598.77 L940.99,1603.34 L942.2,1607.51 L943.4,1611.56 L944.56,1615.46 L945.7,1619.17 L946.81,1622.63 L947.86,1625.81 L948.75,1628.67 L949.45,1631.23 L950.11,1633.54 L950.89,1635.68 L951.94,1637.7 L953.41,1639.66 L955.03,1641.58 L956.61,1643.4 L958.47,1645.1 L960.9,1646.66 L964.2,1648.04 L968.67,1649.23 L974.79,1650.19 L982.4,1650.93 L990.89,1651.49 L999.62,1651.94 L1007.96,1652.31 L1015.28,1652.66 L1021.9,1652.96 L1028.39,1653.17 L1034.49,1653.3 L1039.94,1653.39 L1044.49,1653.45 L1047.87,1653.51 L1047.87,1676.6" fill="none" stroke="#3f8a2c" stroke-width="2.2" stroke-linejoin="round" stroke-linecap="round" opacity="1"/>
<polygon points="673.9,1505 1071.8,1505 1071.8,1796.6 673.9,1796.6" fill="none" stroke="#2a2a2a" stroke-width="2.2" />
<line x1="681.32" y1="1796.6" x2="681.32" y2="1791.6" stroke="#2a2a2a" stroke-width="2" />
<line x1="681.32" y1="1505" x2="681.32" y2="1510" stroke="#2a2a2a" stroke-width="2" />
<line x1="699.06" y1="1796.6" x2="699.06" y2="1791.6" stroke="#2a2a2a" stroke-width="2" />
<line x1="699.06" y1="1505" x2="699.06" y2="1510" stroke="#2a2a2a" stroke-width="2" />
<line x1="716.8" y1="1796.6" x2="716.8" y2="1788.1" stroke="#2a2a2a" stroke-width="2" />
<line x1="716.8" y1="1505" x2="716.8" y2="1513.5" stroke="#2a2a2a" stroke-width="2" />
<line x1="734.54" y1="1796.6" x2="734.54" y2="1791.6" stroke="#2a2a2a" stroke-width="2" />
<line x1="734.54" y1="1505" x2="734.54" y2="1510" stroke="#2a2a2a" stroke-width="2" />
<line x1="752.28" y1="1796.6" x2="752.28" y2="1791.6" stroke="#2a2a2a" stroke-width="2" />
<line x1="752.28" y1="1505" x2="752.28" y2="1510" stroke="#2a2a2a" stroke-width="2" />
<line x1="770.02" y1="1796.6" x2="770.02" y2="1791.6" stroke="#2a2a2a" stroke-width="2" />
<line x1="770.02" y1="1505" x2="770.02" y2="1510" stroke="#2a2a2a" stroke-width="2" />
<line x1="787.76" y1="1796.6" x2="787.76" y2="1791.6" stroke="#2a2a2a" stroke-width="2" />
<line x1="787.76" y1="1505" x2="787.76" y2="1510" stroke="#2a2a2a" stroke-width="2" />
<line x1="805.5" y1="1796.6" x2="805.5" y2="1788.1" stroke="#2a2a2a" stroke-width="2" />
<line x1="805.5" y1="1505" x2="805.5" y2="1513.5" stroke="#2a2a2a" stroke-width="2" />
<line x1="823.24" y1="1796.6" x2="823.24" y2="1791.6" stroke="#2a2a2a" stroke-width="2" />
<line x1="823.24" y1="1505" x2="823.24" y2="1510" stroke="#2a2a2a" stroke-width="2" />
<line x1="840.98" y1="1796.6" x2="840.98" y2="1791.6" stroke="#2a2a2a" stroke-width="2" />
<line x1="840.98" y1="1505" x2="840.98" y2="1510" stroke="#2a2a2a" stroke-width="2" />
<line x1="858.72" y1="1796.6" x2="858.72" y2="1791.6" stroke="#2a2a2a" stroke-width="2" />
<line x1="858.72" y1="1505" x2="858.72" y2="1510" stroke="#2a2a2a" stroke-width="2" />
<line x1="876.46" y1="1796.6" x2="876.46" y2="1791.6" stroke="#2a2a2a" stroke-width="2" />
<line x1="876.46" y1="1505" x2="876.46" y2="1510" stroke="#2a2a2a" stroke-width="2" />
<line x1="894.2" y1="1796.6" x2="894.2" y2="1788.1" stroke="#2a2a2a" stroke-width="2" />
<line x1="894.2" y1="1505" x2="894.2" y2="1513.5" stroke="#2a2a2a" stroke-width="2" />
<line x1="911.94" y1="1796.6" x2="911.94" y2="1791.6" stroke="#2a2a2a" stroke-width="2" />
<line x1="911.94" y1="1505" x2="911.94" y2="1510" stroke="#2a2a2a" stroke-width="2" />
<line x1="929.68" y1="1796.6" x2="929.68" y2="1791.6" stroke="#2a2a2a" stroke-width="2" />
<line x1="929.68" y1="1505" x2="929.68" y2="1510" stroke="#2a2a2a" stroke-width="2" />
<line x1="947.42" y1="1796.6" x2="947.42" y2="1791.6" stroke="#2a2a2a" stroke-width="2" />
<line x1="947.42" y1="1505" x2="947.42" y2="1510" stroke="#2a2a2a" stroke-width="2" />
<line x1="965.16" y1="1796.6" x2="965.16" y2="1791.6" stroke="#2a2a2a" stroke-width="2" />
<line x1="965.16" y1="1505" x2="965.16" y2="1510" stroke="#2a2a2a" stroke-width="2" />
<line x1="982.9" y1="1796.6" x2="982.9" y2="1788.1" stroke="#2a2a2a" stroke-width="2" />
<line x1="982.9" y1="1505" x2="982.9" y2="1513.5" stroke="#2a2a2a" stroke-width="2" />
<line x1="1000.64" y1="1796.6" x2="1000.64" y2="1791.6" stroke="#2a2a2a" stroke-width="2" />
<line x1="1000.64" y1="1505" x2="1000.64" y2="1510" stroke="#2a2a2a" stroke-width="2" />
<line x1="1018.38" y1="1796.6" x2="1018.38" y2="1791.6" stroke="#2a2a2a" stroke-width="2" />
<line x1="1018.38" y1="1505" x2="1018.38" y2="1510" stroke="#2a2a2a" stroke-width="2" />
<line x1="1036.12" y1="1796.6" x2="1036.12" y2="1791.6" stroke="#2a2a2a" stroke-width="2" />
<line x1="1036.12" y1="1505" x2="1036.12" y2="1510" stroke="#2a2a2a" stroke-width="2" />
<line x1="1053.86" y1="1796.6" x2="1053.86" y2="1791.6" stroke="#2a2a2a" stroke-width="2" />
<line x1="1053.86" y1="1505" x2="1053.86" y2="1510" stroke="#2a2a2a" stroke-width="2" />
<line x1="673.9" y1="1762.1" x2="682.9" y2="1762.1" stroke="#2a2a2a" stroke-width="2" />
<line x1="1071.8" y1="1762.1" x2="1062.8" y2="1762.1" stroke="#2a2a2a" stroke-width="2" />
<line x1="673.9" y1="1719.35" x2="678.9" y2="1719.35" stroke="#2a2a2a" stroke-width="2" />
<line x1="1071.8" y1="1719.35" x2="1066.8" y2="1719.35" stroke="#2a2a2a" stroke-width="2" />
<line x1="673.9" y1="1676.6" x2="682.9" y2="1676.6" stroke="#2a2a2a" stroke-width="2" />
<line x1="1071.8" y1="1676.6" x2="1062.8" y2="1676.6" stroke="#2a2a2a" stroke-width="2" />
<line x1="673.9" y1="1633.85" x2="678.9" y2="1633.85" stroke="#2a2a2a" stroke-width="2" />
<line x1="1071.8" y1="1633.85" x2="1066.8" y2="1633.85" stroke="#2a2a2a" stroke-width="2" />
<line x1="673.9" y1="1591.1" x2="682.9" y2="1591.1" stroke="#2a2a2a" stroke-width="2" />
<line x1="1071.8" y1="1591.1" x2="1062.8" y2="1591.1" stroke="#2a2a2a" stroke-width="2" />
<line x1="673.9" y1="1548.35" x2="678.9" y2="1548.35" stroke="#2a2a2a" stroke-width="2" />
<line x1="1071.8" y1="1548.35" x2="1066.8" y2="1548.35" stroke="#2a2a2a" stroke-width="2" />
<text x="664.9" y="1511.4" font-family='"Liberation Sans", Arial, sans-serif' font-size="18" font-weight="bold" text-anchor="end" fill="#2a2a2a" textLength="38" lengthAdjust="spacingAndGlyphs">1000</text>
<text x="664.9" y="1596.9" font-family='"Liberation Sans", Arial, sans-serif' font-size="18" font-weight="bold" text-anchor="end" fill="#2a2a2a" textLength="28" lengthAdjust="spacingAndGlyphs">500</text>
<text x="664.9" y="1682.4" font-family='"Liberation Sans", Arial, sans-serif' font-size="18" font-weight="bold" text-anchor="end" fill="#2a2a2a" textLength="10" lengthAdjust="spacingAndGlyphs">0</text>
<text x="664.9" y="1767.9" font-family='"Liberation Sans", Arial, sans-serif' font-size="18" font-weight="bold" text-anchor="end" fill="#2a2a2a" textLength="33" lengthAdjust="spacingAndGlyphs">-500</text>
<text x="716.8" y="1819.6" font-family='"Liberation Sans", Arial, sans-serif' font-size="18.5" font-weight="bold" text-anchor="middle" fill="#2a2a2a" textLength="24" lengthAdjust="spacingAndGlyphs">2.8</text>
<text x="805.5" y="1819.6" font-family='"Liberation Sans", Arial, sans-serif' font-size="18.5" font-weight="bold" text-anchor="middle" fill="#2a2a2a" textLength="24" lengthAdjust="spacingAndGlyphs">3.2</text>
<text x="894.2" y="1819.6" font-family='"Liberation Sans", Arial, sans-serif' font-size="18.5" font-weight="bold" text-anchor="middle" fill="#2a2a2a" textLength="24" lengthAdjust="spacingAndGlyphs">3.6</text>
<text x="982.9" y="1819.6" font-family='"Liberation Sans", Arial, sans-serif' font-size="18.5" font-weight="bold" text-anchor="middle" fill="#2a2a2a" textLength="24" lengthAdjust="spacingAndGlyphs">4.0</text>
<text x="1071.6" y="1819.6" font-family='"Liberation Sans", Arial, sans-serif' font-size="18.5" font-weight="bold" text-anchor="middle" fill="#2a2a2a" textLength="24" lengthAdjust="spacingAndGlyphs">4.4</text>
<text x="682.6" y="1537.6" font-family='"Liberation Sans", Arial, sans-serif' font-size="22" font-weight="bold" fill="#1a1a1a" textLength="212.9" lengthAdjust="spacingAndGlyphs" xml:space="preserve"><tspan dy="0">Li[ Ni</tspan><tspan font-size="13" dy="9">0.5</tspan><tspan dy="-9">Co</tspan><tspan font-size="13" dy="9">0.2</tspan><tspan dy="-9">Mn</tspan><tspan font-size="13" dy="9">0.3</tspan><tspan dy="-9">] O</tspan><tspan font-size="13" dy="9">2</tspan></text>
<text x="974.8" y="1536.7" font-family='"Liberation Sans", Arial, sans-serif' font-size="16.5" font-weight="bold" text-anchor="start" fill="#2a2a2a" textLength="80.8" lengthAdjust="spacingAndGlyphs" xml:space="preserve">3.0 - 4.3 V</text>
<line x1="697.5" y1="1581.2" x2="733.9" y2="1581.2" stroke="#1c1c1c" stroke-width="2.4" />
<text x="740" y="1587.2" font-family='"Liberation Sans", Arial, sans-serif' font-size="15" font-weight="bold" fill="#222">1<tspan font-size="8.5" dy="-7">st</tspan></text>
<line x1="697.5" y1="1605.4" x2="733.9" y2="1605.4" stroke="#d03a3a" stroke-width="2.4" />
<text x="740" y="1611.4" font-family='"Liberation Sans", Arial, sans-serif' font-size="15" font-weight="bold" fill="#222">20<tspan font-size="8.5" dy="-7">th</tspan></text>
<line x1="697.5" y1="1629.4" x2="733.9" y2="1629.4" stroke="#3a3ae6" stroke-width="2.4" />
<text x="740" y="1635.4" font-family='"Liberation Sans", Arial, sans-serif' font-size="15" font-weight="bold" fill="#222">50<tspan font-size="8.5" dy="-7">th</tspan></text>
<line x1="697.5" y1="1654.2" x2="733.9" y2="1654.2" stroke="#3f8a2c" stroke-width="2.4" />
<text x="740" y="1660.2" font-family='"Liberation Sans", Arial, sans-serif' font-size="15" font-weight="bold" fill="#222">100<tspan font-size="8.5" dy="-7">th</tspan></text>
<line x1="1045.5" y1="1705" x2="1032.84" y2="1688.49" stroke="#111" stroke-width="2.6" /><polygon points="1022.5,1675 1028.88,1691.53 1036.81,1685.45" fill="#111" stroke="none" stroke-width="1" />
<text x="814.7" y="1847" font-family='"Liberation Sans", Arial, sans-serif' font-size="22.5" font-weight="bold" text-anchor="start" fill="#1a1a1a" textLength="115" lengthAdjust="spacingAndGlyphs">Voltage / V</text>
<text transform="translate(615.7,1786.3) rotate(-90)" font-family='"Liberation Sans", Arial, sans-serif' font-size="23.5" font-weight="bold" fill="#1a1a1a" textLength="303" lengthAdjust="spacingAndGlyphs">Differential capacity / dQ dV<tspan font-size="13" dy="-10">-1</tspan></text>
<text x="1102.4" y="1477" font-family='"Liberation Serif", "Times New Roman", serif' font-size="30" font-weight="normal" text-anchor="start" fill="#1a1a1a" textLength="44.4" lengthAdjust="spacingAndGlyphs">(c)</text>
<path d="M1558.71,1685.9 L1556.03,1687.64 L1554.24,1706.95 L1552.8,1707.3 L1550.92,1707.77 L1548.64,1708.32 L1546.01,1708.95 L1543.1,1709.6 L1539.94,1710.26 L1536.49,1710.94 L1532.68,1711.67 L1528.59,1712.43 L1524.26,1713.22 L1519.76,1714.01 L1515.14,1714.78 L1510.33,1715.54 L1505.26,1716.28 L1500.01,1717.02 L1494.67,1717.79 L1489.34,1718.61 L1484.09,1719.48 L1478.62,1720.41 L1472.78,1721.36 L1466.94,1722.35 L1461.47,1723.41 L1456.71,1724.53 L1453.04,1725.75 L1450.67,1727.03 L1449.37,1728.36 L1448.79,1729.77 L1448.59,1731.27 L1448.4,1732.88 L1447.9,1734.62 L1447.2,1736.32 L1446.6,1737.94 L1446.03,1739.67 L1445.4,1741.7 L1444.64,1744.25 L1443.66,1747.5 L1442.4,1751.95 L1440.92,1757.54 L1439.3,1763.65 L1437.63,1769.62 L1436,1774.83 L1434.5,1778.64 L1433.12,1781 L1431.79,1782.4 L1430.5,1783.04 L1429.23,1783.1 L1427.96,1782.79 L1426.68,1782.3 L1425.39,1781.49 L1424.13,1780.21 L1422.87,1778.54 L1421.58,1776.61 L1420.25,1774.52 L1418.86,1772.38 L1417.38,1770.21 L1415.85,1767.92 L1414.26,1765.48 L1412.66,1762.83 L1411.06,1759.93 L1409.48,1756.72 L1407.95,1753.07 L1406.46,1748.98 L1404.97,1744.65 L1403.44,1740.23 L1401.82,1735.9 L1400.09,1731.84 L1398.22,1727.94 L1396.22,1724.06 L1394.14,1720.28 L1392.03,1716.66 L1389.9,1713.29 L1387.81,1710.26 L1385.84,1707.59 L1384,1705.23 L1382.15,1703.13 L1380.17,1701.21 L1377.93,1699.43 L1375.3,1697.73 L1372.94,1696.11 L1371.1,1694.62 L1369,1693.26 L1365.86,1692.05 L1360.92,1690.98 L1353.4,1690.08 L1341.67,1689.36 L1326.03,1688.84 L1308.58,1688.47 L1291.44,1688.2 L1276.71,1688 L1266.5,1687.81" fill="none" stroke="#1c1c1c" stroke-width="2.2" stroke-linejoin="round" stroke-linecap="round" opacity="1"/>
<path d="M1558.71,1685.9 L1556.03,1687.64 L1554.24,1706.95 L1552.8,1707.3 L1550.92,1707.77 L1548.64,1708.32 L1546.01,1708.95 L1543.1,1709.6 L1539.94,1710.26 L1536.49,1710.94 L1532.68,1711.67 L1528.59,1712.43 L1524.26,1713.22 L1519.76,1714.01 L1515.14,1714.78 L1510.32,1715.55 L1505.23,1716.31 L1499.97,1717.07 L1494.62,1717.85 L1489.3,1718.65 L1484.09,1719.48 L1478.7,1720.31 L1472.98,1721.13 L1467.28,1721.97 L1461.94,1722.86 L1457.3,1723.84 L1453.71,1724.95 L1451.38,1726.17 L1450.09,1727.46 L1449.51,1728.85 L1449.28,1730.34 L1449.08,1731.93 L1448.57,1733.65 L1447.87,1735.31 L1447.27,1736.9 L1446.7,1738.59 L1446.07,1740.59 L1445.31,1743.08 L1444.33,1746.26 L1443.07,1750.63 L1441.59,1756.11 L1439.97,1762.09 L1438.3,1767.95 L1436.67,1773.05 L1435.17,1776.79 L1433.79,1779.1 L1432.46,1780.47 L1431.17,1781.09 L1429.9,1781.16 L1428.63,1780.85 L1427.35,1780.37 L1426.06,1779.58 L1424.8,1778.32 L1423.54,1776.69 L1422.25,1774.8 L1420.92,1772.75 L1419.53,1770.65 L1418.05,1768.52 L1416.52,1766.28 L1414.93,1763.89 L1413.33,1761.3 L1411.73,1758.45 L1410.15,1755.3 L1408.62,1751.72 L1407.13,1747.72 L1405.64,1743.47 L1404.11,1739.14 L1402.49,1734.9 L1400.76,1730.92 L1398.89,1727.1 L1396.89,1723.3 L1394.81,1719.59 L1392.7,1716.04 L1390.57,1712.75 L1388.48,1709.77 L1386.52,1707.16 L1384.69,1704.84 L1382.86,1702.78 L1380.89,1700.9 L1378.63,1699.16 L1375.97,1697.5 L1373.53,1695.92 L1371.57,1694.47 L1369.33,1693.16 L1366.06,1691.99 L1361,1690.96 L1353.4,1690.08 L1341.64,1689.37 L1325.98,1688.86 L1308.54,1688.48 L1291.41,1688.21 L1276.7,1688 L1266.5,1687.81" fill="none" stroke="#d03a3a" stroke-width="2.2" stroke-linejoin="round" stroke-linecap="round" opacity="1"/>
<path d="M1558.71,1685.9 L1556.03,1687.64 L1554.24,1706.95 L1552.8,1707.3 L1550.92,1707.77 L1548.64,1708.32 L1546.01,1708.95 L1543.1,1709.6 L1539.94,1710.26 L1536.49,1710.94 L1532.68,1711.67 L1528.59,1712.43 L1524.26,1713.22 L1519.76,1714.01 L1515.14,1714.78 L1510.32,1715.57 L1505.24,1716.37 L1499.98,1717.17 L1494.64,1717.97 L1489.31,1718.74 L1484.09,1719.48 L1478.67,1720.12 L1472.91,1720.67 L1467.17,1721.19 L1461.78,1721.76 L1457.11,1722.46 L1453.48,1723.36 L1451.14,1724.44 L1449.85,1725.67 L1449.27,1727.01 L1449.05,1728.47 L1448.86,1730.04 L1448.35,1731.7 L1447.64,1733.3 L1447.05,1734.82 L1446.48,1736.44 L1445.85,1738.35 L1445.08,1740.75 L1444.1,1743.8 L1442.84,1747.99 L1441.36,1753.24 L1439.75,1758.98 L1438.08,1764.6 L1436.45,1769.49 L1434.94,1773.08 L1433.56,1775.29 L1432.24,1776.61 L1430.95,1777.21 L1429.68,1777.27 L1428.41,1776.98 L1427.12,1776.51 L1425.84,1775.76 L1424.58,1774.55 L1423.31,1772.99 L1422.03,1771.17 L1420.7,1769.2 L1419.3,1767.19 L1417.83,1765.15 L1416.29,1763 L1414.71,1760.71 L1413.11,1758.22 L1411.5,1755.49 L1409.92,1752.47 L1408.39,1749.04 L1406.9,1745.2 L1405.41,1741.12 L1403.88,1736.97 L1402.27,1732.9 L1400.54,1729.08 L1398.66,1725.42 L1396.67,1721.77 L1394.59,1718.21 L1392.47,1714.81 L1390.35,1711.65 L1388.25,1708.8 L1386.29,1706.29 L1384.46,1704.06 L1382.63,1702.08 L1380.65,1700.27 L1378.4,1698.61 L1375.74,1697.02 L1373.33,1695.53 L1371.41,1694.18 L1369.22,1692.95 L1365.99,1691.87 L1360.98,1690.91 L1353.4,1690.08 L1341.65,1689.4 L1326,1688.89 L1308.55,1688.51 L1291.42,1688.23 L1276.7,1688.01 L1266.5,1687.81" fill="none" stroke="#3a3ae6" stroke-width="2.2" stroke-linejoin="round" stroke-linecap="round" opacity="1"/>
<path d="M1558.71,1685.9 L1556.03,1687.64 L1554.24,1706.95 L1552.8,1707.3 L1550.92,1707.77 L1548.64,1708.32 L1546.01,1708.95 L1543.1,1709.6 L1539.94,1710.26 L1536.49,1710.94 L1532.68,1711.67 L1528.59,1712.43 L1524.26,1713.22 L1519.76,1714.01 L1515.14,1714.78 L1510.34,1715.62 L1505.27,1716.54 L1500.04,1717.47 L1494.71,1718.32 L1489.36,1719.02 L1484.09,1719.48 L1478.56,1719.56 L1472.65,1719.29 L1466.72,1718.87 L1461.16,1718.48 L1456.32,1718.32 L1452.59,1718.57 L1450.2,1719.27 L1448.89,1720.27 L1448.32,1721.5 L1448.12,1722.88 L1447.95,1724.35 L1447.45,1725.85 L1446.75,1727.25 L1446.15,1728.57 L1445.58,1729.99 L1444.95,1731.66 L1444.19,1733.74 L1443.21,1736.41 L1441.95,1740.06 L1440.47,1744.65 L1438.85,1749.65 L1437.19,1754.55 L1435.56,1758.82 L1434.05,1761.95 L1432.67,1763.88 L1431.34,1765.03 L1430.06,1765.55 L1428.79,1765.61 L1427.52,1765.35 L1426.23,1764.94 L1424.95,1764.29 L1423.68,1763.23 L1422.42,1761.87 L1421.13,1760.28 L1419.8,1758.57 L1418.41,1756.81 L1416.94,1755.03 L1415.4,1753.16 L1413.82,1751.16 L1412.21,1748.99 L1410.61,1746.6 L1409.03,1743.97 L1407.5,1740.98 L1406.01,1737.63 L1404.52,1734.07 L1402.99,1730.45 L1401.38,1726.9 L1399.65,1723.57 L1397.77,1720.38 L1395.77,1717.19 L1393.7,1714.09 L1391.58,1711.12 L1389.45,1708.36 L1387.36,1705.88 L1385.39,1703.68 L1383.54,1701.73 L1381.68,1699.98 L1379.69,1698.4 L1377.45,1696.95 L1374.85,1695.6 L1372.55,1694.37 L1370.79,1693.29 L1368.77,1692.34 L1365.73,1691.5 L1360.87,1690.75 L1353.4,1690.08 L1341.7,1689.48 L1326.06,1689 L1308.61,1688.6 L1291.45,1688.28 L1276.71,1688.02 L1266.5,1687.81" fill="none" stroke="#3f8a2c" stroke-width="2.2" stroke-linejoin="round" stroke-linecap="round" opacity="1"/>
<path d="M1269.18,1686.77 L1279.46,1686.73 L1294.12,1686.69 L1311.26,1686.63 L1328.99,1686.56 L1345.38,1686.49 L1358.54,1686.42 L1368.66,1686.42 L1377.31,1686.5 L1384.64,1686.57 L1390.78,1686.56 L1395.88,1686.36 L1400.09,1685.9 L1402.98,1685.13 L1404.35,1684.11 L1404.69,1682.92 L1404.47,1681.61 L1404.19,1680.27 L1404.34,1678.94 L1404.79,1678.14 L1405.13,1677.9 L1405.41,1677.62 L1405.68,1676.69 L1405.97,1674.49 L1406.35,1670.41 L1406.82,1663.72 L1407.37,1654.76 L1407.94,1644.53 L1408.51,1634.04 L1409.03,1624.3 L1409.48,1616.3 L1409.81,1609.97 L1410.05,1604.49 L1410.26,1599.75 L1410.46,1595.65 L1410.71,1592.1 L1411.04,1588.98 L1411.45,1586.37 L1411.91,1584.35 L1412.41,1582.87 L1412.95,1581.88 L1413.54,1581.33 L1414.17,1581.15 L1414.86,1581.52 L1415.61,1582.49 L1416.41,1583.9 L1417.24,1585.57 L1418.06,1587.32 L1418.86,1588.98 L1419.6,1590.79 L1420.31,1592.93 L1421.01,1595.15 L1421.75,1597.2 L1422.59,1598.82 L1423.55,1599.77 L1424.69,1599.98 L1425.99,1599.63 L1427.38,1598.87 L1428.78,1597.8 L1430.13,1596.55 L1431.37,1595.25 L1432.49,1593.58 L1433.56,1591.38 L1434.58,1589 L1435.56,1586.8 L1436.49,1585.11 L1437.4,1584.28 L1438.25,1584.29 L1439.02,1584.84 L1439.76,1585.9 L1440.49,1587.46 L1441.26,1589.48 L1442.09,1591.94 L1443,1595.09 L1443.97,1599.01 L1444.97,1603.39 L1445.97,1607.94 L1446.96,1612.34 L1447.9,1616.3 L1448.67,1619.82 L1449.27,1623.14 L1449.85,1626.32 L1450.57,1629.41 L1451.58,1632.49 L1453.04,1635.61 L1454.68,1638.93 L1456.33,1642.42 L1458.27,1645.89 L1460.79,1649.15 L1464.16,1651.99 L1468.68,1654.23 L1474.67,1655.74 L1481.99,1656.64 L1490.16,1657.12 L1498.73,1657.4 L1507.21,1657.64 L1515.14,1658.06 L1523.08,1658.64 L1531.49,1659.22 L1539.83,1659.78 L1547.52,1660.28 L1554,1660.71 L1558.71,1661.02 L1558.71,1685.9" fill="none" stroke="#1c1c1c" stroke-width="2.2" stroke-linejoin="round" stroke-linecap="round" opacity="1"/>
<path d="M1269.18,1686.77 L1279.46,1686.73 L1294.13,1686.69 L1311.28,1686.63 L1329.02,1686.56 L1345.44,1686.49 L1358.65,1686.42 L1368.85,1686.42 L1377.6,1686.49 L1385.03,1686.56 L1391.28,1686.55 L1396.48,1686.35 L1400.76,1685.9 L1403.69,1685.15 L1405.07,1684.15 L1405.39,1682.98 L1405.16,1681.7 L1404.87,1680.38 L1405.01,1679.08 L1405.46,1678.29 L1405.8,1678.06 L1406.08,1677.79 L1406.35,1676.88 L1406.64,1674.72 L1407.02,1670.72 L1407.49,1664.17 L1408.04,1655.38 L1408.61,1645.36 L1409.18,1635.08 L1409.7,1625.53 L1410.15,1617.69 L1410.48,1611.49 L1410.72,1606.12 L1410.93,1601.47 L1411.13,1597.46 L1411.38,1593.97 L1411.71,1590.92 L1412.12,1588.36 L1412.58,1586.38 L1413.08,1584.93 L1413.62,1583.96 L1414.21,1583.42 L1414.84,1583.25 L1415.53,1583.6 L1416.28,1584.56 L1417.08,1585.94 L1417.91,1587.58 L1418.73,1589.3 L1419.53,1590.92 L1420.27,1592.69 L1420.98,1594.79 L1421.68,1596.96 L1422.42,1598.97 L1423.26,1600.57 L1424.22,1601.49 L1425.36,1601.7 L1426.66,1601.36 L1428.05,1600.61 L1429.45,1599.56 L1430.8,1598.34 L1432.04,1597.06 L1433.16,1595.42 L1434.23,1593.27 L1435.25,1590.94 L1436.23,1588.78 L1437.16,1587.12 L1438.07,1586.32 L1438.92,1586.32 L1439.69,1586.86 L1440.43,1587.9 L1441.16,1589.43 L1441.93,1591.41 L1442.76,1593.82 L1443.67,1596.91 L1444.64,1600.75 L1445.64,1605.04 L1446.64,1609.49 L1447.63,1613.81 L1448.57,1617.69 L1449.34,1621.14 L1449.94,1624.39 L1450.52,1627.51 L1451.24,1630.54 L1452.25,1633.56 L1453.71,1636.62 L1455.36,1639.87 L1457.03,1643.31 L1458.99,1646.73 L1461.51,1649.92 L1464.87,1652.7 L1469.35,1654.87 L1475.26,1656.27 L1482.46,1657.05 L1490.5,1657.42 L1498.93,1657.57 L1507.29,1657.72 L1515.14,1658.06 L1523.04,1658.6 L1531.44,1659.17 L1539.79,1659.74 L1547.5,1660.26 L1553.99,1660.7 L1558.71,1661.02 L1558.71,1685.9" fill="none" stroke="#d03a3a" stroke-width="2.2" stroke-linejoin="round" stroke-linecap="round" opacity="1"/>
<path d="M1269.18,1686.77 L1279.47,1686.73 L1294.14,1686.68 L1311.3,1686.63 L1329.06,1686.56 L1345.51,1686.49 L1358.76,1686.42 L1369.03,1686.41 L1377.88,1686.48 L1385.43,1686.54 L1391.79,1686.52 L1397.09,1686.33 L1401.43,1685.9 L1404.39,1685.18 L1405.78,1684.24 L1406.1,1683.13 L1405.85,1681.91 L1405.54,1680.66 L1405.68,1679.43 L1406.13,1678.68 L1406.47,1678.46 L1406.75,1678.2 L1407.02,1677.34 L1407.31,1675.29 L1407.69,1671.5 L1408.16,1665.28 L1408.71,1656.94 L1409.28,1647.43 L1409.85,1637.67 L1410.37,1628.61 L1410.82,1621.17 L1411.15,1615.29 L1411.39,1610.19 L1411.6,1605.78 L1411.8,1601.97 L1412.05,1598.66 L1412.38,1595.77 L1412.79,1593.34 L1413.25,1591.46 L1413.75,1590.08 L1414.29,1589.16 L1414.88,1588.65 L1415.51,1588.48 L1416.2,1588.82 L1416.95,1589.73 L1417.75,1591.04 L1418.58,1592.6 L1419.4,1594.22 L1420.2,1595.77 L1420.94,1597.44 L1421.65,1599.43 L1422.35,1601.5 L1423.09,1603.41 L1423.93,1604.92 L1424.89,1605.8 L1426.03,1605.99 L1427.33,1605.67 L1428.72,1604.96 L1430.12,1603.97 L1431.47,1602.8 L1432.71,1601.59 L1433.83,1600.04 L1434.9,1598 L1435.92,1595.79 L1436.9,1593.73 L1437.83,1592.16 L1438.74,1591.4 L1439.59,1591.4 L1440.36,1591.91 L1441.1,1592.9 L1441.84,1594.35 L1442.6,1596.23 L1443.43,1598.52 L1444.34,1601.45 L1445.31,1605.09 L1446.31,1609.17 L1447.31,1613.39 L1448.3,1617.49 L1449.24,1621.17 L1450.01,1624.44 L1450.61,1627.53 L1451.2,1630.49 L1451.91,1633.37 L1452.92,1636.23 L1454.38,1639.13 L1456.04,1642.24 L1457.72,1645.54 L1459.7,1648.81 L1462.23,1651.86 L1465.58,1654.48 L1470.02,1656.45 L1475.85,1657.61 L1482.93,1658.1 L1490.83,1658.15 L1499.12,1658 L1507.37,1657.9 L1515.14,1658.06 L1523,1658.51 L1531.39,1659.06 L1539.75,1659.64 L1547.47,1660.2 L1553.99,1660.68 L1558.71,1661.02 L1558.71,1685.9" fill="none" stroke="#3a3ae6" stroke-width="2.2" stroke-linejoin="round" stroke-linecap="round" opacity="1"/>
<path d="M1269.18,1686.77 L1279.44,1686.73 L1294.07,1686.69 L1311.18,1686.63 L1328.89,1686.56 L1345.3,1686.49 L1358.54,1686.42 L1368.82,1686.42 L1377.7,1686.5 L1385.29,1686.57 L1391.7,1686.56 L1397.05,1686.36 L1401.43,1685.9 L1404.43,1685.13 L1405.85,1684.11 L1406.21,1682.92 L1406,1681.61 L1405.73,1680.27 L1405.9,1678.94 L1406.39,1678.14 L1406.78,1677.9 L1407.1,1677.62 L1407.41,1676.69 L1407.74,1674.49 L1408.13,1670.41 L1408.62,1663.61 L1409.15,1654.39 L1409.71,1643.91 L1410.27,1633.31 L1410.8,1623.72 L1411.26,1616.3 L1411.66,1611.11 L1412.01,1607.25 L1412.32,1604.41 L1412.63,1602.28 L1412.94,1600.55 L1413.27,1598.9 L1413.61,1597.48 L1413.94,1596.57 L1414.28,1596.05 L1414.64,1595.82 L1415.04,1595.76 L1415.51,1595.77 L1416.04,1595.94 L1416.63,1596.37 L1417.27,1596.99 L1417.93,1597.68 L1418.61,1598.35 L1419.3,1598.9 L1419.97,1599.39 L1420.63,1599.91 L1421.3,1600.41 L1422.03,1600.85 L1422.84,1601.17 L1423.77,1601.34 L1424.87,1601.31 L1426.11,1601.14 L1427.43,1600.85 L1428.79,1600.49 L1430.12,1600.12 L1431.37,1599.77 L1432.56,1599.35 L1433.75,1598.8 L1434.91,1598.24 L1436.03,1597.76 L1437.09,1597.48 L1438.07,1597.51 L1438.93,1597.76 L1439.69,1598.14 L1440.39,1598.72 L1441.07,1599.56 L1441.77,1600.76 L1442.54,1602.38 L1443.38,1604.56 L1444.27,1607.25 L1445.18,1610.3 L1446.1,1613.52 L1447.01,1616.74 L1447.9,1619.78 L1448.65,1622.67 L1449.24,1625.55 L1449.83,1628.43 L1450.56,1631.32 L1451.58,1634.23 L1453.04,1637.18 L1454.68,1640.35 L1456.33,1643.77 L1458.27,1647.22 L1460.79,1650.46 L1464.16,1653.28 L1468.68,1655.45 L1474.67,1656.83 L1481.99,1657.58 L1490.16,1657.91 L1498.73,1658.01 L1507.21,1658.11 L1515.14,1658.41 L1523.08,1658.89 L1531.49,1659.4 L1539.83,1659.9 L1547.52,1660.35 L1554,1660.74 L1558.71,1661.02 L1558.71,1685.9" fill="none" stroke="#3f8a2c" stroke-width="2.2" stroke-linejoin="round" stroke-linecap="round" opacity="1"/>
<polygon points="1179.5,1511.2 1582,1511.2 1582,1808.1 1179.5,1808.1" fill="none" stroke="#2a2a2a" stroke-width="2.2" />
<line x1="1188.76" y1="1808.1" x2="1188.76" y2="1803.1" stroke="#2a2a2a" stroke-width="2" />
<line x1="1188.76" y1="1511.2" x2="1188.76" y2="1516.2" stroke="#2a2a2a" stroke-width="2" />
<line x1="1206.63" y1="1808.1" x2="1206.63" y2="1803.1" stroke="#2a2a2a" stroke-width="2" />
<line x1="1206.63" y1="1511.2" x2="1206.63" y2="1516.2" stroke="#2a2a2a" stroke-width="2" />
<line x1="1224.5" y1="1808.1" x2="1224.5" y2="1799.6" stroke="#2a2a2a" stroke-width="2" />
<line x1="1224.5" y1="1511.2" x2="1224.5" y2="1519.7" stroke="#2a2a2a" stroke-width="2" />
<line x1="1242.37" y1="1808.1" x2="1242.37" y2="1803.1" stroke="#2a2a2a" stroke-width="2" />
<line x1="1242.37" y1="1511.2" x2="1242.37" y2="1516.2" stroke="#2a2a2a" stroke-width="2" />
<line x1="1260.24" y1="1808.1" x2="1260.24" y2="1803.1" stroke="#2a2a2a" stroke-width="2" />
<line x1="1260.24" y1="1511.2" x2="1260.24" y2="1516.2" stroke="#2a2a2a" stroke-width="2" />
<line x1="1278.12" y1="1808.1" x2="1278.12" y2="1803.1" stroke="#2a2a2a" stroke-width="2" />
<line x1="1278.12" y1="1511.2" x2="1278.12" y2="1516.2" stroke="#2a2a2a" stroke-width="2" />
<line x1="1295.99" y1="1808.1" x2="1295.99" y2="1803.1" stroke="#2a2a2a" stroke-width="2" />
<line x1="1295.99" y1="1511.2" x2="1295.99" y2="1516.2" stroke="#2a2a2a" stroke-width="2" />
<line x1="1313.86" y1="1808.1" x2="1313.86" y2="1799.6" stroke="#2a2a2a" stroke-width="2" />
<line x1="1313.86" y1="1511.2" x2="1313.86" y2="1519.7" stroke="#2a2a2a" stroke-width="2" />
<line x1="1331.73" y1="1808.1" x2="1331.73" y2="1803.1" stroke="#2a2a2a" stroke-width="2" />
<line x1="1331.73" y1="1511.2" x2="1331.73" y2="1516.2" stroke="#2a2a2a" stroke-width="2" />
<line x1="1349.6" y1="1808.1" x2="1349.6" y2="1803.1" stroke="#2a2a2a" stroke-width="2" />
<line x1="1349.6" y1="1511.2" x2="1349.6" y2="1516.2" stroke="#2a2a2a" stroke-width="2" />
<line x1="1367.48" y1="1808.1" x2="1367.48" y2="1803.1" stroke="#2a2a2a" stroke-width="2" />
<line x1="1367.48" y1="1511.2" x2="1367.48" y2="1516.2" stroke="#2a2a2a" stroke-width="2" />
<line x1="1385.35" y1="1808.1" x2="1385.35" y2="1803.1" stroke="#2a2a2a" stroke-width="2" />
<line x1="1385.35" y1="1511.2" x2="1385.35" y2="1516.2" stroke="#2a2a2a" stroke-width="2" />
<line x1="1403.22" y1="1808.1" x2="1403.22" y2="1799.6" stroke="#2a2a2a" stroke-width="2" />
<line x1="1403.22" y1="1511.2" x2="1403.22" y2="1519.7" stroke="#2a2a2a" stroke-width="2" />
<line x1="1421.09" y1="1808.1" x2="1421.09" y2="1803.1" stroke="#2a2a2a" stroke-width="2" />
<line x1="1421.09" y1="1511.2" x2="1421.09" y2="1516.2" stroke="#2a2a2a" stroke-width="2" />
<line x1="1438.96" y1="1808.1" x2="1438.96" y2="1803.1" stroke="#2a2a2a" stroke-width="2" />
<line x1="1438.96" y1="1511.2" x2="1438.96" y2="1516.2" stroke="#2a2a2a" stroke-width="2" />
<line x1="1456.84" y1="1808.1" x2="1456.84" y2="1803.1" stroke="#2a2a2a" stroke-width="2" />
<line x1="1456.84" y1="1511.2" x2="1456.84" y2="1516.2" stroke="#2a2a2a" stroke-width="2" />
<line x1="1474.71" y1="1808.1" x2="1474.71" y2="1803.1" stroke="#2a2a2a" stroke-width="2" />
<line x1="1474.71" y1="1511.2" x2="1474.71" y2="1516.2" stroke="#2a2a2a" stroke-width="2" />
<line x1="1492.58" y1="1808.1" x2="1492.58" y2="1799.6" stroke="#2a2a2a" stroke-width="2" />
<line x1="1492.58" y1="1511.2" x2="1492.58" y2="1519.7" stroke="#2a2a2a" stroke-width="2" />
<line x1="1510.45" y1="1808.1" x2="1510.45" y2="1803.1" stroke="#2a2a2a" stroke-width="2" />
<line x1="1510.45" y1="1511.2" x2="1510.45" y2="1516.2" stroke="#2a2a2a" stroke-width="2" />
<line x1="1528.32" y1="1808.1" x2="1528.32" y2="1803.1" stroke="#2a2a2a" stroke-width="2" />
<line x1="1528.32" y1="1511.2" x2="1528.32" y2="1516.2" stroke="#2a2a2a" stroke-width="2" />
<line x1="1546.2" y1="1808.1" x2="1546.2" y2="1803.1" stroke="#2a2a2a" stroke-width="2" />
<line x1="1546.2" y1="1511.2" x2="1546.2" y2="1516.2" stroke="#2a2a2a" stroke-width="2" />
<line x1="1564.07" y1="1808.1" x2="1564.07" y2="1803.1" stroke="#2a2a2a" stroke-width="2" />
<line x1="1564.07" y1="1511.2" x2="1564.07" y2="1516.2" stroke="#2a2a2a" stroke-width="2" />
<line x1="1179.5" y1="1772.9" x2="1188.5" y2="1772.9" stroke="#2a2a2a" stroke-width="2" />
<line x1="1582" y1="1772.9" x2="1573" y2="1772.9" stroke="#2a2a2a" stroke-width="2" />
<line x1="1179.5" y1="1729.4" x2="1184.5" y2="1729.4" stroke="#2a2a2a" stroke-width="2" />
<line x1="1582" y1="1729.4" x2="1577" y2="1729.4" stroke="#2a2a2a" stroke-width="2" />
<line x1="1179.5" y1="1685.9" x2="1188.5" y2="1685.9" stroke="#2a2a2a" stroke-width="2" />
<line x1="1582" y1="1685.9" x2="1573" y2="1685.9" stroke="#2a2a2a" stroke-width="2" />
<line x1="1179.5" y1="1642.4" x2="1184.5" y2="1642.4" stroke="#2a2a2a" stroke-width="2" />
<line x1="1582" y1="1642.4" x2="1577" y2="1642.4" stroke="#2a2a2a" stroke-width="2" />
<line x1="1179.5" y1="1598.9" x2="1188.5" y2="1598.9" stroke="#2a2a2a" stroke-width="2" />
<line x1="1582" y1="1598.9" x2="1573" y2="1598.9" stroke="#2a2a2a" stroke-width="2" />
<line x1="1179.5" y1="1555.4" x2="1184.5" y2="1555.4" stroke="#2a2a2a" stroke-width="2" />
<line x1="1582" y1="1555.4" x2="1577" y2="1555.4" stroke="#2a2a2a" stroke-width="2" />
<text x="1170.5" y="1517.7" font-family='"Liberation Sans", Arial, sans-serif' font-size="18" font-weight="bold" text-anchor="end" fill="#2a2a2a" textLength="38" lengthAdjust="spacingAndGlyphs">1000</text>
<text x="1170.5" y="1604.7" font-family='"Liberation Sans", Arial, sans-serif' font-size="18" font-weight="bold" text-anchor="end" fill="#2a2a2a" textLength="28" lengthAdjust="spacingAndGlyphs">500</text>
<text x="1170.5" y="1691.7" font-family='"Liberation Sans", Arial, sans-serif' font-size="18" font-weight="bold" text-anchor="end" fill="#2a2a2a" textLength="10" lengthAdjust="spacingAndGlyphs">0</text>
<text x="1170.5" y="1778.7" font-family='"Liberation Sans", Arial, sans-serif' font-size="18" font-weight="bold" text-anchor="end" fill="#2a2a2a" textLength="33" lengthAdjust="spacingAndGlyphs">-500</text>
<text x="1224.5" y="1830.2" font-family='"Liberation Sans", Arial, sans-serif' font-size="18.5" font-weight="bold" text-anchor="middle" fill="#2a2a2a" textLength="24" lengthAdjust="spacingAndGlyphs">2.8</text>
<text x="1313.86" y="1830.2" font-family='"Liberation Sans", Arial, sans-serif' font-size="18.5" font-weight="bold" text-anchor="middle" fill="#2a2a2a" textLength="24" lengthAdjust="spacingAndGlyphs">3.2</text>
<text x="1403.22" y="1830.2" font-family='"Liberation Sans", Arial, sans-serif' font-size="18.5" font-weight="bold" text-anchor="middle" fill="#2a2a2a" textLength="24" lengthAdjust="spacingAndGlyphs">3.6</text>
<text x="1492.58" y="1830.2" font-family='"Liberation Sans", Arial, sans-serif' font-size="18.5" font-weight="bold" text-anchor="middle" fill="#2a2a2a" textLength="24" lengthAdjust="spacingAndGlyphs">4.0</text>
<text x="1581.94" y="1830.2" font-family='"Liberation Sans", Arial, sans-serif' font-size="18.5" font-weight="bold" text-anchor="middle" fill="#2a2a2a" textLength="24" lengthAdjust="spacingAndGlyphs">4.4</text>
<text x="1191.9" y="1550" font-family='"Liberation Sans", Arial, sans-serif' font-size="22" font-weight="bold" fill="#1a1a1a" textLength="217.6" lengthAdjust="spacingAndGlyphs" xml:space="preserve"><tspan dy="0">Li[ Ni</tspan><tspan font-size="13" dy="9">0.6</tspan><tspan dy="-9">Co</tspan><tspan font-size="13" dy="9">0.2</tspan><tspan dy="-9">Mn</tspan><tspan font-size="13" dy="9">0.2</tspan><tspan dy="-9">] O</tspan><tspan font-size="13" dy="9">2</tspan></text>
<text x="1484.1" y="1543" font-family='"Liberation Sans", Arial, sans-serif' font-size="16.5" font-weight="bold" text-anchor="start" fill="#2a2a2a" textLength="82.4" lengthAdjust="spacingAndGlyphs" xml:space="preserve">3.0 - 4.3 V</text>
<line x1="1203.7" y1="1588" x2="1241.6" y2="1588" stroke="#1c1c1c" stroke-width="2.4" />
<text x="1247" y="1594" font-family='"Liberation Sans", Arial, sans-serif' font-size="15" font-weight="bold" fill="#222">1<tspan font-size="8.5" dy="-7">st</tspan></text>
<line x1="1203.7" y1="1612.3" x2="1241.6" y2="1612.3" stroke="#d03a3a" stroke-width="2.4" />
<text x="1247" y="1618.3" font-family='"Liberation Sans", Arial, sans-serif' font-size="15" font-weight="bold" fill="#222">20<tspan font-size="8.5" dy="-7">th</tspan></text>
<line x1="1203.7" y1="1637.1" x2="1241.6" y2="1637.1" stroke="#3a3ae6" stroke-width="2.4" />
<text x="1247" y="1643.1" font-family='"Liberation Sans", Arial, sans-serif' font-size="15" font-weight="bold" fill="#222">50<tspan font-size="8.5" dy="-7">th</tspan></text>
<line x1="1203.7" y1="1662" x2="1241.6" y2="1662" stroke="#3f8a2c" stroke-width="2.4" />
<text x="1247" y="1668" font-family='"Liberation Sans", Arial, sans-serif' font-size="15" font-weight="bold" fill="#222">100<tspan font-size="8.5" dy="-7">th</tspan></text>
<line x1="1555.5" y1="1713" x2="1543.55" y2="1696.71" stroke="#111" stroke-width="2.6" /><polygon points="1533.5,1683 1539.52,1699.67 1547.59,1693.75" fill="#111" stroke="none" stroke-width="1" />
<text x="1323.1" y="1858.3" font-family='"Liberation Sans", Arial, sans-serif' font-size="22.5" font-weight="bold" text-anchor="start" fill="#1a1a1a" textLength="118" lengthAdjust="spacingAndGlyphs">Voltage / V</text>
<text transform="translate(1123.5,1801.9) rotate(-90)" font-family='"Liberation Sans", Arial, sans-serif' font-size="23.5" font-weight="bold" fill="#1a1a1a" textLength="304.7" lengthAdjust="spacingAndGlyphs">Differential capacity / dQ dV<tspan font-size="13" dy="-10">-1</tspan></text>
<line x1="1378" y1="1475.5" x2="1385" y2="1475.5" stroke="#777" stroke-width="2" />
<text x="88.4" y="1871" font-family='"Liberation Serif", "Times New Roman", serif' font-size="30" font-weight="normal" text-anchor="start" fill="#1a1a1a" textLength="46.5" lengthAdjust="spacingAndGlyphs">(d)</text>
<path d="M534.06,2068.2 L525.23,2068.89 L524.85,2071.57 L524.34,2075.43 L523.72,2079.93 L523.02,2084.52 L522.27,2088.67 L521.48,2091.85 L520.62,2094.02 L519.65,2095.61 L518.63,2096.77 L517.6,2097.61 L516.63,2098.29 L515.75,2098.92 L515.13,2099.47 L514.74,2099.82 L514.41,2099.99 L513.94,2100.02 L513.12,2099.94 L511.78,2099.79 L509.98,2099.41 L507.91,2098.78 L505.49,2098.03 L502.68,2097.32 L499.43,2096.82 L495.67,2096.68 L491.13,2096.95 L485.77,2097.54 L479.97,2098.32 L474.08,2099.2 L468.46,2100.07 L463.47,2100.82 L459.12,2101.37 L455.13,2101.77 L451.42,2102.17 L447.88,2102.69 L444.42,2103.46 L440.97,2104.62 L437.44,2106.17 L433.91,2108.01 L430.46,2110.11 L427.19,2112.42 L424.19,2114.92 L421.55,2117.56 L419.34,2120.49 L417.48,2123.76 L415.89,2127.22 L414.48,2130.69 L413.16,2134.03 L411.85,2137.07 L410.61,2140.07 L409.53,2143.23 L408.55,2146.25 L407.59,2148.84 L406.58,2150.71 L405.45,2151.57 L404.23,2151.15 L402.97,2149.62 L401.67,2147.38 L400.3,2144.8 L398.85,2142.27 L397.29,2140.17 L395.61,2138.43 L393.82,2136.7 L391.95,2135.03 L390.02,2133.42 L388.04,2131.91 L386.04,2130.51 L383.96,2129.33 L381.77,2128.38 L379.54,2127.52 L377.33,2126.62 L375.21,2125.53 L373.24,2124.12 L371.48,2122.46 L369.9,2120.65 L368.4,2118.66 L366.9,2116.45 L365.31,2113.97 L363.53,2111.18 L361.59,2107.86 L359.56,2104 L357.43,2099.87 L355.21,2095.75 L352.91,2091.89 L350.52,2088.57 L348.32,2085.76 L346.36,2083.25 L344.32,2081.02 L341.86,2079.02 L338.67,2077.23 L334.42,2075.62 L328.87,2074.24 L322.26,2073.12 L314.91,2072.2 L307.16,2071.45 L299.36,2070.83 L291.84,2070.27 L284.01,2069.84 L275.48,2069.57 L266.9,2069.42 L258.91,2069.34 L252.15,2069.3 L247.28,2069.24" fill="none" stroke="#1c1c1c" stroke-width="2.2" stroke-linejoin="round" stroke-linecap="round" opacity="1"/>
<path d="M534.06,2068.2 L525.23,2068.89 L524.85,2071.57 L524.34,2075.43 L523.72,2079.93 L523.02,2084.52 L522.27,2088.67 L521.48,2091.85 L520.62,2094.02 L519.65,2095.61 L518.63,2096.77 L517.6,2097.61 L516.63,2098.29 L515.75,2098.92 L515.13,2099.47 L514.74,2099.82 L514.41,2099.99 L513.94,2100.02 L513.12,2099.94 L511.78,2099.79 L509.98,2099.41 L507.91,2098.78 L505.49,2098.03 L502.68,2097.32 L499.43,2096.82 L495.67,2096.68 L491.13,2096.98 L485.8,2097.63 L480.01,2098.48 L474.13,2099.39 L468.5,2100.21 L463.47,2100.82 L459.04,2101.07 L454.94,2101.05 L451.09,2100.95 L447.41,2100.96 L443.84,2101.27 L440.3,2102.07 L436.74,2103.38 L433.2,2105.06 L429.76,2107.03 L426.5,2109.24 L423.52,2111.62 L420.89,2114.11 L418.67,2116.83 L416.81,2119.87 L415.22,2123.09 L413.82,2126.32 L412.5,2129.42 L411.18,2132.25 L409.95,2135.04 L408.87,2137.98 L407.89,2140.78 L406.93,2143.19 L405.92,2144.93 L404.79,2145.73 L403.56,2145.34 L402.31,2143.92 L401.01,2141.84 L399.64,2139.44 L398.18,2137.09 L396.62,2135.14 L394.95,2133.51 L393.16,2131.91 L391.29,2130.35 L389.35,2128.86 L387.37,2127.45 L385.37,2126.15 L383.3,2125.05 L381.11,2124.17 L378.88,2123.37 L376.67,2122.53 L374.55,2121.52 L372.58,2120.21 L370.82,2118.66 L369.24,2116.98 L367.74,2115.13 L366.24,2113.07 L364.65,2110.77 L362.87,2108.17 L360.92,2105.07 L358.87,2101.47 L356.73,2097.62 L354.5,2093.78 L352.21,2090.2 L349.86,2087.14 L347.73,2084.6 L345.88,2082.36 L343.97,2080.39 L341.64,2078.63 L338.56,2077.05 L334.38,2075.6 L328.88,2074.3 L322.28,2073.2 L314.93,2072.28 L307.17,2071.5 L299.36,2070.84 L291.84,2070.27 L284.01,2069.84 L275.49,2069.57 L266.9,2069.42 L258.91,2069.35 L252.15,2069.3 L247.28,2069.24" fill="none" stroke="#d03a3a" stroke-width="2.2" stroke-linejoin="round" stroke-linecap="round" opacity="1"/>
<path d="M534.06,2068.2 L525.23,2068.89 L524.85,2071.57 L524.34,2075.43 L523.72,2079.93 L523.02,2084.52 L522.27,2088.67 L521.48,2091.85 L520.62,2094.02 L519.65,2095.61 L518.63,2096.77 L517.6,2097.61 L516.63,2098.29 L515.75,2098.92 L515.13,2099.47 L514.74,2099.82 L514.41,2099.99 L513.94,2100.02 L513.12,2099.94 L511.78,2099.79 L509.98,2099.41 L507.91,2098.78 L505.49,2098.03 L502.68,2097.32 L499.43,2096.82 L495.67,2096.68 L491.14,2097.01 L485.82,2097.71 L480.05,2098.61 L474.18,2099.55 L468.54,2100.34 L463.47,2100.82 L458.96,2100.82 L454.74,2100.43 L450.75,2099.91 L446.95,2099.48 L443.26,2099.39 L439.64,2099.88 L436.04,2100.99 L432.48,2102.52 L429.05,2104.4 L425.82,2106.52 L422.85,2108.8 L420.23,2111.15 L418.01,2113.69 L416.15,2116.54 L414.56,2119.55 L413.15,2122.57 L411.84,2125.47 L410.52,2128.11 L409.29,2130.73 L408.21,2133.48 L407.23,2136.1 L406.27,2138.35 L405.26,2139.98 L404.13,2140.73 L402.9,2140.36 L401.65,2139.04 L400.35,2137.09 L398.98,2134.84 L397.52,2132.64 L395.96,2130.82 L394.28,2129.3 L392.5,2127.8 L390.63,2126.34 L388.69,2124.94 L386.71,2123.63 L384.71,2122.41 L382.63,2121.38 L380.45,2120.56 L378.22,2119.81 L376.01,2119.02 L373.89,2118.08 L371.92,2116.85 L370.16,2115.4 L368.58,2113.83 L367.08,2112.1 L365.58,2110.18 L363.98,2108.02 L362.21,2105.59 L360.25,2102.69 L358.19,2099.31 L356.02,2095.7 L353.79,2092.1 L351.51,2088.76 L349.2,2085.92 L347.15,2083.6 L345.41,2081.59 L343.62,2079.85 L341.42,2078.3 L338.45,2076.9 L334.35,2075.57 L328.89,2074.35 L322.3,2073.27 L314.95,2072.34 L307.19,2071.54 L299.36,2070.85 L291.84,2070.27 L284.02,2069.84 L275.49,2069.57 L266.9,2069.42 L258.91,2069.35 L252.15,2069.3 L247.28,2069.24" fill="none" stroke="#3a3ae6" stroke-width="2.2" stroke-linejoin="round" stroke-linecap="round" opacity="1"/>
<path d="M534.06,2068.2 L525.23,2068.89 L524.85,2071.57 L524.34,2075.43 L523.72,2079.93 L523.02,2084.52 L522.27,2088.67 L521.48,2091.85 L520.62,2094.02 L519.65,2095.61 L518.63,2096.77 L517.6,2097.61 L516.63,2098.29 L515.75,2098.92 L515.13,2099.47 L514.74,2099.82 L514.41,2099.99 L513.94,2100.02 L513.12,2099.94 L511.78,2099.79 L509.98,2099.41 L507.91,2098.78 L505.49,2098.03 L502.68,2097.32 L499.43,2096.82 L495.67,2096.68 L491.16,2097.03 L485.87,2097.78 L480.14,2098.73 L474.28,2099.68 L468.61,2100.45 L463.47,2100.82 L458.8,2100.61 L454.35,2099.92 L450.09,2099.04 L446.01,2098.25 L442.1,2097.83 L438.32,2098.06 L434.64,2099 L431.06,2100.41 L427.65,2102.2 L424.45,2104.25 L421.51,2106.44 L418.91,2108.68 L416.69,2111.08 L414.83,2113.76 L413.24,2116.6 L411.83,2119.45 L410.51,2122.18 L409.2,2124.67 L407.96,2127.14 L406.89,2129.72 L405.9,2132.2 L404.94,2134.32 L403.93,2135.85 L402.8,2136.56 L401.58,2136.22 L400.33,2134.97 L399.02,2133.13 L397.65,2131.01 L396.2,2128.94 L394.64,2127.22 L392.96,2125.78 L391.18,2124.37 L389.3,2123 L387.37,2121.68 L385.39,2120.44 L383.39,2119.29 L381.31,2118.33 L379.12,2117.55 L376.9,2116.84 L374.69,2116.1 L372.57,2115.21 L370.59,2114.06 L368.84,2112.69 L367.25,2111.21 L365.75,2109.58 L364.25,2107.77 L362.66,2105.73 L360.89,2103.44 L358.92,2100.7 L356.82,2097.51 L354.62,2094.09 L352.38,2090.69 L350.11,2087.55 L347.87,2084.9 L345.97,2082.76 L344.45,2080.95 L342.92,2079.4 L340.97,2078.03 L338.22,2076.77 L334.28,2075.56 L328.9,2074.39 L322.35,2073.34 L315,2072.39 L307.21,2071.57 L299.37,2070.86 L291.84,2070.27 L284.02,2069.84 L275.49,2069.57 L266.91,2069.42 L258.91,2069.35 L252.15,2069.3 L247.28,2069.24" fill="none" stroke="#3f8a2c" stroke-width="2.2" stroke-linejoin="round" stroke-linecap="round" opacity="1"/>
<path d="M247.72,2069.24 L255.26,2069.2 L265.97,2069.16 L278.52,2069.11 L291.58,2069.04 L303.81,2068.97 L313.9,2068.89 L321.99,2068.85 L329.17,2068.86 L335.53,2068.86 L341.16,2068.79 L346.12,2068.59 L350.52,2068.2 L354.09,2067.78 L356.73,2067.41 L358.71,2066.91 L360.32,2066.1 L361.83,2064.8 L363.53,2062.85 L365.34,2060.17 L367.02,2056.9 L368.6,2053.14 L370.13,2049.01 L371.66,2044.61 L373.24,2040.07 L374.9,2035.14 L376.6,2029.71 L378.3,2024.01 L379.96,2018.3 L381.52,2012.81 L382.95,2007.79 L384.22,2002.92 L385.38,1997.94 L386.45,1993.18 L387.45,1988.99 L388.41,1985.69 L389.35,1983.63 L390.23,1983.1 L391.02,1983.9 L391.77,1985.6 L392.52,1987.76 L393.32,1989.95 L394.2,1991.74 L395.15,1993.4 L396.15,1995.33 L397.19,1997.29 L398.28,1999.04 L399.41,2000.32 L400.6,2000.89 L401.86,2000.61 L403.19,1999.67 L404.58,1998.26 L405.99,1996.6 L407.39,1994.87 L408.76,1993.29 L410.11,1991.59 L411.48,1989.56 L412.84,1987.48 L414.17,1985.61 L415.47,1984.23 L416.7,1983.63 L417.83,1983.78 L418.88,1984.48 L419.88,1985.66 L420.89,1987.3 L421.95,1989.34 L423.1,1991.74 L424.26,1994.71 L425.39,1998.32 L426.57,2002.34 L427.88,2006.52 L429.42,2010.6 L431.26,2014.35 L433.3,2017.97 L435.44,2021.69 L437.81,2025.33 L440.51,2028.67 L443.66,2031.52 L447.36,2033.68 L451.87,2034.95 L457.14,2035.45 L462.86,2035.46 L468.71,2035.25 L474.39,2035.08 L479.57,2035.23 L484.39,2035.76 L489.12,2036.44 L493.68,2037.18 L497.96,2037.84 L501.89,2038.33 L505.38,2038.51 L508.33,2038.28 L510.8,2037.68 L512.91,2036.91 L514.79,2036.12 L516.58,2035.51 L518.4,2035.23 L520.22,2035.33 L521.96,2035.65 L523.59,2036.14 L525.13,2036.74 L526.56,2037.37 L527.88,2037.99 L529.12,2038.67 L530.28,2039.48 L531.34,2040.33 L532.27,2041.13 L533.04,2041.82 L533.62,2042.31 L534.06,2068.2" fill="none" stroke="#1c1c1c" stroke-width="2.2" stroke-linejoin="round" stroke-linecap="round" opacity="1"/>
<path d="M247.72,2069.24 L255.25,2069.2 L265.95,2069.16 L278.48,2069.11 L291.53,2069.04 L303.78,2068.97 L313.9,2068.89 L322.07,2068.85 L329.37,2068.85 L335.86,2068.84 L341.62,2068.77 L346.71,2068.58 L351.18,2068.2 L354.79,2067.79 L357.44,2067.44 L359.41,2066.96 L361,2066.18 L362.5,2064.94 L364.2,2063.06 L366.01,2060.49 L367.68,2057.35 L369.26,2053.74 L370.79,2049.78 L372.32,2045.56 L373.9,2041.19 L375.56,2036.46 L377.26,2031.25 L378.96,2025.78 L380.62,2020.3 L382.18,2015.03 L383.61,2010.21 L384.89,2005.53 L386.04,2000.75 L387.11,1996.18 L388.11,1992.16 L389.07,1988.99 L390.01,1987.01 L390.89,1986.5 L391.68,1987.27 L392.43,1988.9 L393.19,1990.98 L393.98,1993.08 L394.86,1994.8 L395.82,1996.39 L396.81,1998.25 L397.85,2000.13 L398.94,2001.8 L400.07,2003.03 L401.26,2003.58 L402.52,2003.32 L403.86,2002.41 L405.24,2001.06 L406.65,1999.46 L408.05,1997.8 L409.42,1996.29 L410.77,1994.66 L412.14,1992.71 L413.5,1990.71 L414.84,1988.91 L416.13,1987.59 L417.36,1987.01 L418.5,1987.16 L419.54,1987.83 L420.55,1988.97 L421.55,1990.54 L422.61,1992.5 L423.76,1994.8 L424.93,1997.65 L426.06,2001.12 L427.24,2004.98 L428.55,2008.99 L430.08,2012.91 L431.92,2016.5 L433.96,2019.98 L436.11,2023.56 L438.48,2027.06 L441.18,2030.26 L444.3,2032.96 L447.97,2034.95 L452.4,2036.01 L457.57,2036.28 L463.16,2036.04 L468.89,2035.59 L474.46,2035.22 L479.57,2035.23 L484.36,2035.68 L489.08,2036.35 L493.64,2037.1 L497.94,2037.79 L501.89,2038.31 L505.38,2038.51 L508.33,2038.28 L510.8,2037.68 L512.91,2036.91 L514.79,2036.12 L516.58,2035.51 L518.4,2035.23 L520.22,2035.33 L521.96,2035.65 L523.59,2036.14 L525.13,2036.74 L526.56,2037.37 L527.88,2037.99 L529.12,2038.67 L530.28,2039.48 L531.34,2040.33 L532.27,2041.13 L533.04,2041.82 L533.62,2042.31 L534.06,2068.2" fill="none" stroke="#d03a3a" stroke-width="2.2" stroke-linejoin="round" stroke-linecap="round" opacity="1"/>
<path d="M247.72,2069.24 L255.24,2069.2 L265.91,2069.16 L278.41,2069.11 L291.45,2069.04 L303.71,2068.97 L313.9,2068.89 L322.2,2068.84 L329.69,2068.84 L336.41,2068.82 L342.4,2068.75 L347.68,2068.56 L352.28,2068.2 L355.96,2067.82 L358.62,2067.48 L360.58,2067.03 L362.15,2066.3 L363.62,2065.14 L365.3,2063.38 L367.11,2060.97 L368.78,2058.03 L370.36,2054.65 L371.89,2050.93 L373.43,2046.97 L375.01,2042.88 L376.66,2038.45 L378.36,2033.56 L380.07,2028.43 L381.72,2023.29 L383.29,2018.35 L384.71,2013.83 L385.99,2009.45 L387.15,2004.97 L388.21,2000.69 L389.21,1996.91 L390.17,1993.94 L391.11,1992.08 L391.99,1991.61 L392.78,1992.33 L393.54,1993.86 L394.29,1995.81 L395.08,1997.78 L395.96,1999.38 L396.92,2000.88 L397.92,2002.62 L398.96,2004.38 L400.04,2005.95 L401.17,2007.11 L402.36,2007.62 L403.62,2007.37 L404.96,2006.52 L406.35,2005.26 L407.75,2003.76 L409.15,2002.2 L410.52,2000.78 L411.88,1999.26 L413.24,1997.43 L414.6,1995.55 L415.94,1993.87 L417.23,1992.63 L418.46,1992.08 L419.6,1992.22 L420.65,1992.85 L421.65,1993.92 L422.66,1995.39 L423.71,1997.23 L424.86,1999.38 L426.03,2002.06 L427.16,2005.32 L428.35,2008.95 L429.66,2012.71 L431.19,2016.38 L433.02,2019.73 L435.06,2022.99 L437.22,2026.37 L439.6,2029.66 L442.29,2032.65 L445.38,2035.11 L448.98,2036.84 L453.29,2037.6 L458.27,2037.51 L463.66,2036.9 L469.19,2036.1 L474.58,2035.44 L479.57,2035.23 L484.3,2035.57 L489,2036.21 L493.57,2036.98 L497.9,2037.72 L501.87,2038.29 L505.38,2038.51 L508.33,2038.28 L510.8,2037.68 L512.91,2036.91 L514.79,2036.12 L516.58,2035.51 L518.4,2035.23 L520.22,2035.33 L521.96,2035.65 L523.59,2036.14 L525.13,2036.74 L526.56,2037.37 L527.88,2037.99 L529.12,2038.67 L530.28,2039.48 L531.34,2040.33 L532.27,2041.13 L533.04,2041.82 L533.62,2042.31 L534.06,2068.2" fill="none" stroke="#3a3ae6" stroke-width="2.2" stroke-linejoin="round" stroke-linecap="round" opacity="1"/>
<path d="M247.72,2069.24 L255.23,2069.2 L265.87,2069.16 L278.36,2069.11 L291.38,2069.04 L303.66,2068.97 L313.9,2068.89 L322.31,2068.84 L329.95,2068.83 L336.86,2068.82 L343.02,2068.74 L348.45,2068.55 L353.17,2068.2 L356.89,2067.83 L359.57,2067.5 L361.52,2067.06 L363.06,2066.35 L364.51,2065.21 L366.18,2063.49 L367.99,2061.13 L369.66,2058.25 L371.24,2054.95 L372.78,2051.31 L374.31,2047.44 L375.89,2043.44 L377.54,2039.11 L379.25,2034.33 L380.95,2029.32 L382.6,2024.29 L384.17,2019.46 L385.6,2015.04 L386.87,2010.75 L388.03,2006.37 L389.1,2002.19 L390.1,1998.49 L391.05,1995.59 L391.99,1993.77 L392.87,1993.31 L393.67,1994.02 L394.42,1995.51 L395.17,1997.41 L395.97,1999.34 L396.85,2000.91 L397.8,2002.37 L398.8,2004.08 L399.84,2005.8 L400.92,2007.34 L402.06,2008.46 L403.24,2008.96 L404.5,2008.72 L405.84,2007.89 L407.23,2006.66 L408.64,2005.19 L410.04,2003.67 L411.41,2002.28 L412.76,2000.79 L414.13,1999 L415.49,1997.16 L416.82,1995.52 L418.12,1994.31 L419.35,1993.77 L420.48,1993.91 L421.53,1994.52 L422.53,1995.57 L423.54,1997.01 L424.59,1998.8 L425.74,2000.91 L426.91,2003.53 L428.05,2006.72 L429.23,2010.27 L430.55,2013.95 L432.08,2017.53 L433.91,2020.81 L435.95,2023.99 L438.11,2027.31 L440.5,2030.53 L443.18,2033.44 L446.25,2035.83 L449.79,2037.48 L453.99,2038.13 L458.83,2037.93 L464.06,2037.19 L469.42,2036.27 L474.68,2035.51 L479.57,2035.23 L484.25,2035.54 L488.94,2036.16 L493.52,2036.94 L497.87,2037.7 L501.87,2038.28 L505.38,2038.51 L508.33,2038.28 L510.8,2037.68 L512.91,2036.91 L514.79,2036.12 L516.58,2035.51 L518.4,2035.23 L520.22,2035.33 L521.96,2035.65 L523.59,2036.14 L525.13,2036.74 L526.56,2037.37 L527.88,2037.99 L529.12,2038.67 L530.28,2039.48 L531.34,2040.33 L532.27,2041.13 L533.04,2041.82 L533.62,2042.31 L534.06,2068.2" fill="none" stroke="#3f8a2c" stroke-width="2.2" stroke-linejoin="round" stroke-linecap="round" opacity="1"/>
<polygon points="159.4,1895.5 556.5,1895.5 556.5,2188 159.4,2188" fill="none" stroke="#2a2a2a" stroke-width="2.2" />
<line x1="168.3" y1="2188" x2="168.3" y2="2183" stroke="#2a2a2a" stroke-width="2" />
<line x1="168.3" y1="1895.5" x2="168.3" y2="1900.5" stroke="#2a2a2a" stroke-width="2" />
<line x1="185.95" y1="2188" x2="185.95" y2="2183" stroke="#2a2a2a" stroke-width="2" />
<line x1="185.95" y1="1895.5" x2="185.95" y2="1900.5" stroke="#2a2a2a" stroke-width="2" />
<line x1="203.6" y1="2188" x2="203.6" y2="2179.5" stroke="#2a2a2a" stroke-width="2" />
<line x1="203.6" y1="1895.5" x2="203.6" y2="1904" stroke="#2a2a2a" stroke-width="2" />
<line x1="221.25" y1="2188" x2="221.25" y2="2183" stroke="#2a2a2a" stroke-width="2" />
<line x1="221.25" y1="1895.5" x2="221.25" y2="1900.5" stroke="#2a2a2a" stroke-width="2" />
<line x1="238.9" y1="2188" x2="238.9" y2="2183" stroke="#2a2a2a" stroke-width="2" />
<line x1="238.9" y1="1895.5" x2="238.9" y2="1900.5" stroke="#2a2a2a" stroke-width="2" />
<line x1="256.54" y1="2188" x2="256.54" y2="2183" stroke="#2a2a2a" stroke-width="2" />
<line x1="256.54" y1="1895.5" x2="256.54" y2="1900.5" stroke="#2a2a2a" stroke-width="2" />
<line x1="274.19" y1="2188" x2="274.19" y2="2183" stroke="#2a2a2a" stroke-width="2" />
<line x1="274.19" y1="1895.5" x2="274.19" y2="1900.5" stroke="#2a2a2a" stroke-width="2" />
<line x1="291.84" y1="2188" x2="291.84" y2="2179.5" stroke="#2a2a2a" stroke-width="2" />
<line x1="291.84" y1="1895.5" x2="291.84" y2="1904" stroke="#2a2a2a" stroke-width="2" />
<line x1="309.49" y1="2188" x2="309.49" y2="2183" stroke="#2a2a2a" stroke-width="2" />
<line x1="309.49" y1="1895.5" x2="309.49" y2="1900.5" stroke="#2a2a2a" stroke-width="2" />
<line x1="327.14" y1="2188" x2="327.14" y2="2183" stroke="#2a2a2a" stroke-width="2" />
<line x1="327.14" y1="1895.5" x2="327.14" y2="1900.5" stroke="#2a2a2a" stroke-width="2" />
<line x1="344.78" y1="2188" x2="344.78" y2="2183" stroke="#2a2a2a" stroke-width="2" />
<line x1="344.78" y1="1895.5" x2="344.78" y2="1900.5" stroke="#2a2a2a" stroke-width="2" />
<line x1="362.43" y1="2188" x2="362.43" y2="2183" stroke="#2a2a2a" stroke-width="2" />
<line x1="362.43" y1="1895.5" x2="362.43" y2="1900.5" stroke="#2a2a2a" stroke-width="2" />
<line x1="380.08" y1="2188" x2="380.08" y2="2179.5" stroke="#2a2a2a" stroke-width="2" />
<line x1="380.08" y1="1895.5" x2="380.08" y2="1904" stroke="#2a2a2a" stroke-width="2" />
<line x1="397.73" y1="2188" x2="397.73" y2="2183" stroke="#2a2a2a" stroke-width="2" />
<line x1="397.73" y1="1895.5" x2="397.73" y2="1900.5" stroke="#2a2a2a" stroke-width="2" />
<line x1="415.38" y1="2188" x2="415.38" y2="2183" stroke="#2a2a2a" stroke-width="2" />
<line x1="415.38" y1="1895.5" x2="415.38" y2="1900.5" stroke="#2a2a2a" stroke-width="2" />
<line x1="433.02" y1="2188" x2="433.02" y2="2183" stroke="#2a2a2a" stroke-width="2" />
<line x1="433.02" y1="1895.5" x2="433.02" y2="1900.5" stroke="#2a2a2a" stroke-width="2" />
<line x1="450.67" y1="2188" x2="450.67" y2="2183" stroke="#2a2a2a" stroke-width="2" />
<line x1="450.67" y1="1895.5" x2="450.67" y2="1900.5" stroke="#2a2a2a" stroke-width="2" />
<line x1="468.32" y1="2188" x2="468.32" y2="2179.5" stroke="#2a2a2a" stroke-width="2" />
<line x1="468.32" y1="1895.5" x2="468.32" y2="1904" stroke="#2a2a2a" stroke-width="2" />
<line x1="485.97" y1="2188" x2="485.97" y2="2183" stroke="#2a2a2a" stroke-width="2" />
<line x1="485.97" y1="1895.5" x2="485.97" y2="1900.5" stroke="#2a2a2a" stroke-width="2" />
<line x1="503.62" y1="2188" x2="503.62" y2="2183" stroke="#2a2a2a" stroke-width="2" />
<line x1="503.62" y1="1895.5" x2="503.62" y2="1900.5" stroke="#2a2a2a" stroke-width="2" />
<line x1="521.26" y1="2188" x2="521.26" y2="2183" stroke="#2a2a2a" stroke-width="2" />
<line x1="521.26" y1="1895.5" x2="521.26" y2="1900.5" stroke="#2a2a2a" stroke-width="2" />
<line x1="538.91" y1="2188" x2="538.91" y2="2183" stroke="#2a2a2a" stroke-width="2" />
<line x1="538.91" y1="1895.5" x2="538.91" y2="1900.5" stroke="#2a2a2a" stroke-width="2" />
<line x1="159.4" y1="2154.5" x2="168.4" y2="2154.5" stroke="#2a2a2a" stroke-width="2" />
<line x1="556.5" y1="2154.5" x2="547.5" y2="2154.5" stroke="#2a2a2a" stroke-width="2" />
<line x1="159.4" y1="2111.35" x2="164.4" y2="2111.35" stroke="#2a2a2a" stroke-width="2" />
<line x1="556.5" y1="2111.35" x2="551.5" y2="2111.35" stroke="#2a2a2a" stroke-width="2" />
<line x1="159.4" y1="2068.2" x2="168.4" y2="2068.2" stroke="#2a2a2a" stroke-width="2" />
<line x1="556.5" y1="2068.2" x2="547.5" y2="2068.2" stroke="#2a2a2a" stroke-width="2" />
<line x1="159.4" y1="2025.05" x2="164.4" y2="2025.05" stroke="#2a2a2a" stroke-width="2" />
<line x1="556.5" y1="2025.05" x2="551.5" y2="2025.05" stroke="#2a2a2a" stroke-width="2" />
<line x1="159.4" y1="1981.9" x2="168.4" y2="1981.9" stroke="#2a2a2a" stroke-width="2" />
<line x1="556.5" y1="1981.9" x2="547.5" y2="1981.9" stroke="#2a2a2a" stroke-width="2" />
<line x1="159.4" y1="1938.75" x2="164.4" y2="1938.75" stroke="#2a2a2a" stroke-width="2" />
<line x1="556.5" y1="1938.75" x2="551.5" y2="1938.75" stroke="#2a2a2a" stroke-width="2" />
<text x="150.4" y="1901.4" font-family='"Liberation Sans", Arial, sans-serif' font-size="18" font-weight="bold" text-anchor="end" fill="#2a2a2a" textLength="38" lengthAdjust="spacingAndGlyphs">1000</text>
<text x="150.4" y="1987.7" font-family='"Liberation Sans", Arial, sans-serif' font-size="18" font-weight="bold" text-anchor="end" fill="#2a2a2a" textLength="28" lengthAdjust="spacingAndGlyphs">500</text>
<text x="150.4" y="2074" font-family='"Liberation Sans", Arial, sans-serif' font-size="18" font-weight="bold" text-anchor="end" fill="#2a2a2a" textLength="10" lengthAdjust="spacingAndGlyphs">0</text>
<text x="150.4" y="2160.3" font-family='"Liberation Sans", Arial, sans-serif' font-size="18" font-weight="bold" text-anchor="end" fill="#2a2a2a" textLength="33" lengthAdjust="spacingAndGlyphs">-500</text>
<text x="203.6" y="2210" font-family='"Liberation Sans", Arial, sans-serif' font-size="18.5" font-weight="bold" text-anchor="middle" fill="#2a2a2a" textLength="24" lengthAdjust="spacingAndGlyphs">2.8</text>
<text x="291.84" y="2210" font-family='"Liberation Sans", Arial, sans-serif' font-size="18.5" font-weight="bold" text-anchor="middle" fill="#2a2a2a" textLength="24" lengthAdjust="spacingAndGlyphs">3.2</text>
<text x="380.08" y="2210" font-family='"Liberation Sans", Arial, sans-serif' font-size="18.5" font-weight="bold" text-anchor="middle" fill="#2a2a2a" textLength="24" lengthAdjust="spacingAndGlyphs">3.6</text>
<text x="468.32" y="2210" font-family='"Liberation Sans", Arial, sans-serif' font-size="18.5" font-weight="bold" text-anchor="middle" fill="#2a2a2a" textLength="24" lengthAdjust="spacingAndGlyphs">4.0</text>
<text x="556.56" y="2210" font-family='"Liberation Sans", Arial, sans-serif' font-size="18.5" font-weight="bold" text-anchor="middle" fill="#2a2a2a" textLength="24" lengthAdjust="spacingAndGlyphs">4.4</text>
<text x="171.4" y="1930.4" font-family='"Liberation Sans", Arial, sans-serif' font-size="22" font-weight="bold" fill="#1a1a1a" textLength="229.1" lengthAdjust="spacingAndGlyphs" xml:space="preserve"><tspan dy="0">Li[ Ni</tspan><tspan font-size="13" dy="9">0.7</tspan><tspan dy="-9">Co</tspan><tspan font-size="13" dy="9">0.15</tspan><tspan dy="-9">Mn</tspan><tspan font-size="13" dy="9">0.15</tspan><tspan dy="-9">] O</tspan><tspan font-size="13" dy="9">2</tspan></text>
<text x="460.3" y="1925.5" font-family='"Liberation Sans", Arial, sans-serif' font-size="16.5" font-weight="bold" text-anchor="start" fill="#2a2a2a" textLength="82.3" lengthAdjust="spacingAndGlyphs" xml:space="preserve">3.0 - 4.3 V</text>
<line x1="182.7" y1="1970.7" x2="221.4" y2="1970.7" stroke="#1c1c1c" stroke-width="2.4" />
<text x="227" y="1976.7" font-family='"Liberation Sans", Arial, sans-serif' font-size="15" font-weight="bold" fill="#222">1<tspan font-size="8.5" dy="-7">st</tspan></text>
<line x1="182.7" y1="1994.3" x2="221.4" y2="1994.3" stroke="#d03a3a" stroke-width="2.4" />
<text x="227" y="2000.3" font-family='"Liberation Sans", Arial, sans-serif' font-size="15" font-weight="bold" fill="#222">20<tspan font-size="8.5" dy="-7">th</tspan></text>
<line x1="182.7" y1="2018.5" x2="221.4" y2="2018.5" stroke="#3a3ae6" stroke-width="2.4" />
<text x="227" y="2024.5" font-family='"Liberation Sans", Arial, sans-serif' font-size="15" font-weight="bold" fill="#222">50<tspan font-size="8.5" dy="-7">th</tspan></text>
<line x1="182.7" y1="2043.4" x2="221.4" y2="2043.4" stroke="#3f8a2c" stroke-width="2.4" />
<text x="227" y="2049.4" font-family='"Liberation Sans", Arial, sans-serif' font-size="15" font-weight="bold" fill="#222">100<tspan font-size="8.5" dy="-7">th</tspan></text>
<line x1="525" y1="2097.5" x2="514.99" y2="2082.61" stroke="#111" stroke-width="2.6" /><polygon points="505.5,2068.5 510.84,2085.4 519.14,2079.82" fill="#111" stroke="none" stroke-width="1" />
<text x="300.5" y="2237" font-family='"Liberation Sans", Arial, sans-serif' font-size="22.5" font-weight="bold" text-anchor="start" fill="#1a1a1a" textLength="117.8" lengthAdjust="spacingAndGlyphs">Voltage / V</text>
<text transform="translate(102,2179) rotate(-90)" font-family='"Liberation Sans", Arial, sans-serif' font-size="23.5" font-weight="bold" fill="#1a1a1a" textLength="303.5" lengthAdjust="spacingAndGlyphs">Differential capacity / dQ dV<tspan font-size="13" dy="-10">-1</tspan></text>
<text x="595" y="1884" font-family='"Liberation Serif", "Times New Roman", serif' font-size="30" font-weight="normal" text-anchor="start" fill="#1a1a1a" textLength="44" lengthAdjust="spacingAndGlyphs">(e)</text>
<path d="M1051.3,2078.7 L1043.27,2079.39 L1042.63,2082.13 L1041.77,2085.94 L1040.74,2090.45 L1039.57,2095.26 L1038.32,2099.99 L1037.03,2104.24 L1035.59,2108.24 L1033.96,2112.36 L1032.25,2116.39 L1030.55,2120.13 L1028.99,2123.41 L1027.66,2126.01 L1026.65,2128.06 L1025.87,2129.74 L1025.22,2130.94 L1024.6,2131.57 L1023.89,2131.5 L1022.98,2130.63 L1021.84,2128.5 L1020.55,2125.1 L1019.17,2121 L1017.78,2116.8 L1016.42,2113.08 L1015.17,2110.41 L1014.26,2108.8 L1013.66,2107.77 L1013.11,2107.22 L1012.32,2107.03 L1011.02,2107.1 L1008.93,2107.32 L1005.77,2107.89 L1001.71,2108.92 L997.14,2110.22 L992.44,2111.55 L987.99,2112.72 L984.18,2113.49 L981.05,2113.82 L978.3,2113.84 L975.8,2113.7 L973.43,2113.51 L971.06,2113.4 L968.57,2113.49 L965.97,2113.7 L963.36,2113.89 L960.76,2114.17 L958.16,2114.62 L955.56,2115.33 L952.96,2116.41 L950.28,2117.92 L947.51,2119.8 L944.75,2121.96 L942.07,2124.27 L939.57,2126.62 L937.35,2128.92 L935.43,2131.29 L933.77,2133.83 L932.29,2136.43 L930.91,2138.94 L929.58,2141.22 L928.2,2143.15 L926.86,2144.8 L925.62,2146.32 L924.41,2147.61 L923.18,2148.6 L921.87,2149.19 L920.4,2149.32 L918.85,2148.83 L917.28,2147.78 L915.62,2146.34 L913.81,2144.68 L911.78,2142.99 L909.47,2141.43 L906.73,2139.95 L903.57,2138.39 L900.2,2136.79 L896.81,2135.2 L893.59,2133.65 L890.74,2132.18 L888.29,2130.91 L886.11,2129.84 L884.09,2128.81 L882.17,2127.68 L880.25,2126.28 L878.25,2124.46 L876.31,2122.17 L874.5,2119.51 L872.7,2116.59 L870.78,2113.51 L868.58,2110.39 L865.99,2107.32 L863.62,2104.16 L861.71,2100.79 L859.53,2097.36 L856.36,2094.06 L851.47,2091.04 L844.13,2088.47 L832.78,2086.35 L817.67,2084.53 L800.84,2083.01 L784.32,2081.74 L770.12,2080.71 L760.28,2079.9" fill="none" stroke="#1c1c1c" stroke-width="2.2" stroke-linejoin="round" stroke-linecap="round" opacity="1"/>
<path d="M1051.3,2078.7 L1044.61,2079.39 L1043.91,2082.13 L1042.96,2085.94 L1041.82,2090.45 L1040.56,2095.26 L1039.24,2099.99 L1037.92,2104.24 L1036.51,2108.24 L1034.95,2112.35 L1033.32,2116.37 L1031.73,2120.11 L1030.25,2123.39 L1029,2126.01 L1028.04,2128.1 L1027.31,2129.85 L1026.7,2131.14 L1026.11,2131.83 L1025.43,2131.82 L1024.54,2130.98 L1023.43,2128.82 L1022.19,2125.37 L1020.85,2121.2 L1019.46,2116.92 L1018.07,2113.12 L1016.73,2110.41 L1015.63,2108.78 L1014.76,2107.74 L1013.89,2107.2 L1012.79,2107.02 L1011.21,2107.1 L1008.93,2107.32 L1005.68,2107.89 L1001.6,2108.92 L997.04,2110.22 L992.38,2111.55 L987.97,2112.72 L984.18,2113.49 L981.05,2113.82 L978.3,2113.84 L975.8,2113.7 L973.43,2113.51 L971.06,2113.4 L968.57,2113.49 L965.97,2113.71 L963.36,2113.91 L960.76,2114.2 L958.16,2114.66 L955.56,2115.36 L952.96,2116.41 L950.29,2117.86 L947.54,2119.67 L944.79,2121.73 L942.12,2123.94 L939.61,2126.2 L937.35,2128.41 L935.36,2130.68 L933.59,2133.14 L931.98,2135.64 L930.48,2138.06 L929.01,2140.26 L927.54,2142.12 L926.1,2143.71 L924.76,2145.16 L923.47,2146.39 L922.16,2147.34 L920.78,2147.94 L919.28,2148.12 L917.72,2147.77 L916.16,2146.92 L914.53,2145.73 L912.77,2144.32 L910.81,2142.84 L908.58,2141.43 L905.96,2140.02 L902.96,2138.48 L899.77,2136.87 L896.55,2135.24 L893.49,2133.66 L890.74,2132.18 L888.35,2130.91 L886.17,2129.84 L884.15,2128.81 L882.2,2127.68 L880.26,2126.28 L878.25,2124.46 L876.31,2122.17 L874.5,2119.51 L872.7,2116.59 L870.78,2113.51 L868.58,2110.39 L865.99,2107.32 L863.62,2104.16 L861.71,2100.79 L859.53,2097.36 L856.36,2094.06 L851.47,2091.04 L844.13,2088.47 L832.78,2086.35 L817.67,2084.53 L800.84,2083.01 L784.32,2081.74 L770.12,2080.71 L760.28,2079.9" fill="none" stroke="#d03a3a" stroke-width="2.2" stroke-linejoin="round" stroke-linecap="round" opacity="1"/>
<path d="M1051.3,2078.7 L1040.15,2079.39 L1039.31,2082.18 L1038.17,2086.11 L1036.81,2090.73 L1035.32,2095.59 L1033.8,2100.25 L1032.35,2104.24 L1030.86,2107.69 L1029.26,2110.99 L1027.63,2114.07 L1026.06,2116.9 L1024.63,2119.41 L1023.42,2121.55 L1022.52,2123.48 L1021.87,2125.28 L1021.36,2126.76 L1020.89,2127.75 L1020.35,2128.07 L1019.63,2127.55 L1018.74,2125.76 L1017.75,2122.74 L1016.69,2119.06 L1015.6,2115.27 L1014.48,2111.92 L1013.39,2109.55 L1012.48,2108.18 L1011.78,2107.35 L1011.06,2106.96 L1010.12,2106.9 L1008.74,2107.06 L1006.7,2107.32 L1003.78,2107.88 L1000.11,2108.83 L996,2110.01 L991.76,2111.22 L987.71,2112.27 L984.18,2112.98 L981.18,2113.28 L978.46,2113.3 L975.94,2113.17 L973.51,2113 L971.09,2112.9 L968.57,2112.98 L965.99,2113.18 L963.44,2113.39 L960.89,2113.68 L958.31,2114.09 L955.67,2114.7 L952.96,2115.55 L950.06,2116.7 L946.99,2118.09 L943.87,2119.68 L940.81,2121.39 L937.93,2123.18 L935.34,2124.98 L933.08,2126.88 L931.06,2128.95 L929.22,2131.08 L927.5,2133.2 L925.84,2135.19 L924.19,2136.98 L922.6,2138.66 L921.13,2140.34 L919.73,2141.9 L918.33,2143.23 L916.86,2144.2 L915.27,2144.69 L913.57,2144.6 L911.8,2144.01 L909.97,2143.06 L908.08,2141.9 L906.13,2140.68 L904.12,2139.55 L902.01,2138.45 L899.79,2137.27 L897.51,2136.02 L895.22,2134.74 L892.94,2133.45 L890.74,2132.18 L888.6,2131.02 L886.5,2129.98 L884.43,2128.93 L882.37,2127.75 L880.31,2126.3 L878.25,2124.46 L876.31,2122.17 L874.5,2119.51 L872.7,2116.59 L870.78,2113.51 L868.58,2110.39 L865.99,2107.32 L863.62,2104.16 L861.71,2100.79 L859.53,2097.36 L856.36,2094.06 L851.47,2091.04 L844.13,2088.47 L832.78,2086.35 L817.67,2084.53 L800.84,2083.01 L784.32,2081.74 L770.12,2080.71 L760.28,2079.9" fill="none" stroke="#3a3ae6" stroke-width="2.2" stroke-linejoin="round" stroke-linecap="round" opacity="1"/>
<path d="M1051.3,2078.7 L1048.69,2078.65 L1044.94,2078.48 L1040.57,2078.33 L1036.1,2078.35 L1032.07,2078.71 L1029,2079.56 L1026.95,2081.02 L1025.51,2082.99 L1024.51,2085.3 L1023.76,2087.76 L1023.09,2090.19 L1022.31,2092.41 L1021.48,2094.62 L1020.74,2096.99 L1020.08,2099.33 L1019.47,2101.45 L1018.88,2103.15 L1018.3,2104.24 L1018.04,2104.49 L1018.21,2104.02 L1018.41,2103.14 L1018.23,2102.13 L1017.28,2101.31 L1015.17,2100.98 L1011.65,2101.21 L1006.98,2101.76 L1001.54,2102.49 L995.72,2103.27 L989.87,2103.96 L984.4,2104.41 L979.07,2104.59 L973.53,2104.6 L967.98,2104.52 L962.61,2104.41 L957.61,2104.35 L953.18,2104.41 L949.45,2104.49 L946.31,2104.51 L943.54,2104.57 L940.92,2104.79 L938.26,2105.27 L935.34,2106.12 L932.09,2107.48 L928.67,2109.29 L925.19,2111.35 L921.79,2113.49 L918.59,2115.53 L915.72,2117.26 L913.22,2118.85 L911.02,2120.46 L909.03,2121.96 L907.13,2123.21 L905.23,2124.09 L903.23,2124.46 L901.18,2124.24 L899.18,2123.52 L897.18,2122.42 L895.13,2121.07 L893,2119.59 L890.74,2118.12 L888.4,2116.65 L886.02,2115.07 L883.55,2113.37 L880.94,2111.52 L878.15,2109.51 L875.13,2107.32 L872.01,2104.8 L868.85,2101.92 L865.51,2098.87 L861.83,2095.86 L857.66,2093.07 L852.83,2090.7 L847.3,2088.73 L841.18,2087.01 L834.57,2085.51 L827.56,2084.22 L820.23,2083.1 L812.69,2082.13 L804.19,2081.36 L794.52,2080.83 L784.54,2080.48 L775.11,2080.24 L767.11,2080.07 L761.4,2079.9" fill="none" stroke="#3f8a2c" stroke-width="2.2" stroke-linejoin="round" stroke-linecap="round" opacity="1"/>
<path d="M761.4,2079.56 L768.8,2079.52 L779.14,2079.47 L791.34,2079.42 L804.32,2079.35 L817,2079.29 L828.3,2079.21 L838.86,2079.23 L849.67,2079.33 L860.19,2079.44 L869.86,2079.44 L878.14,2079.22 L884.5,2078.7 L888.45,2078.2 L890.34,2077.88 L890.85,2077.35 L890.64,2076.22 L890.38,2074.12 L890.74,2070.64 L891.61,2065.33 L892.45,2058.38 L893.23,2050.45 L893.96,2042.19 L894.62,2034.25 L895.2,2027.28 L895.67,2020.97 L896.02,2014.74 L896.3,2008.82 L896.56,2003.47 L896.85,1998.91 L897.21,1995.4 L897.6,1993 L897.98,1991.55 L898.39,1990.89 L898.86,1990.89 L899.42,1991.41 L900.11,1992.31 L900.92,1993.89 L901.82,1996.31 L902.82,1999.25 L903.91,2002.38 L905.09,2005.37 L906.35,2007.91 L907.73,2010.17 L909.24,2012.44 L910.84,2014.57 L912.48,2016.43 L914.12,2017.86 L915.72,2018.71 L917.28,2018.92 L918.84,2018.6 L920.4,2017.85 L921.96,2016.78 L923.52,2015.49 L925.08,2014.08 L926.65,2012.22 L928.21,2009.74 L929.78,2007.04 L931.34,2004.52 L932.9,2002.57 L934.45,2001.57 L935.98,2001.6 L937.5,2002.35 L939.02,2003.67 L940.54,2005.4 L942.06,2007.38 L943.59,2009.45 L945.07,2011.77 L946.47,2014.49 L947.87,2017.46 L949.36,2020.53 L951.03,2023.57 L952.96,2026.42 L955.02,2029.26 L957.12,2032.24 L959.4,2035.19 L961.98,2037.91 L964.99,2040.25 L968.57,2042.02 L972.98,2043.05 L978.17,2043.46 L983.8,2043.47 L989.51,2043.33 L994.96,2043.28 L999.79,2043.56 L1004.07,2044.41 L1008.1,2045.68 L1011.87,2047.03 L1015.36,2048.15 L1018.54,2048.71 L1021.42,2048.36 L1023.91,2046.85 L1026.03,2044.38 L1027.84,2041.35 L1029.45,2038.14 L1030.92,2035.14 L1032.35,2032.76 L1033.64,2030.77 L1034.72,2028.81 L1035.66,2027.07 L1036.57,2025.73 L1037.51,2025 L1038.59,2025.05 L1039.84,2026.11 L1041.19,2028.07 L1042.59,2030.62 L1043.97,2033.48 L1045.26,2036.35 L1046.39,2038.94 L1047.41,2041.45 L1048.36,2044.18 L1049.22,2046.92 L1049.98,2049.46 L1050.6,2051.61 L1051.08,2053.16 L1051.3,2078.7" fill="none" stroke="#1c1c1c" stroke-width="2.2" stroke-linejoin="round" stroke-linecap="round" opacity="1"/>
<path d="M761.4,2079.56 L768.74,2079.52 L778.95,2079.47 L791.02,2079.42 L803.94,2079.35 L816.7,2079.29 L828.3,2079.21 L839.49,2079.23 L851.22,2079.33 L862.8,2079.44 L873.52,2079.44 L882.69,2079.22 L889.62,2078.7 L893.79,2078.2 L895.65,2077.88 L895.97,2077.35 L895.49,2076.22 L894.98,2074.12 L895.2,2070.64 L896.03,2065.3 L896.85,2058.28 L897.64,2050.28 L898.38,2041.99 L899.06,2034.09 L899.66,2027.28 L900.16,2021.29 L900.55,2015.53 L900.89,2010.16 L901.2,2005.36 L901.52,2001.3 L901.89,1998.14 L902.27,1995.98 L902.62,1994.68 L902.98,1994.12 L903.39,1994.17 L903.91,1994.7 L904.57,1995.57 L905.37,1997.07 L906.28,1999.35 L907.3,2002.11 L908.4,2005.03 L909.57,2007.81 L910.81,2010.14 L912.15,2012.17 L913.63,2014.17 L915.17,2016.03 L916.74,2017.63 L918.28,2018.85 L919.73,2019.57 L921.09,2019.74 L922.4,2019.44 L923.67,2018.76 L924.94,2017.79 L926.22,2016.6 L927.54,2015.28 L928.88,2013.51 L930.24,2011.16 L931.62,2008.59 L933,2006.17 L934.39,2004.28 L935.79,2003.28 L937.18,2003.22 L938.56,2003.79 L939.95,2004.89 L941.36,2006.39 L942.79,2008.18 L944.26,2010.14 L945.7,2012.43 L947.1,2015.18 L948.52,2018.22 L950.04,2021.36 L951.72,2024.44 L953.63,2027.28 L955.63,2030.03 L957.66,2032.86 L959.86,2035.63 L962.35,2038.17 L965.28,2040.36 L968.79,2042.02 L973.15,2043 L978.3,2043.39 L983.88,2043.41 L989.56,2043.3 L994.98,2043.27 L999.79,2043.56 L1004.06,2044.41 L1008.09,2045.68 L1011.86,2047.03 L1015.35,2048.15 L1018.54,2048.71 L1021.42,2048.36 L1023.91,2046.85 L1026.03,2044.38 L1027.84,2041.35 L1029.45,2038.14 L1030.92,2035.14 L1032.35,2032.76 L1033.64,2030.77 L1034.72,2028.81 L1035.66,2027.07 L1036.57,2025.73 L1037.51,2025 L1038.59,2025.05 L1039.84,2026.11 L1041.19,2028.07 L1042.59,2030.62 L1043.97,2033.48 L1045.26,2036.35 L1046.39,2038.94 L1047.41,2041.45 L1048.36,2044.18 L1049.22,2046.92 L1049.98,2049.46 L1050.6,2051.61 L1051.08,2053.16 L1051.3,2078.7" fill="none" stroke="#d03a3a" stroke-width="2.2" stroke-linejoin="round" stroke-linecap="round" opacity="1"/>
<path d="M761.4,2079.56 L768.67,2079.52 L778.7,2079.47 L790.6,2079.42 L803.44,2079.35 L816.31,2079.29 L828.3,2079.21 L840.29,2079.23 L853.2,2079.33 L866.14,2079.44 L878.23,2079.44 L888.58,2079.22 L896.32,2078.7 L900.87,2078.2 L902.84,2077.88 L903.07,2077.35 L902.43,2076.22 L901.75,2074.12 L901.89,2070.64 L902.72,2065.34 L903.54,2058.4 L904.33,2050.49 L905.07,2042.24 L905.75,2034.29 L906.35,2027.28 L906.85,2020.88 L907.24,2014.51 L907.58,2008.45 L907.89,2002.95 L908.21,1998.28 L908.58,1994.71 L908.96,1992.35 L909.31,1991 L909.67,1990.48 L910.08,1990.62 L910.6,1991.23 L911.26,1992.14 L912.09,1993.65 L913.06,1995.95 L914.13,1998.73 L915.25,2001.67 L916.39,2004.43 L917.5,2006.71 L918.59,2008.6 L919.7,2010.36 L920.82,2011.96 L921.94,2013.35 L923.07,2014.47 L924.19,2015.28 L925.28,2015.74 L926.34,2015.89 L927.4,2015.76 L928.48,2015.44 L929.64,2014.97 L930.88,2014.42 L932.25,2013.59 L933.73,2012.39 L935.27,2011.05 L936.83,2009.79 L938.35,2008.84 L939.8,2008.43 L941.17,2008.54 L942.48,2009 L943.77,2009.77 L945.04,2010.81 L946.32,2012.09 L947.61,2013.57 L948.83,2015.35 L949.96,2017.47 L951.09,2019.82 L952.31,2022.32 L953.72,2024.84 L955.41,2027.28 L957.26,2029.83 L959.18,2032.61 L961.28,2035.41 L963.69,2038.05 L966.52,2040.32 L969.9,2042.02 L974.09,2043 L979.03,2043.39 L984.4,2043.41 L989.87,2043.3 L995.11,2043.27 L999.79,2043.56 L1003.99,2044.39 L1008,2045.63 L1011.79,2046.95 L1015.31,2048.05 L1018.53,2048.63 L1021.42,2048.36 L1023.89,2047.01 L1025.97,2044.76 L1027.75,2041.98 L1029.33,2039.04 L1030.83,2036.3 L1032.35,2034.14 L1033.84,2032.35 L1035.24,2030.62 L1036.54,2029.09 L1037.78,2027.92 L1038.98,2027.27 L1040.15,2027.28 L1041.3,2028.12 L1042.4,2029.7 L1043.47,2031.79 L1044.49,2034.17 L1045.46,2036.63 L1046.39,2038.94 L1047.32,2041.32 L1048.24,2044.01 L1049.13,2046.78 L1049.92,2049.38 L1050.59,2051.58 L1051.08,2053.16 L1051.3,2078.7" fill="none" stroke="#3a3ae6" stroke-width="2.2" stroke-linejoin="round" stroke-linecap="round" opacity="1"/>
<path d="M761.4,2079.56 L768.63,2079.52 L778.58,2079.47 L790.39,2079.42 L803.19,2079.35 L816.12,2079.29 L828.3,2079.21 L840.58,2079.23 L853.8,2079.33 L867.16,2079.44 L879.8,2079.44 L890.92,2079.22 L899.66,2078.7 L905.65,2078.03 L909.47,2077.34 L911.76,2076.43 L913.14,2075.13 L914.25,2073.26 L915.72,2070.64 L917.32,2067.02 L918.52,2062.49 L919.45,2057.38 L920.24,2052.04 L921.03,2046.81 L921.96,2042.02 L922.96,2037.43 L923.93,2032.71 L924.89,2028.09 L925.89,2023.81 L926.98,2020.1 L928.2,2017.17 L929.55,2015.21 L930.99,2014.07 L932.51,2013.49 L934.12,2013.22 L935.81,2012.99 L937.57,2012.54 L939.52,2011.83 L941.69,2011.07 L943.94,2010.34 L946.13,2009.77 L948.14,2009.43 L949.84,2009.45 L951.06,2009.78 L951.9,2010.32 L952.55,2011.1 L953.22,2012.17 L954.11,2013.55 L955.41,2015.28 L957.16,2017.55 L959.21,2020.38 L961.47,2023.52 L963.88,2026.73 L966.34,2029.78 L968.79,2032.42 L971.19,2034.73 L973.58,2036.9 L976.04,2038.9 L978.62,2040.71 L981.39,2042.27 L984.4,2043.56 L987.73,2044.54 L991.34,2045.21 L995.13,2045.65 L999.02,2045.91 L1002.91,2046.05 L1006.7,2046.13 L1010.52,2046.18 L1014.46,2046.13 L1018.41,2045.97 L1022.23,2045.66 L1025.8,2045.15 L1029,2044.42 L1031.84,2043.25 L1034.41,2041.63 L1036.74,2039.81 L1038.83,2038.07 L1040.7,2036.66 L1042.38,2035.85 L1043.79,2035.67 L1044.9,2035.91 L1045.79,2036.49 L1046.55,2037.31 L1047.25,2038.27 L1047.95,2039.28 L1048.68,2040.51 L1049.36,2042.07 L1049.98,2043.78 L1050.52,2045.44 L1050.96,2046.86 L1051.3,2047.85 L1051.3,2078.7" fill="none" stroke="#3f8a2c" stroke-width="2.2" stroke-linejoin="round" stroke-linecap="round" opacity="1"/>
<polygon points="672.3,1906.8 1073.6,1906.8 1073.6,2199 672.3,2199" fill="none" stroke="#2a2a2a" stroke-width="2.2" />
<line x1="681.12" y1="2199" x2="681.12" y2="2194" stroke="#2a2a2a" stroke-width="2" />
<line x1="681.12" y1="1906.8" x2="681.12" y2="1911.8" stroke="#2a2a2a" stroke-width="2" />
<line x1="698.96" y1="2199" x2="698.96" y2="2194" stroke="#2a2a2a" stroke-width="2" />
<line x1="698.96" y1="1906.8" x2="698.96" y2="1911.8" stroke="#2a2a2a" stroke-width="2" />
<line x1="716.8" y1="2199" x2="716.8" y2="2190.5" stroke="#2a2a2a" stroke-width="2" />
<line x1="716.8" y1="1906.8" x2="716.8" y2="1915.3" stroke="#2a2a2a" stroke-width="2" />
<line x1="734.64" y1="2199" x2="734.64" y2="2194" stroke="#2a2a2a" stroke-width="2" />
<line x1="734.64" y1="1906.8" x2="734.64" y2="1911.8" stroke="#2a2a2a" stroke-width="2" />
<line x1="752.48" y1="2199" x2="752.48" y2="2194" stroke="#2a2a2a" stroke-width="2" />
<line x1="752.48" y1="1906.8" x2="752.48" y2="1911.8" stroke="#2a2a2a" stroke-width="2" />
<line x1="770.32" y1="2199" x2="770.32" y2="2194" stroke="#2a2a2a" stroke-width="2" />
<line x1="770.32" y1="1906.8" x2="770.32" y2="1911.8" stroke="#2a2a2a" stroke-width="2" />
<line x1="788.16" y1="2199" x2="788.16" y2="2194" stroke="#2a2a2a" stroke-width="2" />
<line x1="788.16" y1="1906.8" x2="788.16" y2="1911.8" stroke="#2a2a2a" stroke-width="2" />
<line x1="806" y1="2199" x2="806" y2="2190.5" stroke="#2a2a2a" stroke-width="2" />
<line x1="806" y1="1906.8" x2="806" y2="1915.3" stroke="#2a2a2a" stroke-width="2" />
<line x1="823.84" y1="2199" x2="823.84" y2="2194" stroke="#2a2a2a" stroke-width="2" />
<line x1="823.84" y1="1906.8" x2="823.84" y2="1911.8" stroke="#2a2a2a" stroke-width="2" />
<line x1="841.68" y1="2199" x2="841.68" y2="2194" stroke="#2a2a2a" stroke-width="2" />
<line x1="841.68" y1="1906.8" x2="841.68" y2="1911.8" stroke="#2a2a2a" stroke-width="2" />
<line x1="859.52" y1="2199" x2="859.52" y2="2194" stroke="#2a2a2a" stroke-width="2" />
<line x1="859.52" y1="1906.8" x2="859.52" y2="1911.8" stroke="#2a2a2a" stroke-width="2" />
<line x1="877.36" y1="2199" x2="877.36" y2="2194" stroke="#2a2a2a" stroke-width="2" />
<line x1="877.36" y1="1906.8" x2="877.36" y2="1911.8" stroke="#2a2a2a" stroke-width="2" />
<line x1="895.2" y1="2199" x2="895.2" y2="2190.5" stroke="#2a2a2a" stroke-width="2" />
<line x1="895.2" y1="1906.8" x2="895.2" y2="1915.3" stroke="#2a2a2a" stroke-width="2" />
<line x1="913.04" y1="2199" x2="913.04" y2="2194" stroke="#2a2a2a" stroke-width="2" />
<line x1="913.04" y1="1906.8" x2="913.04" y2="1911.8" stroke="#2a2a2a" stroke-width="2" />
<line x1="930.88" y1="2199" x2="930.88" y2="2194" stroke="#2a2a2a" stroke-width="2" />
<line x1="930.88" y1="1906.8" x2="930.88" y2="1911.8" stroke="#2a2a2a" stroke-width="2" />
<line x1="948.72" y1="2199" x2="948.72" y2="2194" stroke="#2a2a2a" stroke-width="2" />
<line x1="948.72" y1="1906.8" x2="948.72" y2="1911.8" stroke="#2a2a2a" stroke-width="2" />
<line x1="966.56" y1="2199" x2="966.56" y2="2194" stroke="#2a2a2a" stroke-width="2" />
<line x1="966.56" y1="1906.8" x2="966.56" y2="1911.8" stroke="#2a2a2a" stroke-width="2" />
<line x1="984.4" y1="2199" x2="984.4" y2="2190.5" stroke="#2a2a2a" stroke-width="2" />
<line x1="984.4" y1="1906.8" x2="984.4" y2="1915.3" stroke="#2a2a2a" stroke-width="2" />
<line x1="1002.24" y1="2199" x2="1002.24" y2="2194" stroke="#2a2a2a" stroke-width="2" />
<line x1="1002.24" y1="1906.8" x2="1002.24" y2="1911.8" stroke="#2a2a2a" stroke-width="2" />
<line x1="1020.08" y1="2199" x2="1020.08" y2="2194" stroke="#2a2a2a" stroke-width="2" />
<line x1="1020.08" y1="1906.8" x2="1020.08" y2="1911.8" stroke="#2a2a2a" stroke-width="2" />
<line x1="1037.92" y1="2199" x2="1037.92" y2="2194" stroke="#2a2a2a" stroke-width="2" />
<line x1="1037.92" y1="1906.8" x2="1037.92" y2="1911.8" stroke="#2a2a2a" stroke-width="2" />
<line x1="1055.76" y1="2199" x2="1055.76" y2="2194" stroke="#2a2a2a" stroke-width="2" />
<line x1="1055.76" y1="1906.8" x2="1055.76" y2="1911.8" stroke="#2a2a2a" stroke-width="2" />
<line x1="672.3" y1="2164.4" x2="681.3" y2="2164.4" stroke="#2a2a2a" stroke-width="2" />
<line x1="1073.6" y1="2164.4" x2="1064.6" y2="2164.4" stroke="#2a2a2a" stroke-width="2" />
<line x1="672.3" y1="2121.55" x2="677.3" y2="2121.55" stroke="#2a2a2a" stroke-width="2" />
<line x1="1073.6" y1="2121.55" x2="1068.6" y2="2121.55" stroke="#2a2a2a" stroke-width="2" />
<line x1="672.3" y1="2078.7" x2="681.3" y2="2078.7" stroke="#2a2a2a" stroke-width="2" />
<line x1="1073.6" y1="2078.7" x2="1064.6" y2="2078.7" stroke="#2a2a2a" stroke-width="2" />
<line x1="672.3" y1="2035.85" x2="677.3" y2="2035.85" stroke="#2a2a2a" stroke-width="2" />
<line x1="1073.6" y1="2035.85" x2="1068.6" y2="2035.85" stroke="#2a2a2a" stroke-width="2" />
<line x1="672.3" y1="1993" x2="681.3" y2="1993" stroke="#2a2a2a" stroke-width="2" />
<line x1="1073.6" y1="1993" x2="1064.6" y2="1993" stroke="#2a2a2a" stroke-width="2" />
<line x1="672.3" y1="1950.15" x2="677.3" y2="1950.15" stroke="#2a2a2a" stroke-width="2" />
<line x1="1073.6" y1="1950.15" x2="1068.6" y2="1950.15" stroke="#2a2a2a" stroke-width="2" />
<text x="663.3" y="1913.1" font-family='"Liberation Sans", Arial, sans-serif' font-size="18" font-weight="bold" text-anchor="end" fill="#2a2a2a" textLength="38" lengthAdjust="spacingAndGlyphs">1000</text>
<text x="663.3" y="1998.8" font-family='"Liberation Sans", Arial, sans-serif' font-size="18" font-weight="bold" text-anchor="end" fill="#2a2a2a" textLength="28" lengthAdjust="spacingAndGlyphs">500</text>
<text x="663.3" y="2084.5" font-family='"Liberation Sans", Arial, sans-serif' font-size="18" font-weight="bold" text-anchor="end" fill="#2a2a2a" textLength="10" lengthAdjust="spacingAndGlyphs">0</text>
<text x="663.3" y="2170.2" font-family='"Liberation Sans", Arial, sans-serif' font-size="18" font-weight="bold" text-anchor="end" fill="#2a2a2a" textLength="33" lengthAdjust="spacingAndGlyphs">-500</text>
<text x="716.8" y="2221.5" font-family='"Liberation Sans", Arial, sans-serif' font-size="18.5" font-weight="bold" text-anchor="middle" fill="#2a2a2a" textLength="24" lengthAdjust="spacingAndGlyphs">2.8</text>
<text x="806" y="2221.5" font-family='"Liberation Sans", Arial, sans-serif' font-size="18.5" font-weight="bold" text-anchor="middle" fill="#2a2a2a" textLength="24" lengthAdjust="spacingAndGlyphs">3.2</text>
<text x="895.2" y="2221.5" font-family='"Liberation Sans", Arial, sans-serif' font-size="18.5" font-weight="bold" text-anchor="middle" fill="#2a2a2a" textLength="24" lengthAdjust="spacingAndGlyphs">3.6</text>
<text x="984.4" y="2221.5" font-family='"Liberation Sans", Arial, sans-serif' font-size="18.5" font-weight="bold" text-anchor="middle" fill="#2a2a2a" textLength="24" lengthAdjust="spacingAndGlyphs">4.0</text>
<text x="1073.6" y="2221.5" font-family='"Liberation Sans", Arial, sans-serif' font-size="18.5" font-weight="bold" text-anchor="middle" fill="#2a2a2a" textLength="24" lengthAdjust="spacingAndGlyphs">4.4</text>
<text x="681" y="1939.5" font-family='"Liberation Sans", Arial, sans-serif' font-size="22" font-weight="bold" fill="#1a1a1a" textLength="205.2" lengthAdjust="spacingAndGlyphs" xml:space="preserve"><tspan dy="0">Li[Ni</tspan><tspan font-size="13" dy="9">0.8</tspan><tspan dy="-9">Co</tspan><tspan font-size="13" dy="9">0.1</tspan><tspan dy="-9">Mn</tspan><tspan font-size="13" dy="9">0.1</tspan><tspan dy="-9">]O</tspan><tspan font-size="13" dy="9">2</tspan></text>
<text x="977.9" y="1938" font-family='"Liberation Sans", Arial, sans-serif' font-size="16.5" font-weight="bold" text-anchor="start" fill="#2a2a2a" textLength="82.4" lengthAdjust="spacingAndGlyphs" xml:space="preserve">3.0 - 4.3 V</text>
<line x1="696.6" y1="1982.4" x2="733.9" y2="1982.4" stroke="#1c1c1c" stroke-width="2.4" />
<text x="739.5" y="1988.4" font-family='"Liberation Sans", Arial, sans-serif' font-size="15" font-weight="bold" fill="#222">1<tspan font-size="8.5" dy="-7">st</tspan></text>
<line x1="696.6" y1="2007.2" x2="733.9" y2="2007.2" stroke="#d03a3a" stroke-width="2.4" />
<text x="739.5" y="2013.2" font-family='"Liberation Sans", Arial, sans-serif' font-size="15" font-weight="bold" fill="#222">20<tspan font-size="8.5" dy="-7">th</tspan></text>
<line x1="696.6" y1="2031.2" x2="733.9" y2="2031.2" stroke="#3a3ae6" stroke-width="2.4" />
<text x="739.5" y="2037.2" font-family='"Liberation Sans", Arial, sans-serif' font-size="15" font-weight="bold" fill="#222">50<tspan font-size="8.5" dy="-7">th</tspan></text>
<line x1="696.6" y1="2055.4" x2="733.9" y2="2055.4" stroke="#3f8a2c" stroke-width="2.4" />
<text x="739.5" y="2061.4" font-family='"Liberation Sans", Arial, sans-serif' font-size="15" font-weight="bold" fill="#222">100<tspan font-size="8.5" dy="-7">th</tspan></text>
<line x1="1041.6" y1="2118.2" x2="1023.58" y2="2086.39" stroke="#111" stroke-width="2.6" /><polygon points="1015.2,2071.6 1019.23,2088.86 1027.93,2083.93" fill="#111" stroke="none" stroke-width="1" />
<text x="815.3" y="2247.2" font-family='"Liberation Sans", Arial, sans-serif' font-size="22.5" font-weight="bold" text-anchor="start" fill="#1a1a1a" textLength="116" lengthAdjust="spacingAndGlyphs">Voltage / V</text>
<text transform="translate(614.2,2191.3) rotate(-90)" font-family='"Liberation Sans", Arial, sans-serif' font-size="23.5" font-weight="bold" fill="#1a1a1a" textLength="296.9" lengthAdjust="spacingAndGlyphs">Differential capacity / dQ dV<tspan font-size="13" dy="-10">-1</tspan></text>
<text x="877.8" y="1984.5" font-family='"Liberation Sans", Arial, sans-serif' font-size="14" font-weight="bold" text-anchor="start" fill="#1a1a1a" textLength="41" lengthAdjust="spacingAndGlyphs">H1+M</text>
<text x="930.6" y="1993.9" font-family='"Liberation Sans", Arial, sans-serif' font-size="14" font-weight="bold" text-anchor="start" fill="#1a1a1a" textLength="11.5" lengthAdjust="spacingAndGlyphs">M</text>
<text x="974.2" y="2020.9" font-family='"Liberation Sans", Arial, sans-serif' font-size="14" font-weight="bold" text-anchor="start" fill="#1a1a1a" textLength="39.4" lengthAdjust="spacingAndGlyphs">M+H2</text>
<text x="1019.9" y="2009.4" font-family='"Liberation Sans", Arial, sans-serif' font-size="14" font-weight="bold" text-anchor="start" fill="#1a1a1a" textLength="46.6" lengthAdjust="spacingAndGlyphs">H2+H3</text>
<text x="1012.7" y="2035.2" font-family='"Liberation Sans", Arial, sans-serif' font-size="14" font-weight="bold" text-anchor="start" fill="#1a1a1a" textLength="16.5" lengthAdjust="spacingAndGlyphs">H2</text>
<text x="850.4" y="2061.6" font-family='"Liberation Sans", Arial, sans-serif' font-size="14" font-weight="bold" text-anchor="start" fill="#1a1a1a" textLength="18.7" lengthAdjust="spacingAndGlyphs">H1</text>
<text x="1107.8" y="1893" font-family='"Liberation Serif", "Times New Roman", serif' font-size="30" font-weight="normal" text-anchor="start" fill="#1a1a1a" textLength="40.8" lengthAdjust="spacingAndGlyphs">(f)</text>
<path d="M1558.3,2051.37 L1556.27,2051.89 L1553.45,2052.63 L1550.12,2053.49 L1546.53,2054.39 L1542.93,2055.22 L1539.6,2055.89 L1536.35,2056.33 L1532.95,2056.6 L1529.55,2056.8 L1526.3,2057.05 L1523.37,2057.47 L1520.9,2058.16 L1518.97,2059.14 L1517.46,2060.34 L1516.27,2061.69 L1515.28,2063.17 L1514.36,2064.72 L1513.42,2066.3 L1512.5,2067.58 L1511.72,2068.53 L1511.01,2069.55 L1510.34,2071.06 L1509.67,2073.46 L1508.93,2077.16 L1508.11,2082.39 L1507.23,2088.86 L1506.34,2096.22 L1505.48,2104.13 L1504.71,2112.22 L1504.07,2120.15 L1503.59,2129.21 L1503.23,2139.93 L1502.95,2150.84 L1502.71,2160.46 L1502.48,2167.31 L1502.2,2169.93 L1501.93,2167.18 L1501.72,2160.04 L1501.5,2150.13 L1501.23,2139.09 L1500.86,2128.55 L1500.33,2120.15 L1499.61,2113.61 L1498.74,2107.58 L1497.76,2102.05 L1496.73,2097.02 L1495.7,2092.5 L1494.72,2088.48 L1493.79,2085.05 L1492.85,2082.24 L1491.91,2079.93 L1490.98,2078.02 L1490.05,2076.38 L1489.11,2074.9 L1488.28,2073.69 L1487.59,2072.86 L1486.89,2072.3 L1486.06,2071.92 L1484.98,2071.61 L1483.5,2071.28 L1481.5,2070.91 L1479.07,2070.58 L1476.37,2070.32 L1473.6,2070.17 L1470.93,2070.18 L1468.54,2070.38 L1466.45,2070.77 L1464.52,2071.35 L1462.7,2072.07 L1460.92,2072.92 L1459.15,2073.87 L1457.32,2074.9 L1455.43,2076.05 L1453.51,2077.35 L1451.59,2078.75 L1449.7,2080.2 L1447.86,2081.65 L1446.1,2083.05 L1444.43,2084.58 L1442.84,2086.33 L1441.31,2088.08 L1439.8,2089.61 L1438.29,2090.72 L1436.75,2091.19 L1435.3,2090.87 L1433.98,2089.92 L1432.66,2088.53 L1431.21,2086.93 L1429.5,2085.33 L1427.4,2083.95 L1424.82,2082.68 L1421.86,2081.34 L1418.63,2079.99 L1415.28,2078.72 L1411.92,2077.6 L1408.7,2076.71 L1405.58,2076 L1402.47,2075.4 L1399.35,2074.96 L1396.23,2074.7 L1393.12,2074.67 L1390,2074.9 L1386.88,2075.51 L1383.77,2076.48 L1380.65,2077.67 L1377.53,2078.96 L1374.42,2080.19 L1371.3,2081.24 L1368.18,2082.14 L1365.07,2083.01 L1361.95,2083.84 L1358.83,2084.59 L1355.72,2085.24 L1352.6,2085.76 L1349.48,2086.08 L1346.37,2086.2 L1343.25,2086.21 L1340.13,2086.23 L1337.02,2086.35 L1333.9,2086.66 L1330.65,2087.23 L1327.25,2087.97 L1323.85,2088.81 L1320.6,2089.68 L1317.67,2090.5 L1315.2,2091.19 L1313.35,2091.89 L1312.01,2092.7 L1310.99,2093.45 L1310.07,2094.01 L1309.05,2094.21 L1307.72,2093.91 L1306.15,2092.99 L1304.53,2091.56 L1302.81,2089.78 L1300.93,2087.8 L1298.85,2085.81 L1296.5,2083.95 L1293.82,2082.13 L1290.82,2080.2 L1287.62,2078.24 L1284.31,2076.34 L1281,2074.6 L1277.8,2073.09 L1274.68,2071.83 L1271.57,2070.74 L1268.45,2069.81 L1265.33,2069 L1262.22,2068.29 L1259.1,2067.66 L1255.98,2067.17 L1252.87,2066.86 L1249.75,2066.64 L1246.63,2066.45 L1243.52,2066.21 L1240.4,2065.85 L1237.52,2065.35 L1234.93,2064.78 L1232.34,2064.15 L1229.46,2063.5 L1226.01,2062.85 L1221.7,2062.23 L1215.89,2061.58 L1208.68,2060.89 L1200.9,2060.19 L1193.37,2059.55 L1186.94,2059 L1182.43,2058.61" fill="none" stroke="#111111" stroke-width="2.6" stroke-linejoin="round" stroke-linecap="round"/>
<path d="M1558.3,2051.37 L1556.86,2051.54 L1554.89,2051.76 L1552.55,2052.03 L1549.99,2052.34 L1547.37,2052.66 L1544.84,2053 L1542.35,2053.37 L1539.77,2053.79 L1537.12,2054.24 L1534.45,2054.68 L1531.77,2055.09 L1529.13,2055.44 L1526.39,2055.74 L1523.5,2056.01 L1520.62,2056.25 L1517.88,2056.45 L1515.43,2056.64 L1513.42,2056.8 L1511.92,2056.79 L1510.83,2056.58 L1510.03,2056.35 L1509.4,2056.26 L1508.83,2056.51 L1508.18,2057.25 L1507.49,2057.92 L1506.84,2058.26 L1506.24,2058.92 L1505.7,2060.57 L1505.23,2063.87 L1504.82,2069.47 L1504.51,2078.13 L1504.32,2089.48 L1504.19,2102.47 L1504.07,2116.08 L1503.92,2129.25 L1503.7,2140.97 L1503.39,2152.51 L1503.03,2164.96 L1502.64,2177 L1502.24,2187.25 L1501.84,2194.4 L1501.45,2197.08 L1501.13,2194.18 L1500.86,2186.55 L1500.59,2175.81 L1500.26,2163.56 L1499.82,2151.41 L1499.21,2140.97 L1498.36,2131.56 L1497.3,2121.76 L1496.12,2112.06 L1494.93,2102.96 L1493.81,2094.93 L1492.85,2088.48 L1492.1,2083.85 L1491.48,2080.7 L1490.93,2078.63 L1490.4,2077.25 L1489.81,2076.14 L1489.11,2074.9 L1488.39,2073.69 L1487.72,2072.86 L1487.01,2072.3 L1486.13,2071.92 L1485,2071.61 L1483.5,2071.28 L1481.5,2070.91 L1479.07,2070.58 L1476.37,2070.32 L1473.6,2070.17 L1470.93,2070.18 L1468.54,2070.38 L1466.45,2070.77 L1464.52,2071.35 L1462.7,2072.07 L1460.92,2072.92 L1459.15,2073.87 L1457.32,2074.9 L1455.43,2076.05 L1453.51,2077.35 L1451.59,2078.75 L1449.7,2080.2 L1447.86,2081.65 L1446.1,2083.05 L1444.43,2084.58 L1442.84,2086.33 L1441.31,2088.08 L1439.8,2089.61 L1438.29,2090.72 L1436.75,2091.19 L1435.3,2090.87 L1433.98,2089.92 L1432.66,2088.53 L1431.21,2086.93 L1429.5,2085.33 L1427.4,2083.95 L1424.82,2082.68 L1421.86,2081.34 L1418.63,2079.99 L1415.28,2078.72 L1411.92,2077.6 L1408.7,2076.71 L1405.58,2076 L1402.47,2075.4 L1399.35,2074.96 L1396.23,2074.7 L1393.12,2074.67 L1390,2074.9 L1386.88,2075.51 L1383.77,2076.48 L1380.65,2077.67 L1377.53,2078.96 L1374.42,2080.19 L1371.3,2081.24 L1368.18,2082.14 L1365.07,2083.01 L1361.95,2083.84 L1358.83,2084.59 L1355.72,2085.24 L1352.6,2085.76 L1349.48,2086.1 L1346.37,2086.26 L1343.25,2086.33 L1340.13,2086.36 L1337.02,2086.45 L1333.9,2086.66 L1330.65,2087 L1327.25,2087.4 L1323.85,2087.85 L1320.6,2088.34 L1317.67,2088.85 L1315.2,2089.38 L1313.35,2090.08 L1312.01,2090.99 L1310.99,2091.93 L1310.07,2092.7 L1309.05,2093.12 L1307.72,2093 L1306.15,2092.25 L1304.53,2090.99 L1302.81,2089.38 L1300.93,2087.57 L1298.85,2085.71 L1296.5,2083.95 L1293.82,2082.18 L1290.82,2080.26 L1287.62,2078.29 L1284.31,2076.37 L1281,2074.61 L1277.8,2073.09 L1274.68,2071.83 L1271.57,2070.74 L1268.45,2069.81 L1265.33,2069 L1262.22,2068.29 L1259.1,2067.66 L1255.98,2067.17 L1252.87,2066.86 L1249.75,2066.64 L1246.63,2066.45 L1243.52,2066.21 L1240.4,2065.85 L1237.52,2065.35 L1234.93,2064.78 L1232.34,2064.15 L1229.46,2063.5 L1226.01,2062.85 L1221.7,2062.23 L1215.89,2061.58 L1208.68,2060.89 L1200.9,2060.19 L1193.37,2059.55 L1186.94,2059 L1182.43,2058.61" fill="none" stroke="#ff1414" stroke-width="2.6" stroke-linejoin="round" stroke-linecap="round"/>
<path d="M1558.3,2051.37 L1556.86,2051.54 L1554.89,2051.76 L1552.55,2052.03 L1549.99,2052.34 L1547.37,2052.66 L1544.84,2053 L1542.35,2053.37 L1539.77,2053.79 L1537.12,2054.24 L1534.45,2054.68 L1531.77,2055.09 L1529.13,2055.44 L1526.39,2055.74 L1523.5,2056.01 L1520.62,2056.25 L1517.88,2056.45 L1515.43,2056.64 L1513.42,2056.8 L1511.92,2056.79 L1510.83,2056.58 L1510.03,2056.35 L1509.4,2056.26 L1508.83,2056.51 L1508.18,2057.25 L1507.49,2058.06 L1506.85,2058.7 L1506.27,2059.67 L1505.73,2061.46 L1505.25,2064.56 L1504.82,2069.47 L1504.47,2076.79 L1504.21,2086.24 L1504,2097 L1503.81,2108.26 L1503.59,2119.21 L1503.32,2129.02 L1502.99,2138.82 L1502.63,2149.48 L1502.25,2159.82 L1501.85,2168.67 L1501.46,2174.85 L1501.08,2177.16 L1500.75,2174.63 L1500.47,2167.97 L1500.19,2158.64 L1499.86,2148.07 L1499.42,2137.72 L1498.83,2129.02 L1498.03,2121.51 L1497.03,2113.94 L1495.94,2106.59 L1494.82,2099.71 L1493.76,2093.58 L1492.85,2088.48 L1492.12,2084.54 L1491.51,2081.58 L1490.96,2079.38 L1490.41,2077.69 L1489.82,2076.27 L1489.11,2074.9 L1488.39,2073.69 L1487.72,2072.86 L1487.01,2072.3 L1486.13,2071.92 L1485,2071.61 L1483.5,2071.28 L1481.5,2070.91 L1479.07,2070.58 L1476.37,2070.32 L1473.6,2070.17 L1470.93,2070.18 L1468.54,2070.38 L1466.45,2070.77 L1464.52,2071.35 L1462.7,2072.07 L1460.92,2072.92 L1459.15,2073.87 L1457.32,2074.9 L1455.43,2076.05 L1453.51,2077.35 L1451.59,2078.75 L1449.7,2080.2 L1447.86,2081.65 L1446.1,2083.05 L1444.43,2084.58 L1442.84,2086.33 L1441.31,2088.08 L1439.8,2089.61 L1438.29,2090.72 L1436.75,2091.19 L1435.3,2090.87 L1433.98,2089.92 L1432.66,2088.53 L1431.21,2086.93 L1429.5,2085.33 L1427.4,2083.95 L1424.82,2082.68 L1421.86,2081.34 L1418.63,2079.99 L1415.28,2078.72 L1411.92,2077.6 L1408.7,2076.71 L1405.58,2076 L1402.47,2075.4 L1399.35,2074.96 L1396.23,2074.7 L1393.12,2074.67 L1390,2074.9 L1386.88,2075.51 L1383.77,2076.48 L1380.65,2077.67 L1377.53,2078.96 L1374.42,2080.19 L1371.3,2081.24 L1368.18,2082.14 L1365.07,2083.01 L1361.95,2083.84 L1358.83,2084.59 L1355.72,2085.24 L1352.6,2085.76 L1349.48,2086.1 L1346.37,2086.26 L1343.25,2086.33 L1340.13,2086.36 L1337.02,2086.45 L1333.9,2086.66 L1330.65,2087.01 L1327.25,2087.44 L1323.85,2087.91 L1320.6,2088.41 L1317.67,2088.91 L1315.2,2089.38 L1313.35,2089.96 L1312.01,2090.69 L1310.99,2091.42 L1310.07,2091.99 L1309.05,2092.27 L1307.72,2092.1 L1306.15,2091.4 L1304.53,2090.29 L1302.81,2088.87 L1300.93,2087.27 L1298.85,2085.59 L1296.5,2083.95 L1293.82,2082.23 L1290.82,2080.33 L1287.62,2078.35 L1284.31,2076.41 L1281,2074.62 L1277.8,2073.09 L1274.68,2071.83 L1271.57,2070.74 L1268.45,2069.81 L1265.33,2069 L1262.22,2068.29 L1259.1,2067.66 L1255.98,2067.17 L1252.87,2066.86 L1249.75,2066.64 L1246.63,2066.45 L1243.52,2066.21 L1240.4,2065.85 L1237.52,2065.35 L1234.93,2064.78 L1232.34,2064.15 L1229.46,2063.5 L1226.01,2062.85 L1221.7,2062.23 L1215.89,2061.58 L1208.68,2060.89 L1200.9,2060.19 L1193.37,2059.55 L1186.94,2059 L1182.43,2058.61" fill="none" stroke="#1414ff" stroke-width="2.6" stroke-linejoin="round" stroke-linecap="round"/>
<path d="M1558.3,2051.37 L1556.86,2051.54 L1554.89,2051.76 L1552.55,2052.03 L1549.99,2052.34 L1547.37,2052.66 L1544.84,2053 L1542.35,2053.37 L1539.77,2053.79 L1537.12,2054.24 L1534.45,2054.68 L1531.77,2055.09 L1529.13,2055.44 L1526.39,2055.74 L1523.5,2056.01 L1520.62,2056.25 L1517.88,2056.45 L1515.43,2056.64 L1513.42,2056.8 L1511.92,2056.79 L1510.83,2056.58 L1510.03,2056.35 L1509.4,2056.26 L1508.83,2056.51 L1508.18,2057.25 L1507.5,2058.17 L1506.87,2059.06 L1506.29,2060.28 L1505.76,2062.18 L1505.27,2065.12 L1504.82,2069.47 L1504.42,2075.69 L1504.1,2083.58 L1503.81,2092.52 L1503.54,2101.87 L1503.26,2110.99 L1502.95,2119.25 L1502.6,2127.62 L1502.23,2136.81 L1501.85,2145.77 L1501.47,2153.47 L1501.08,2158.85 L1500.7,2160.88 L1500.37,2158.63 L1500.08,2152.76 L1499.79,2144.59 L1499.46,2135.4 L1499.03,2126.52 L1498.46,2119.25 L1497.7,2113.29 L1496.77,2107.55 L1495.75,2102.11 L1494.71,2097.06 L1493.72,2092.48 L1492.85,2088.48 L1492.14,2085.1 L1491.53,2082.31 L1490.98,2079.99 L1490.43,2078.05 L1489.82,2076.39 L1489.11,2074.9 L1488.39,2073.69 L1487.72,2072.86 L1487.01,2072.3 L1486.13,2071.92 L1485,2071.61 L1483.5,2071.28 L1481.5,2070.91 L1479.07,2070.58 L1476.37,2070.32 L1473.6,2070.17 L1470.93,2070.18 L1468.54,2070.38 L1466.45,2070.77 L1464.52,2071.35 L1462.7,2072.07 L1460.92,2072.92 L1459.15,2073.87 L1457.32,2074.9 L1455.43,2076.05 L1453.51,2077.35 L1451.59,2078.75 L1449.7,2080.2 L1447.86,2081.65 L1446.1,2083.05 L1444.43,2084.58 L1442.84,2086.33 L1441.31,2088.08 L1439.8,2089.61 L1438.29,2090.72 L1436.75,2091.19 L1435.3,2090.87 L1433.98,2089.92 L1432.66,2088.53 L1431.21,2086.93 L1429.5,2085.33 L1427.4,2083.95 L1424.82,2082.68 L1421.86,2081.34 L1418.63,2079.99 L1415.28,2078.72 L1411.92,2077.6 L1408.7,2076.71 L1405.58,2076 L1402.47,2075.4 L1399.35,2074.96 L1396.23,2074.7 L1393.12,2074.67 L1390,2074.9 L1386.88,2075.51 L1383.77,2076.48 L1380.65,2077.67 L1377.53,2078.96 L1374.42,2080.19 L1371.3,2081.24 L1368.18,2082.14 L1365.07,2083.01 L1361.95,2083.84 L1358.83,2084.59 L1355.72,2085.24 L1352.6,2085.76 L1349.48,2086.1 L1346.37,2086.26 L1343.25,2086.33 L1340.13,2086.36 L1337.02,2086.45 L1333.9,2086.66 L1330.65,2087.02 L1327.25,2087.47 L1323.85,2087.97 L1320.6,2088.47 L1317.67,2088.96 L1315.2,2089.38 L1313.35,2089.84 L1312.01,2090.39 L1310.99,2090.91 L1310.07,2091.29 L1309.05,2091.42 L1307.72,2091.19 L1306.15,2090.55 L1304.53,2089.58 L1302.81,2088.36 L1300.93,2086.97 L1298.85,2085.47 L1296.5,2083.95 L1293.82,2082.29 L1290.82,2080.4 L1287.62,2078.41 L1284.31,2076.44 L1281,2074.63 L1277.8,2073.09 L1274.68,2071.83 L1271.57,2070.74 L1268.45,2069.81 L1265.33,2069 L1262.22,2068.29 L1259.1,2067.66 L1255.98,2067.17 L1252.87,2066.86 L1249.75,2066.64 L1246.63,2066.45 L1243.52,2066.21 L1240.4,2065.85 L1237.52,2065.35 L1234.93,2064.78 L1232.34,2064.15 L1229.46,2063.5 L1226.01,2062.85 L1221.7,2062.23 L1215.89,2061.58 L1208.68,2060.89 L1200.9,2060.19 L1193.37,2059.55 L1186.94,2059 L1182.43,2058.61" fill="none" stroke="#128a12" stroke-width="2.6" stroke-linejoin="round" stroke-linecap="round"/>
<path d="M1558.3,2051.37 L1556.86,2051.54 L1554.89,2051.76 L1552.55,2052.03 L1549.99,2052.34 L1547.37,2052.66 L1544.84,2053 L1542.35,2053.37 L1539.77,2053.79 L1537.12,2054.24 L1534.45,2054.68 L1531.77,2055.09 L1529.13,2055.44 L1526.39,2055.74 L1523.5,2056.01 L1520.62,2056.25 L1517.88,2056.45 L1515.43,2056.64 L1513.42,2056.8 L1511.92,2056.79 L1510.83,2056.58 L1510.03,2056.35 L1509.4,2056.26 L1508.83,2056.51 L1508.18,2057.25 L1507.51,2058.31 L1506.92,2059.5 L1506.38,2061.03 L1505.87,2063.06 L1505.36,2065.82 L1504.82,2069.47 L1504.24,2074.34 L1503.65,2080.34 L1503.06,2087.04 L1502.49,2094.05 L1501.95,2100.94 L1501.45,2107.3 L1501.01,2113.93 L1500.62,2121.32 L1500.26,2128.6 L1499.91,2134.88 L1499.57,2139.3 L1499.21,2140.97 L1498.86,2139.08 L1498.53,2134.18 L1498.2,2127.41 L1497.85,2119.92 L1497.45,2112.83 L1496.96,2107.3 L1496.38,2103.24 L1495.72,2099.73 L1495,2096.63 L1494.26,2093.81 L1493.54,2091.14 L1492.85,2088.48 L1492.23,2085.79 L1491.64,2083.19 L1491.07,2080.74 L1490.48,2078.49 L1489.84,2076.53 L1489.11,2074.9 L1488.39,2073.69 L1487.72,2072.86 L1487.01,2072.3 L1486.13,2071.92 L1485,2071.61 L1483.5,2071.28 L1481.5,2070.91 L1479.07,2070.58 L1476.37,2070.32 L1473.6,2070.17 L1470.93,2070.18 L1468.54,2070.38 L1466.45,2070.77 L1464.52,2071.35 L1462.7,2072.07 L1460.92,2072.92 L1459.15,2073.87 L1457.32,2074.9 L1455.43,2076.05 L1453.51,2077.35 L1451.59,2078.75 L1449.7,2080.2 L1447.86,2081.65 L1446.1,2083.05 L1444.43,2084.58 L1442.84,2086.33 L1441.31,2088.08 L1439.8,2089.61 L1438.29,2090.72 L1436.75,2091.19 L1435.3,2090.87 L1433.98,2089.92 L1432.66,2088.53 L1431.21,2086.93 L1429.5,2085.33 L1427.4,2083.95 L1424.82,2082.68 L1421.86,2081.34 L1418.63,2079.99 L1415.28,2078.72 L1411.92,2077.6 L1408.7,2076.71 L1405.58,2076 L1402.47,2075.4 L1399.35,2074.96 L1396.23,2074.7 L1393.12,2074.67 L1390,2074.9 L1386.88,2075.51 L1383.77,2076.48 L1380.65,2077.67 L1377.53,2078.96 L1374.42,2080.19 L1371.3,2081.24 L1368.18,2082.14 L1365.07,2083.01 L1361.95,2083.84 L1358.83,2084.59 L1355.72,2085.24 L1352.6,2085.76 L1349.48,2086.1 L1346.37,2086.26 L1343.25,2086.33 L1340.13,2086.36 L1337.02,2086.45 L1333.9,2086.66 L1330.65,2087.04 L1327.25,2087.54 L1323.85,2088.08 L1320.6,2088.61 L1317.67,2089.06 L1315.2,2089.38 L1313.35,2089.6 L1312.01,2089.78 L1310.99,2089.89 L1310.07,2089.88 L1309.05,2089.73 L1307.72,2089.38 L1306.15,2088.85 L1304.53,2088.17 L1302.81,2087.34 L1300.93,2086.36 L1298.85,2085.23 L1296.5,2083.95 L1293.82,2082.39 L1290.82,2080.53 L1287.62,2078.52 L1284.31,2076.51 L1281,2074.65 L1277.8,2073.09 L1274.68,2071.83 L1271.57,2070.74 L1268.45,2069.81 L1265.33,2069 L1262.22,2068.29 L1259.1,2067.66 L1255.98,2067.17 L1252.87,2066.86 L1249.75,2066.64 L1246.63,2066.45 L1243.52,2066.21 L1240.4,2065.85 L1237.52,2065.35 L1234.93,2064.78 L1232.34,2064.15 L1229.46,2063.5 L1226.01,2062.85 L1221.7,2062.23 L1215.89,2061.58 L1208.68,2060.89 L1200.9,2060.19 L1193.37,2059.55 L1186.94,2059 L1182.43,2058.61" fill="none" stroke="#ff1cff" stroke-width="2.6" stroke-linejoin="round" stroke-linecap="round"/>
<path d="M1266.58,2056.8 L1267.8,2056.84 L1269.49,2057 L1271.49,2057.14 L1273.64,2057.1 L1275.8,2056.74 L1277.8,2055.89 L1279.67,2054.63 L1281.54,2053.08 L1283.41,2051.2 L1285.28,2048.96 L1287.15,2046.31 L1289.02,2043.23 L1290.91,2039.4 L1292.83,2034.81 L1294.75,2029.82 L1296.64,2024.79 L1298.48,2020.09 L1300.24,2016.08 L1301.91,2012.71 L1303.5,2009.71 L1305.03,2007.03 L1306.54,2004.65 L1308.05,2002.54 L1309.59,2000.69 L1311.19,1999.11 L1312.85,1997.84 L1314.5,1996.84 L1316.1,1996.1 L1317.6,1995.58 L1318.94,1995.26 L1320.05,1995.14 L1320.95,1995.23 L1321.74,1995.54 L1322.54,1996.1 L1323.44,1996.9 L1324.55,1997.98 L1325.87,1999.41 L1327.32,2001.23 L1328.87,2003.29 L1330.51,2005.48 L1332.19,2007.67 L1333.9,2009.74 L1335.66,2011.8 L1337.5,2013.96 L1339.39,2016.13 L1341.31,2018.19 L1343.23,2020.02 L1345.12,2021.51 L1346.95,2022.64 L1348.72,2023.5 L1350.5,2024.14 L1352.32,2024.59 L1354.25,2024.9 L1356.34,2025.13 L1358.62,2025.11 L1361.05,2024.81 L1363.59,2024.36 L1366.17,2023.94 L1368.76,2023.68 L1371.3,2023.77 L1373.71,2024.19 L1376.01,2024.82 L1378.31,2025.63 L1380.72,2026.58 L1383.33,2027.63 L1386.26,2028.75 L1389.61,2030.09 L1393.32,2031.73 L1397.25,2033.47 L1401.22,2035.11 L1405.09,2036.47 L1408.7,2037.34 L1412.08,2037.69 L1415.35,2037.66 L1418.52,2037.34 L1421.58,2036.82 L1424.54,2036.19 L1427.4,2035.53 L1430.15,2034.81 L1432.8,2033.94 L1435.35,2032.96 L1437.79,2031.9 L1440.13,2030.78 L1442.36,2029.65 L1444.49,2028.33 L1446.52,2026.75 L1448.44,2025.13 L1450.26,2023.65 L1451.97,2022.53 L1453.58,2021.96 L1455,2021.99 L1456.21,2022.46 L1457.32,2023.29 L1458.43,2024.37 L1459.64,2025.62 L1461.06,2026.94 L1462.71,2028.47 L1464.52,2030.32 L1466.44,2032.34 L1468.4,2034.36 L1470.37,2036.23 L1472.28,2037.8 L1474.15,2039.08 L1476.02,2040.21 L1477.89,2041.19 L1479.76,2042.02 L1481.63,2042.7 L1483.5,2043.23 L1485.39,2043.59 L1487.31,2043.79 L1489.23,2043.85 L1491.12,2043.76 L1492.96,2043.55 L1494.72,2043.23 L1496.43,2042.83 L1498.11,2042.35 L1499.75,2041.75 L1501.3,2040.97 L1502.75,2039.97 L1504.07,2038.7 L1505.23,2037.46 L1506.26,2036.34 L1507.18,2035 L1508.03,2033.09 L1508.85,2030.25 L1509.68,2026.12 L1510.51,2020.15 L1511.31,2012.5 L1512.09,2003.92 L1512.82,1995.16 L1513.52,1986.97 L1514.17,1980.1 L1514.74,1974.01 L1515.25,1967.98 L1515.71,1962.52 L1516.16,1958.13 L1516.64,1955.3 L1517.16,1954.54 L1517.72,1956.46 L1518.28,1960.8 L1518.87,1966.7 L1519.49,1973.31 L1520.16,1979.76 L1520.9,1985.21 L1521.68,1989.73 L1522.49,1994.02 L1523.35,1998.16 L1524.29,2002.23 L1525.34,2006.3 L1526.51,2010.46 L1527.83,2014.9 L1529.28,2019.59 L1530.83,2024.29 L1532.47,2028.76 L1534.15,2032.73 L1535.86,2035.99 L1537.62,2038.38 L1539.46,2040.1 L1541.35,2041.34 L1543.27,2042.29 L1545.19,2043.16 L1547.08,2044.13 L1549.08,2045.2 L1551.24,2046.21 L1553.39,2047.13 L1555.39,2047.93 L1557.08,2048.6 L1558.3,2049.11" fill="none" stroke="#111111" stroke-width="2.6" stroke-linejoin="round" stroke-linecap="round"/>
<path d="M1266.58,2056.8 L1269.19,2056.8 L1272.95,2056.85 L1277.33,2056.88 L1281.82,2056.85 L1285.89,2056.69 L1289.02,2056.35 L1291.09,2056.03 L1292.48,2055.81 L1293.46,2055.47 L1294.28,2054.77 L1295.21,2053.48 L1296.5,2051.37 L1298.15,2048.21 L1299.96,2044.13 L1301.88,2039.46 L1303.84,2034.53 L1305.81,2029.64 L1307.72,2025.13 L1309.65,2020.75 L1311.67,2016.21 L1313.68,2011.72 L1315.62,2007.49 L1317.39,2003.75 L1318.94,2000.69 L1320.16,1998.26 L1321.09,1996.27 L1321.86,1994.75 L1322.61,1993.75 L1323.46,1993.31 L1324.55,1993.45 L1325.87,1994.38 L1327.32,1996.1 L1328.87,1998.37 L1330.51,2000.96 L1332.19,2003.62 L1333.9,2006.12 L1335.66,2008.66 L1337.5,2011.48 L1339.39,2014.38 L1341.31,2017.15 L1343.23,2019.59 L1345.12,2021.51 L1346.95,2022.85 L1348.72,2023.77 L1350.5,2024.36 L1352.32,2024.72 L1354.25,2024.95 L1356.34,2025.13 L1358.62,2025.11 L1361.05,2024.81 L1363.59,2024.36 L1366.17,2023.94 L1368.76,2023.68 L1371.3,2023.77 L1373.71,2024.19 L1376.01,2024.82 L1378.31,2025.63 L1380.72,2026.58 L1383.33,2027.63 L1386.26,2028.75 L1389.61,2030.09 L1393.32,2031.73 L1397.25,2033.47 L1401.22,2035.11 L1405.09,2036.47 L1408.7,2037.34 L1412.08,2037.69 L1415.35,2037.66 L1418.52,2037.34 L1421.58,2036.82 L1424.54,2036.19 L1427.4,2035.53 L1430.15,2034.81 L1432.8,2033.94 L1435.35,2032.96 L1437.79,2031.9 L1440.13,2030.78 L1442.36,2029.65 L1444.49,2028.33 L1446.52,2026.75 L1448.44,2025.13 L1450.26,2023.65 L1451.97,2022.53 L1453.58,2021.96 L1455,2021.99 L1456.21,2022.46 L1457.32,2023.29 L1458.43,2024.37 L1459.64,2025.62 L1461.06,2026.94 L1462.71,2028.47 L1464.52,2030.32 L1466.44,2032.34 L1468.4,2034.36 L1470.37,2036.23 L1472.28,2037.8 L1474.15,2039.08 L1476.02,2040.21 L1477.89,2041.19 L1479.76,2042.02 L1481.63,2042.7 L1483.5,2043.23 L1485.39,2043.59 L1487.31,2043.79 L1489.23,2043.85 L1491.12,2043.76 L1492.96,2043.55 L1494.72,2043.23 L1496.43,2042.75 L1498.11,2042.12 L1499.75,2041.36 L1501.3,2040.51 L1502.75,2039.61 L1504.07,2038.7 L1505.23,2038.1 L1506.26,2037.85 L1507.18,2037.54 L1508.03,2036.79 L1508.85,2035.2 L1509.68,2032.37 L1510.51,2027.82 L1511.31,2021.79 L1512.09,2014.92 L1512.82,2007.85 L1513.52,2001.23 L1514.17,1995.71 L1514.74,1990.86 L1515.25,1986.06 L1515.71,1981.71 L1516.16,1978.22 L1516.64,1975.96 L1517.16,1975.35 L1517.72,1976.89 L1518.28,1980.38 L1518.87,1985.11 L1519.49,1990.38 L1520.16,1995.51 L1520.9,1999.79 L1521.68,2003.29 L1522.49,2006.59 L1523.35,2009.74 L1524.29,2012.79 L1525.34,2015.79 L1526.51,2018.79 L1527.83,2021.87 L1529.28,2024.99 L1530.83,2028.07 L1532.47,2030.99 L1534.15,2033.66 L1535.86,2035.99 L1537.62,2037.9 L1539.46,2039.49 L1541.35,2040.82 L1543.27,2041.98 L1545.19,2043.06 L1547.08,2044.13 L1549.08,2045.2 L1551.24,2046.21 L1553.39,2047.13 L1555.39,2047.93 L1557.08,2048.6 L1558.3,2049.11" fill="none" stroke="#ff1414" stroke-width="2.6" stroke-linejoin="round" stroke-linecap="round"/>
<path d="M1266.58,2056.8 L1270.09,2056.8 L1275.17,2056.85 L1281.07,2056.88 L1287.08,2056.85 L1292.47,2056.69 L1296.5,2056.35 L1299.02,2056.03 L1300.59,2055.81 L1301.53,2055.47 L1302.18,2054.77 L1302.88,2053.48 L1303.98,2051.37 L1305.43,2048.29 L1306.96,2044.4 L1308.54,2039.92 L1310.14,2035.06 L1311.75,2030.06 L1313.33,2025.13 L1314.95,2019.9 L1316.65,2014.13 L1318.36,2008.21 L1319.98,2002.53 L1321.45,1997.48 L1322.68,1993.45 L1323.58,1990.28 L1324.2,1987.62 L1324.67,1985.59 L1325.1,1984.3 L1325.65,1983.87 L1326.42,1984.4 L1327.41,1986.31 L1328.5,1989.6 L1329.69,1993.73 L1330.99,1998.21 L1332.39,2002.51 L1333.9,2006.12 L1335.55,2009.19 L1337.36,2012.15 L1339.28,2014.94 L1341.24,2017.48 L1343.21,2019.7 L1345.12,2021.51 L1346.95,2022.85 L1348.72,2023.77 L1350.5,2024.36 L1352.32,2024.72 L1354.25,2024.95 L1356.34,2025.13 L1358.62,2025.11 L1361.05,2024.81 L1363.59,2024.36 L1366.17,2023.94 L1368.76,2023.68 L1371.3,2023.77 L1373.71,2024.19 L1376.01,2024.82 L1378.31,2025.63 L1380.72,2026.58 L1383.33,2027.63 L1386.26,2028.75 L1389.61,2030.09 L1393.32,2031.73 L1397.25,2033.47 L1401.22,2035.11 L1405.09,2036.47 L1408.7,2037.34 L1412.08,2037.69 L1415.35,2037.66 L1418.52,2037.34 L1421.58,2036.82 L1424.54,2036.19 L1427.4,2035.53 L1430.15,2034.81 L1432.8,2033.94 L1435.35,2032.96 L1437.79,2031.9 L1440.13,2030.78 L1442.36,2029.65 L1444.49,2028.33 L1446.52,2026.75 L1448.44,2025.13 L1450.26,2023.65 L1451.97,2022.53 L1453.58,2021.96 L1455,2021.99 L1456.21,2022.46 L1457.32,2023.29 L1458.43,2024.37 L1459.64,2025.62 L1461.06,2026.94 L1462.71,2028.47 L1464.52,2030.32 L1466.44,2032.34 L1468.4,2034.36 L1470.37,2036.23 L1472.28,2037.8 L1474.15,2039.08 L1476.02,2040.21 L1477.89,2041.19 L1479.76,2042.02 L1481.63,2042.7 L1483.5,2043.23 L1485.39,2043.59 L1487.31,2043.79 L1489.23,2043.85 L1491.12,2043.76 L1492.96,2043.55 L1494.72,2043.23 L1496.43,2042.7 L1498.11,2041.94 L1499.75,2041.05 L1501.3,2040.15 L1502.75,2039.33 L1504.07,2038.7 L1505.23,2038.6 L1506.26,2039.02 L1507.18,2039.53 L1508.03,2039.69 L1508.85,2039.07 L1509.68,2037.25 L1510.51,2033.83 L1511.31,2029.06 L1512.09,2023.52 L1512.82,2017.77 L1513.52,2012.39 L1514.17,2007.93 L1514.74,2004.05 L1515.25,2000.21 L1515.71,1996.73 L1516.16,1993.93 L1516.64,1992.13 L1517.16,1991.64 L1517.72,1992.89 L1518.28,1995.7 L1518.87,1999.51 L1519.49,2003.75 L1520.16,2007.83 L1520.9,2011.19 L1521.68,2013.9 L1522.49,2016.42 L1523.35,2018.8 L1524.29,2021.06 L1525.34,2023.21 L1526.51,2025.31 L1527.83,2027.31 L1529.28,2029.21 L1530.83,2031.02 L1532.47,2032.74 L1534.15,2034.39 L1535.86,2035.99 L1537.62,2037.53 L1539.46,2039.01 L1541.35,2040.41 L1543.27,2041.74 L1545.19,2042.99 L1547.08,2044.13 L1549.08,2045.2 L1551.24,2046.21 L1553.39,2047.13 L1555.39,2047.93 L1557.08,2048.6 L1558.3,2049.11" fill="none" stroke="#1414ff" stroke-width="2.6" stroke-linejoin="round" stroke-linecap="round"/>
<path d="M1266.58,2056.8 L1271,2056.8 L1277.38,2056.85 L1284.81,2056.88 L1292.34,2056.85 L1299.05,2056.69 L1303.98,2056.35 L1306.96,2056.03 L1308.69,2055.81 L1309.59,2055.47 L1310.07,2054.77 L1310.56,2053.48 L1311.46,2051.37 L1312.73,2048.39 L1314.02,2044.73 L1315.32,2040.48 L1316.59,2035.73 L1317.8,2030.58 L1318.94,2025.13 L1320.01,2018.86 L1321.05,2011.62 L1322.03,2003.97 L1322.94,1996.5 L1323.79,1989.78 L1324.55,1984.4 L1325.16,1980 L1325.62,1976.05 L1326,1972.86 L1326.39,1970.72 L1326.88,1969.95 L1327.54,1970.83 L1328.35,1974.11 L1329.23,1979.71 L1330.21,1986.66 L1331.3,1994.02 L1332.52,2000.82 L1333.9,2006.12 L1335.49,2009.97 L1337.28,2013.16 L1339.21,2015.79 L1341.2,2017.99 L1343.19,2019.85 L1345.12,2021.51 L1346.95,2022.85 L1348.72,2023.77 L1350.5,2024.36 L1352.32,2024.72 L1354.25,2024.95 L1356.34,2025.13 L1358.62,2025.11 L1361.05,2024.81 L1363.59,2024.36 L1366.17,2023.94 L1368.76,2023.68 L1371.3,2023.77 L1373.71,2024.19 L1376.01,2024.82 L1378.31,2025.63 L1380.72,2026.58 L1383.33,2027.63 L1386.26,2028.75 L1389.61,2030.09 L1393.32,2031.73 L1397.25,2033.47 L1401.22,2035.11 L1405.09,2036.47 L1408.7,2037.34 L1412.08,2037.69 L1415.35,2037.66 L1418.52,2037.34 L1421.58,2036.82 L1424.54,2036.19 L1427.4,2035.53 L1430.15,2034.81 L1432.8,2033.94 L1435.35,2032.96 L1437.79,2031.9 L1440.13,2030.78 L1442.36,2029.65 L1444.49,2028.33 L1446.52,2026.75 L1448.44,2025.13 L1450.26,2023.65 L1451.97,2022.53 L1453.58,2021.96 L1455,2021.99 L1456.21,2022.46 L1457.32,2023.29 L1458.43,2024.37 L1459.64,2025.62 L1461.06,2026.94 L1462.71,2028.47 L1464.52,2030.32 L1466.44,2032.34 L1468.4,2034.36 L1470.37,2036.23 L1472.28,2037.8 L1474.15,2039.08 L1476.02,2040.21 L1477.89,2041.19 L1479.76,2042.02 L1481.63,2042.7 L1483.5,2043.23 L1485.39,2043.59 L1487.31,2043.79 L1489.23,2043.85 L1491.12,2043.76 L1492.96,2043.55 L1494.72,2043.23 L1496.43,2042.69 L1498.11,2041.92 L1499.75,2041.02 L1501.3,2040.11 L1502.75,2039.3 L1504.07,2038.7 L1505.23,2038.5 L1506.26,2038.65 L1507.18,2038.9 L1508.03,2039 L1508.85,2038.72 L1509.68,2037.8 L1510.51,2036.08 L1511.31,2033.72 L1512.09,2030.98 L1512.82,2028.09 L1513.52,2025.3 L1514.17,2022.86 L1514.74,2020.48 L1515.25,2017.9 L1515.71,2015.42 L1516.16,2013.34 L1516.64,2011.95 L1517.16,2011.55 L1517.72,2012.44 L1518.28,2014.43 L1518.87,2017.12 L1519.49,2020.08 L1520.16,2022.89 L1520.9,2025.13 L1521.68,2026.86 L1522.49,2028.44 L1523.35,2029.88 L1524.29,2031.16 L1525.34,2032.29 L1526.51,2033.27 L1527.83,2033.97 L1529.28,2034.38 L1530.83,2034.63 L1532.47,2034.88 L1534.15,2035.28 L1535.86,2035.99 L1537.62,2037.06 L1539.46,2038.42 L1541.35,2039.92 L1543.27,2041.45 L1545.19,2042.89 L1547.08,2044.13 L1549.08,2045.2 L1551.24,2046.21 L1553.39,2047.13 L1555.39,2047.93 L1557.08,2048.6 L1558.3,2049.11" fill="none" stroke="#128a12" stroke-width="2.6" stroke-linejoin="round" stroke-linecap="round"/>
<path d="M1266.58,2056.8 L1272.6,2056.84 L1281.36,2056.93 L1291.52,2057.03 L1301.75,2057.07 L1310.71,2057.01 L1317.07,2056.8 L1320.53,2056.95 L1322.11,2057.6 L1322.42,2058.16 L1322.08,2058.01 L1321.71,2056.55 L1321.93,2053.18 L1322.63,2047.45 L1323.29,2039.74 L1323.92,2030.72 L1324.52,2021.07 L1325.1,2011.44 L1325.67,2002.5 L1326.19,1992.96 L1326.64,1982.02 L1327.07,1971.11 L1327.53,1961.64 L1328.04,1955.04 L1328.66,1952.73 L1329.34,1956.09 L1330.02,1964.29 L1330.77,1975.35 L1331.63,1987.32 L1332.66,1998.23 L1333.9,2006.12 L1335.42,2011.02 L1337.2,2014.5 L1339.14,2016.92 L1341.16,2018.66 L1343.18,2020.06 L1345.12,2021.51 L1346.95,2022.85 L1348.72,2023.77 L1350.5,2024.36 L1352.32,2024.72 L1354.25,2024.95 L1356.34,2025.13 L1358.62,2025.11 L1361.05,2024.81 L1363.59,2024.36 L1366.17,2023.94 L1368.76,2023.68 L1371.3,2023.77 L1373.71,2024.19 L1376.01,2024.82 L1378.31,2025.63 L1380.72,2026.58 L1383.33,2027.63 L1386.26,2028.75 L1389.61,2030.09 L1393.32,2031.73 L1397.25,2033.47 L1401.22,2035.11 L1405.09,2036.47 L1408.7,2037.34 L1412.08,2037.69 L1415.35,2037.66 L1418.52,2037.34 L1421.58,2036.82 L1424.54,2036.19 L1427.4,2035.53 L1430.15,2034.81 L1432.8,2033.94 L1435.35,2032.96 L1437.79,2031.9 L1440.13,2030.78 L1442.36,2029.65 L1444.49,2028.33 L1446.52,2026.75 L1448.44,2025.13 L1450.26,2023.65 L1451.97,2022.53 L1453.58,2021.96 L1455,2021.99 L1456.21,2022.46 L1457.32,2023.29 L1458.43,2024.37 L1459.64,2025.62 L1461.06,2026.94 L1462.71,2028.47 L1464.52,2030.32 L1466.44,2032.34 L1468.4,2034.36 L1470.37,2036.23 L1472.28,2037.8 L1474.15,2039.08 L1476.02,2040.21 L1477.89,2041.19 L1479.76,2042.02 L1481.63,2042.7 L1483.5,2043.23 L1485.39,2043.59 L1487.31,2043.79 L1489.23,2043.85 L1491.12,2043.76 L1492.96,2043.55 L1494.72,2043.23 L1496.43,2042.69 L1498.11,2041.92 L1499.75,2041.02 L1501.3,2040.11 L1502.75,2039.3 L1504.07,2038.7 L1505.23,2038.39 L1506.26,2038.3 L1507.18,2038.3 L1508.03,2038.3 L1508.85,2038.17 L1509.68,2037.8 L1510.51,2037.18 L1511.31,2036.42 L1512.09,2035.53 L1512.82,2034.54 L1513.52,2033.48 L1514.17,2032.37 L1514.74,2030.96 L1515.25,2029.19 L1515.71,2027.34 L1516.16,2025.71 L1516.64,2024.57 L1517.16,2024.22 L1517.72,2024.87 L1518.28,2026.35 L1518.87,2028.33 L1519.49,2030.47 L1520.16,2032.47 L1520.9,2033.99 L1521.68,2035.11 L1522.49,2036.09 L1523.35,2036.92 L1524.29,2037.59 L1525.34,2038.06 L1526.51,2038.34 L1527.83,2038.21 L1529.28,2037.66 L1530.83,2036.92 L1532.47,2036.24 L1534.15,2035.85 L1535.86,2035.99 L1537.62,2036.77 L1539.46,2038.04 L1541.35,2039.6 L1543.27,2041.26 L1545.19,2042.83 L1547.08,2044.13 L1549.08,2045.2 L1551.24,2046.21 L1553.39,2047.13 L1555.39,2047.93 L1557.08,2048.6 L1558.3,2049.11" fill="none" stroke="#ff1cff" stroke-width="2.6" stroke-linejoin="round" stroke-linecap="round"/>
<line x1="1592" y1="2057.8" x2="1604.4" y2="2058.3" stroke="#ff1cff" stroke-width="2.6" />
<line x1="1183.9" y1="1903.1" x2="1604.4" y2="1903.1" stroke="#1a1a1a" stroke-width="2.6" />
<line x1="1183.9" y1="2209.3" x2="1604.4" y2="2209.3" stroke="#1a1a1a" stroke-width="2.6" />
<line x1="1183.9" y1="1903.1" x2="1183.9" y2="2209.3" stroke="#1a1a1a" stroke-width="2.6" />
<line x1="1592" y1="1903.1" x2="1592" y2="2209.3" stroke="#1a1a1a" stroke-width="2.6" />
<line x1="1183.9" y1="2192.55" x2="1191.9" y2="2192.55" stroke="#1a1a1a" stroke-width="2.2" />
<line x1="1584" y1="2192.55" x2="1600" y2="2192.55" stroke="#1a1a1a" stroke-width="2.2" />
<line x1="1183.9" y1="2169.93" x2="1188.9" y2="2169.93" stroke="#1a1a1a" stroke-width="2.2" />
<line x1="1587" y1="2169.93" x2="1597" y2="2169.93" stroke="#1a1a1a" stroke-width="2.2" />
<line x1="1183.9" y1="2147.3" x2="1191.9" y2="2147.3" stroke="#1a1a1a" stroke-width="2.2" />
<line x1="1584" y1="2147.3" x2="1600" y2="2147.3" stroke="#1a1a1a" stroke-width="2.2" />
<line x1="1183.9" y1="2124.68" x2="1188.9" y2="2124.68" stroke="#1a1a1a" stroke-width="2.2" />
<line x1="1587" y1="2124.68" x2="1597" y2="2124.68" stroke="#1a1a1a" stroke-width="2.2" />
<line x1="1183.9" y1="2102.05" x2="1191.9" y2="2102.05" stroke="#1a1a1a" stroke-width="2.2" />
<line x1="1584" y1="2102.05" x2="1600" y2="2102.05" stroke="#1a1a1a" stroke-width="2.2" />
<line x1="1183.9" y1="2079.43" x2="1188.9" y2="2079.43" stroke="#1a1a1a" stroke-width="2.2" />
<line x1="1587" y1="2079.43" x2="1597" y2="2079.43" stroke="#1a1a1a" stroke-width="2.2" />
<line x1="1183.9" y1="2056.8" x2="1191.9" y2="2056.8" stroke="#1a1a1a" stroke-width="2.2" />
<line x1="1584" y1="2056.8" x2="1600" y2="2056.8" stroke="#1a1a1a" stroke-width="2.2" />
<line x1="1183.9" y1="2034.18" x2="1188.9" y2="2034.18" stroke="#1a1a1a" stroke-width="2.2" />
<line x1="1587" y1="2034.18" x2="1597" y2="2034.18" stroke="#1a1a1a" stroke-width="2.2" />
<line x1="1183.9" y1="2011.55" x2="1191.9" y2="2011.55" stroke="#1a1a1a" stroke-width="2.2" />
<line x1="1584" y1="2011.55" x2="1600" y2="2011.55" stroke="#1a1a1a" stroke-width="2.2" />
<line x1="1183.9" y1="1988.93" x2="1188.9" y2="1988.93" stroke="#1a1a1a" stroke-width="2.2" />
<line x1="1587" y1="1988.93" x2="1597" y2="1988.93" stroke="#1a1a1a" stroke-width="2.2" />
<line x1="1183.9" y1="1966.3" x2="1191.9" y2="1966.3" stroke="#1a1a1a" stroke-width="2.2" />
<line x1="1584" y1="1966.3" x2="1600" y2="1966.3" stroke="#1a1a1a" stroke-width="2.2" />
<line x1="1183.9" y1="1943.68" x2="1188.9" y2="1943.68" stroke="#1a1a1a" stroke-width="2.2" />
<line x1="1587" y1="1943.68" x2="1597" y2="1943.68" stroke="#1a1a1a" stroke-width="2.2" />
<line x1="1183.9" y1="1921.05" x2="1191.9" y2="1921.05" stroke="#1a1a1a" stroke-width="2.2" />
<line x1="1584" y1="1921.05" x2="1600" y2="1921.05" stroke="#1a1a1a" stroke-width="2.2" />
<line x1="1221.7" y1="2209.3" x2="1221.7" y2="2201.3" stroke="#1a1a1a" stroke-width="2.2" />
<line x1="1259.1" y1="2209.3" x2="1259.1" y2="2204.8" stroke="#1a1a1a" stroke-width="2.2" />
<line x1="1296.5" y1="2209.3" x2="1296.5" y2="2201.3" stroke="#1a1a1a" stroke-width="2.2" />
<line x1="1333.9" y1="2209.3" x2="1333.9" y2="2204.8" stroke="#1a1a1a" stroke-width="2.2" />
<line x1="1371.3" y1="2209.3" x2="1371.3" y2="2201.3" stroke="#1a1a1a" stroke-width="2.2" />
<line x1="1408.7" y1="2209.3" x2="1408.7" y2="2204.8" stroke="#1a1a1a" stroke-width="2.2" />
<line x1="1446.1" y1="2209.3" x2="1446.1" y2="2201.3" stroke="#1a1a1a" stroke-width="2.2" />
<line x1="1483.5" y1="2209.3" x2="1483.5" y2="2204.8" stroke="#1a1a1a" stroke-width="2.2" />
<line x1="1520.9" y1="2209.3" x2="1520.9" y2="2201.3" stroke="#1a1a1a" stroke-width="2.2" />
<line x1="1558.3" y1="2209.3" x2="1558.3" y2="2204.8" stroke="#1a1a1a" stroke-width="2.2" />
<text x="1176" y="1927.55" font-family='"Liberation Sans", Arial, sans-serif' font-size="18" font-weight="bold" text-anchor="end" fill="#1a1a1a" textLength="41" lengthAdjust="spacingAndGlyphs">1500</text>
<text x="1176" y="1972.8" font-family='"Liberation Sans", Arial, sans-serif' font-size="18" font-weight="bold" text-anchor="end" fill="#1a1a1a" textLength="41" lengthAdjust="spacingAndGlyphs">1000</text>
<text x="1176" y="2018.05" font-family='"Liberation Sans", Arial, sans-serif' font-size="18" font-weight="bold" text-anchor="end" fill="#1a1a1a" textLength="30" lengthAdjust="spacingAndGlyphs">500</text>
<text x="1176" y="2063.3" font-family='"Liberation Sans", Arial, sans-serif' font-size="18" font-weight="bold" text-anchor="end" fill="#1a1a1a" textLength="10" lengthAdjust="spacingAndGlyphs">0</text>
<text x="1176" y="2108.55" font-family='"Liberation Sans", Arial, sans-serif' font-size="18" font-weight="bold" text-anchor="end" fill="#1a1a1a" textLength="41" lengthAdjust="spacingAndGlyphs">-500</text>
<text x="1176" y="2153.8" font-family='"Liberation Sans", Arial, sans-serif' font-size="18" font-weight="bold" text-anchor="end" fill="#1a1a1a" textLength="48" lengthAdjust="spacingAndGlyphs">-1000</text>
<text x="1176" y="2199.05" font-family='"Liberation Sans", Arial, sans-serif' font-size="18" font-weight="bold" text-anchor="end" fill="#1a1a1a" textLength="48" lengthAdjust="spacingAndGlyphs">-1500</text>
<text x="1221.7" y="2232.5" font-family='"Liberation Sans", Arial, sans-serif' font-size="17.5" font-weight="bold" text-anchor="middle" fill="#1a1a1a" textLength="25.4" lengthAdjust="spacingAndGlyphs">3.4</text>
<text x="1296.5" y="2232.5" font-family='"Liberation Sans", Arial, sans-serif' font-size="17.5" font-weight="bold" text-anchor="middle" fill="#1a1a1a" textLength="25.4" lengthAdjust="spacingAndGlyphs">3.6</text>
<text x="1371.3" y="2232.5" font-family='"Liberation Sans", Arial, sans-serif' font-size="17.5" font-weight="bold" text-anchor="middle" fill="#1a1a1a" textLength="25.4" lengthAdjust="spacingAndGlyphs">3.8</text>
<text x="1446.1" y="2232.5" font-family='"Liberation Sans", Arial, sans-serif' font-size="17.5" font-weight="bold" text-anchor="middle" fill="#1a1a1a" textLength="25.4" lengthAdjust="spacingAndGlyphs">4.0</text>
<text x="1520.9" y="2232.5" font-family='"Liberation Sans", Arial, sans-serif' font-size="17.5" font-weight="bold" text-anchor="middle" fill="#1a1a1a" textLength="25.4" lengthAdjust="spacingAndGlyphs">4.2</text>
<text x="1281.6" y="2253.8" font-family='"Liberation Sans", Arial, sans-serif' font-size="20.5" font-weight="bold" fill="#1a1a1a" textLength="229.7" lengthAdjust="spacingAndGlyphs">Voltage / V <tspan font-size="16">(vs. Li</tspan><tspan font-size="11" dy="-9">+</tspan><tspan font-size="16" dy="9">/Li)</tspan></text>
<text transform="translate(1123.4,2209) rotate(-90)" font-family='"Liberation Sans", Arial, sans-serif' font-size="23.5" font-weight="bold" fill="#1a1a1a" textLength="297" lengthAdjust="spacingAndGlyphs">Differential capacity / dQ dV<tspan font-size="13" dy="-10">-1</tspan></text>
<text x="1401" y="1924.6" font-family='"Liberation Sans", Arial, sans-serif' font-size="17.5" font-weight="bold" text-anchor="start" fill="#1a1a1a" textLength="180.8" lengthAdjust="spacingAndGlyphs" xml:space="preserve">2.7-4.3 V, 0.5C, 25 &#176;C</text>
<text x="1196.3" y="2187.8" font-family='"Liberation Sans", Arial, sans-serif' font-size="25.5" font-weight="bold" fill="#1a1a1a" textLength="295.7" lengthAdjust="spacingAndGlyphs" xml:space="preserve"><tspan dy="0">Li[Ni</tspan><tspan font-size="15.5" dy="6.7">0.95</tspan><tspan dy="-6.7">Co</tspan><tspan font-size="15.5" dy="6.7">0.025</tspan><tspan dy="-6.7">Mn</tspan><tspan font-size="15.5" dy="6.7">0.025</tspan><tspan dy="-6.7">]O</tspan><tspan font-size="15.5" dy="6.7">2</tspan></text>
<text x="1299" y="1949.5" font-family='"Liberation Sans", Arial, sans-serif' font-size="17" font-weight="bold" text-anchor="start" fill="#1a1a1a" textLength="49" lengthAdjust="spacingAndGlyphs">H1+M</text>
<text x="1275.6" y="2025.6" font-family='"Liberation Sans", Arial, sans-serif' font-size="17" font-weight="bold" text-anchor="start" fill="#1a1a1a" textLength="20.4" lengthAdjust="spacingAndGlyphs">H1</text>
<text x="1358" y="2011.9" font-family='"Liberation Sans", Arial, sans-serif' font-size="17" font-weight="bold" text-anchor="start" fill="#1a1a1a" textLength="14.9" lengthAdjust="spacingAndGlyphs">M</text>
<text x="1429.6" y="2016.3" font-family='"Liberation Sans", Arial, sans-serif' font-size="17" font-weight="bold" text-anchor="start" fill="#1a1a1a" textLength="49.4" lengthAdjust="spacingAndGlyphs">M+H2</text>
<text x="1481.6" y="2032.3" font-family='"Liberation Sans", Arial, sans-serif' font-size="17" font-weight="bold" text-anchor="start" fill="#1a1a1a" textLength="21.2" lengthAdjust="spacingAndGlyphs">H2</text>
<text x="1522.4" y="1966.2" font-family='"Liberation Sans", Arial, sans-serif' font-size="17" font-weight="bold" text-anchor="start" fill="#1a1a1a" textLength="58.3" lengthAdjust="spacingAndGlyphs">H2+H3</text>
<text x="1550.3" y="2034.9" font-family='"Liberation Sans", Arial, sans-serif' font-size="17" font-weight="bold" text-anchor="start" fill="#1a1a1a" textLength="21.5" lengthAdjust="spacingAndGlyphs">H3</text>
<text x="1251.5" y="2096.1" font-family='"Liberation Sans", Arial, sans-serif' font-size="17" font-weight="bold" text-anchor="start" fill="#1a1a1a" textLength="20.4" lengthAdjust="spacingAndGlyphs">H1</text>
<text x="1380.3" y="2099.8" font-family='"Liberation Sans", Arial, sans-serif' font-size="17" font-weight="bold" text-anchor="start" fill="#1a1a1a" textLength="14.8" lengthAdjust="spacingAndGlyphs">M</text>
<text x="1312" y="2123.2" font-family='"Liberation Sans", Arial, sans-serif' font-size="17" font-weight="bold" text-anchor="start" fill="#1a1a1a" textLength="49" lengthAdjust="spacingAndGlyphs">H1+M</text>
<text x="1408.5" y="2109.1" font-family='"Liberation Sans", Arial, sans-serif' font-size="17" font-weight="bold" text-anchor="start" fill="#1a1a1a" textLength="48.2" lengthAdjust="spacingAndGlyphs">M+H2</text>
<text x="1466.8" y="2118.4" font-family='"Liberation Sans", Arial, sans-serif' font-size="17" font-weight="bold" text-anchor="start" fill="#1a1a1a" textLength="21.5" lengthAdjust="spacingAndGlyphs">H2</text>
<text x="1534.7" y="2092.4" font-family='"Liberation Sans", Arial, sans-serif' font-size="17" font-weight="bold" text-anchor="start" fill="#1a1a1a" textLength="22.3" lengthAdjust="spacingAndGlyphs">H3</text>
<text x="1509.4" y="2175.9" font-family='"Liberation Sans", Arial, sans-serif' font-size="17" font-weight="bold" text-anchor="start" fill="#1a1a1a" textLength="57.6" lengthAdjust="spacingAndGlyphs">H2+H3</text>
</svg>
</body></html>
